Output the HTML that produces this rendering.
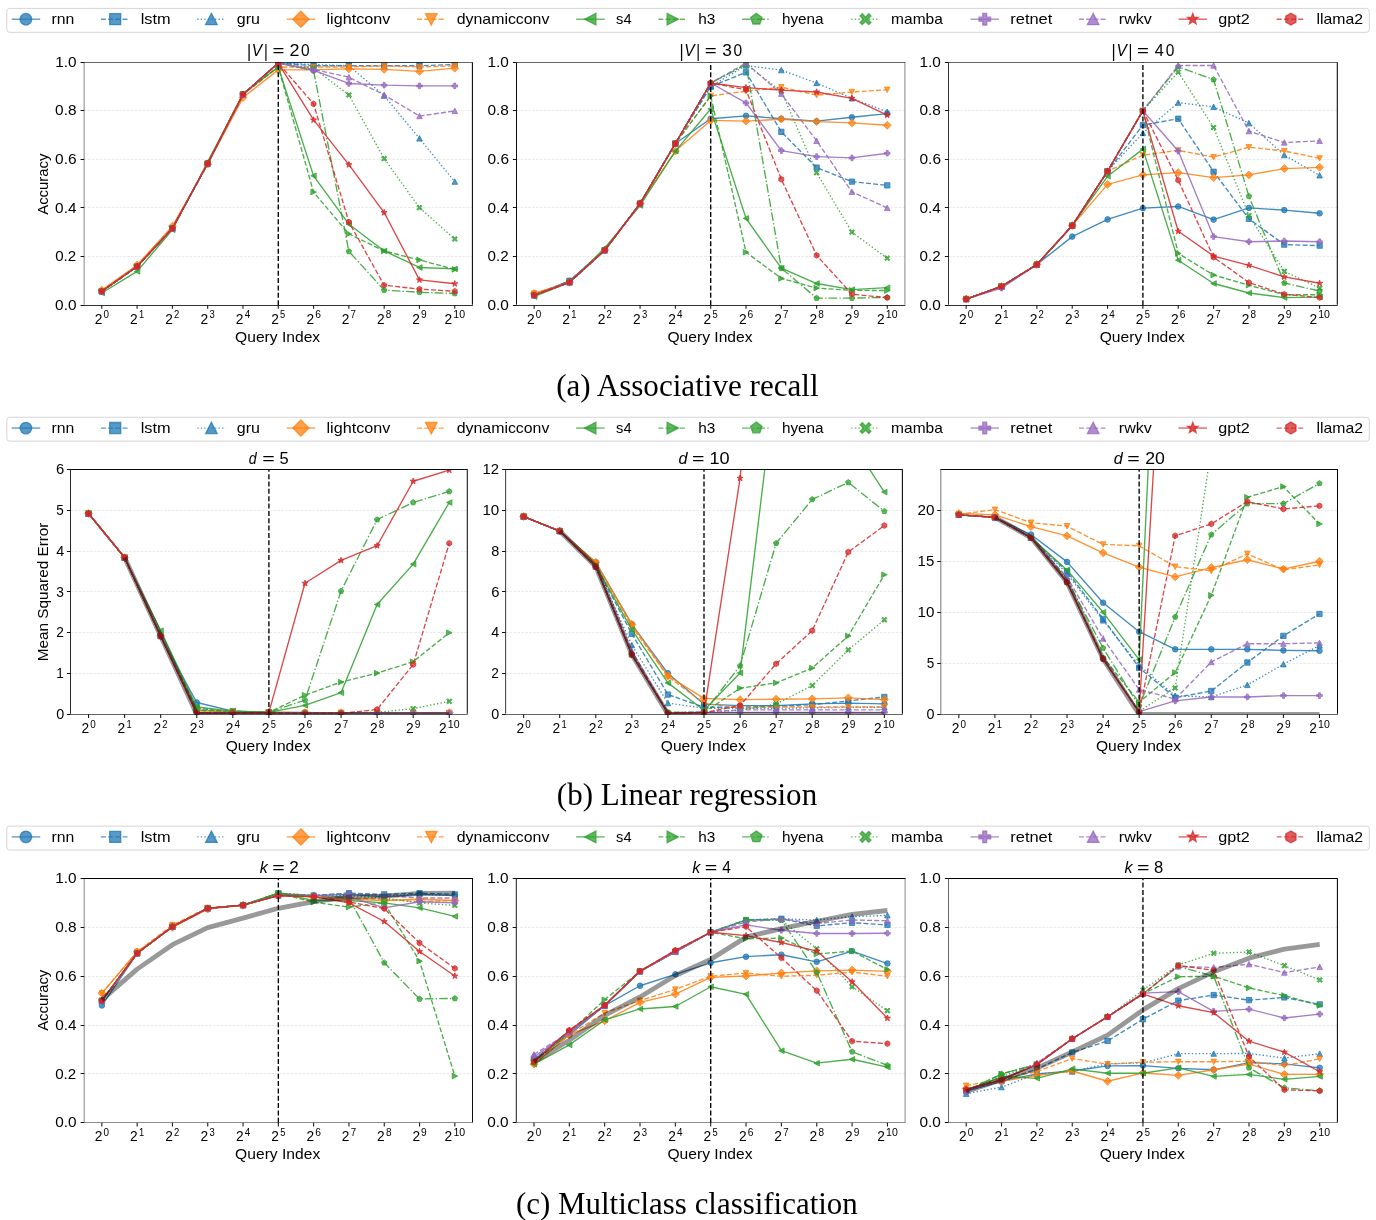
<!DOCTYPE html><html><head><meta charset="utf-8"><style>html,body{margin:0;padding:0;background:#fff;overflow:hidden;}svg{display:block;}#w{will-change:transform;width:1376px;height:1220px;}</style></head><body>
<div id="w">
<svg width="1376" height="1220" viewBox="0 0 1376 1220" font-family="Liberation Sans, sans-serif">
<rect x="0" y="0" width="1376" height="1220" fill="#fff"/>
<rect x="6.8" y="8.4" width="1362.5" height="23.9" rx="2.8" fill="#fff" stroke="#d5d5d5" stroke-width="1"/>
<line x1="11.7" y1="19.2" x2="40.2" y2="19.2" stroke="#1f77b4" stroke-opacity="0.75" stroke-width="1.35"/>
<circle cx="25.9" cy="19.2" r="5.8" fill="#1f77b4" fill-opacity="0.75" stroke="#1f77b4" stroke-opacity="0.75" stroke-width="1.3"/>
<text x="51.53" y="23.8" font-family="Liberation Sans, sans-serif" font-size="14.4" textLength="22.84" lengthAdjust="spacingAndGlyphs">rnn</text>
<line x1="100.92" y1="19.2" x2="129.42" y2="19.2" stroke="#1f77b4" stroke-opacity="0.75" stroke-width="1.35" stroke-dasharray="5.0,2.2"/>
<polygon points="109.7,13.7 120.7,13.7 120.7,24.7 109.7,24.7" fill="#1f77b4" fill-opacity="0.75" stroke="#1f77b4" stroke-opacity="0.75" stroke-width="1.3"/>
<text x="140.74" y="23.8" font-family="Liberation Sans, sans-serif" font-size="14.4" textLength="29.94" lengthAdjust="spacingAndGlyphs">lstm</text>
<line x1="197.19" y1="19.2" x2="225.69" y2="19.2" stroke="#1f77b4" stroke-opacity="0.75" stroke-width="1.35" stroke-dasharray="1.35,2.2"/>
<polygon points="211.4,13.4 217.2,24.7 205.6,24.7" fill="#1f77b4" fill-opacity="0.75" stroke="#1f77b4" stroke-opacity="0.75" stroke-width="1.3"/>
<text x="236.89" y="23.8" font-family="Liberation Sans, sans-serif" font-size="14.4" textLength="23.18" lengthAdjust="spacingAndGlyphs">gru</text>
<line x1="286.67" y1="19.2" x2="315.17" y2="19.2" stroke="#ff7f0e" stroke-opacity="0.75" stroke-width="1.35"/>
<polygon points="300.9,11.1 309,19.2 300.9,27.3 292.8,19.2" fill="#ff7f0e" fill-opacity="0.75" stroke="#ff7f0e" stroke-opacity="0.75" stroke-width="1.3"/>
<text x="326.5" y="23.8" font-family="Liberation Sans, sans-serif" font-size="14.4" textLength="63.77" lengthAdjust="spacingAndGlyphs">lightconv</text>
<line x1="417.03" y1="19.2" x2="445.53" y2="19.2" stroke="#ff7f0e" stroke-opacity="0.75" stroke-width="1.35" stroke-dasharray="5.0,2.2"/>
<polygon points="431.3,25 437.1,13.7 425.5,13.7" fill="#ff7f0e" fill-opacity="0.75" stroke="#ff7f0e" stroke-opacity="0.75" stroke-width="1.3"/>
<text x="456.73" y="23.8" font-family="Liberation Sans, sans-serif" font-size="14.4" textLength="92.68" lengthAdjust="spacingAndGlyphs">dynamicconv</text>
<line x1="576.17" y1="19.2" x2="604.67" y2="19.2" stroke="#2ca02c" stroke-opacity="0.75" stroke-width="1.35"/>
<polygon points="584.6,19.2 595.9,25 595.9,13.4" fill="#2ca02c" fill-opacity="0.75" stroke="#2ca02c" stroke-opacity="0.75" stroke-width="1.3"/>
<text x="616.11" y="23.8" font-family="Liberation Sans, sans-serif" font-size="14.4" textLength="15.47" lengthAdjust="spacingAndGlyphs">s4</text>
<line x1="658.34" y1="19.2" x2="686.84" y2="19.2" stroke="#2ca02c" stroke-opacity="0.75" stroke-width="1.35" stroke-dasharray="5.0,2.2"/>
<polygon points="678.4,19.2 667.1,25 667.1,13.4" fill="#2ca02c" fill-opacity="0.75" stroke="#2ca02c" stroke-opacity="0.75" stroke-width="1.3"/>
<text x="698.16" y="23.8" font-family="Liberation Sans, sans-serif" font-size="14.4" textLength="17.11" lengthAdjust="spacingAndGlyphs">h3</text>
<line x1="742.1" y1="19.2" x2="770.6" y2="19.2" stroke="#2ca02c" stroke-opacity="0.75" stroke-width="1.35" stroke-dasharray="8.6,2.2,1.35,2.2"/>
<polygon points="756.3,13.3 762,17.4 759.8,24 752.9,24 750.7,17.4" fill="#2ca02c" fill-opacity="0.75" stroke="#2ca02c" stroke-opacity="0.75" stroke-width="1.3"/>
<text x="781.92" y="23.8" font-family="Liberation Sans, sans-serif" font-size="14.4" textLength="41.69" lengthAdjust="spacingAndGlyphs">hyena</text>
<line x1="851.26" y1="19.2" x2="879.76" y2="19.2" stroke="#2ca02c" stroke-opacity="0.75" stroke-width="1.35" stroke-dasharray="1.35,2.2"/>
<polygon points="868.8,13.8 870.9,16 867.6,19.2 870.9,22.4 868.8,24.6 865.5,21.3 862.3,24.6 860.1,22.4 863.4,19.2 860.1,16 862.3,13.8 865.5,17.1" fill="#2ca02c" fill-opacity="0.75" stroke="#2ca02c" stroke-opacity="0.75" stroke-width="1.3"/>
<text x="891.11" y="23.8" font-family="Liberation Sans, sans-serif" font-size="14.4" textLength="51.74" lengthAdjust="spacingAndGlyphs">mamba</text>
<line x1="970.51" y1="19.2" x2="999.01" y2="19.2" stroke="#9467bd" stroke-opacity="0.75" stroke-width="1.35"/>
<polygon points="982.8,13.4 986.7,13.4 986.7,17.2 990.6,17.2 990.6,21.2 986.7,21.2 986.7,25 982.8,25 982.8,21.2 979,21.2 979,17.2 982.8,17.2" fill="#9467bd" fill-opacity="0.75" stroke="#9467bd" stroke-opacity="0.75" stroke-width="1.3"/>
<text x="1010.29" y="23.8" font-family="Liberation Sans, sans-serif" font-size="14.4" textLength="42.07" lengthAdjust="spacingAndGlyphs">retnet</text>
<line x1="1078.97" y1="19.2" x2="1107.47" y2="19.2" stroke="#9467bd" stroke-opacity="0.75" stroke-width="1.35" stroke-dasharray="5.0,2.2"/>
<polygon points="1093.2,13.4 1099,24.7 1087.4,24.7" fill="#9467bd" fill-opacity="0.75" stroke="#9467bd" stroke-opacity="0.75" stroke-width="1.3"/>
<text x="1118.79" y="23.8" font-family="Liberation Sans, sans-serif" font-size="14.4" textLength="32.99" lengthAdjust="spacingAndGlyphs">rwkv</text>
<line x1="1178.52" y1="19.2" x2="1207.02" y2="19.2" stroke="#d62728" stroke-opacity="0.75" stroke-width="1.35"/>
<polygon points="1192.8,13.5 1194.2,17.3 1198.2,17.4 1195,19.9 1196.1,23.8 1192.8,21.6 1189.4,23.8 1190.5,19.9 1187.4,17.4 1191.4,17.3" fill="#d62728" fill-opacity="0.75" stroke="#d62728" stroke-opacity="0.75" stroke-width="1.3"/>
<text x="1218.21" y="23.8" font-family="Liberation Sans, sans-serif" font-size="14.4" textLength="31.45" lengthAdjust="spacingAndGlyphs">gpt2</text>
<line x1="1276.65" y1="19.2" x2="1305.15" y2="19.2" stroke="#d62728" stroke-opacity="0.75" stroke-width="1.35" stroke-dasharray="5.0,2.2"/>
<polygon points="1290.9,13.3 1296,16.2 1296,22.2 1290.9,25.1 1285.8,22.2 1285.8,16.2" fill="#d62728" fill-opacity="0.75" stroke="#d62728" stroke-opacity="0.75" stroke-width="1.3"/>
<text x="1316.5" y="23.8" font-family="Liberation Sans, sans-serif" font-size="14.4" textLength="46.54" lengthAdjust="spacingAndGlyphs">llama2</text>
<rect x="6.8" y="417.25" width="1362.5" height="23.9" rx="2.8" fill="#fff" stroke="#d5d5d5" stroke-width="1"/>
<line x1="11.7" y1="428.05" x2="40.2" y2="428.05" stroke="#1f77b4" stroke-opacity="0.75" stroke-width="1.35"/>
<circle cx="25.9" cy="428.1" r="5.8" fill="#1f77b4" fill-opacity="0.75" stroke="#1f77b4" stroke-opacity="0.75" stroke-width="1.3"/>
<text x="51.53" y="432.65" font-family="Liberation Sans, sans-serif" font-size="14.4" textLength="22.84" lengthAdjust="spacingAndGlyphs">rnn</text>
<line x1="100.92" y1="428.05" x2="129.42" y2="428.05" stroke="#1f77b4" stroke-opacity="0.75" stroke-width="1.35" stroke-dasharray="5.0,2.2"/>
<polygon points="109.7,422.5 120.7,422.5 120.7,433.6 109.7,433.6" fill="#1f77b4" fill-opacity="0.75" stroke="#1f77b4" stroke-opacity="0.75" stroke-width="1.3"/>
<text x="140.74" y="432.65" font-family="Liberation Sans, sans-serif" font-size="14.4" textLength="29.94" lengthAdjust="spacingAndGlyphs">lstm</text>
<line x1="197.19" y1="428.05" x2="225.69" y2="428.05" stroke="#1f77b4" stroke-opacity="0.75" stroke-width="1.35" stroke-dasharray="1.35,2.2"/>
<polygon points="211.4,422.2 217.2,433.6 205.6,433.6" fill="#1f77b4" fill-opacity="0.75" stroke="#1f77b4" stroke-opacity="0.75" stroke-width="1.3"/>
<text x="236.89" y="432.65" font-family="Liberation Sans, sans-serif" font-size="14.4" textLength="23.18" lengthAdjust="spacingAndGlyphs">gru</text>
<line x1="286.67" y1="428.05" x2="315.17" y2="428.05" stroke="#ff7f0e" stroke-opacity="0.75" stroke-width="1.35"/>
<polygon points="300.9,419.9 309,428.1 300.9,436.2 292.8,428.1" fill="#ff7f0e" fill-opacity="0.75" stroke="#ff7f0e" stroke-opacity="0.75" stroke-width="1.3"/>
<text x="326.5" y="432.65" font-family="Liberation Sans, sans-serif" font-size="14.4" textLength="63.77" lengthAdjust="spacingAndGlyphs">lightconv</text>
<line x1="417.03" y1="428.05" x2="445.53" y2="428.05" stroke="#ff7f0e" stroke-opacity="0.75" stroke-width="1.35" stroke-dasharray="5.0,2.2"/>
<polygon points="431.3,433.9 437.1,422.5 425.5,422.5" fill="#ff7f0e" fill-opacity="0.75" stroke="#ff7f0e" stroke-opacity="0.75" stroke-width="1.3"/>
<text x="456.73" y="432.65" font-family="Liberation Sans, sans-serif" font-size="14.4" textLength="92.68" lengthAdjust="spacingAndGlyphs">dynamicconv</text>
<line x1="576.17" y1="428.05" x2="604.67" y2="428.05" stroke="#2ca02c" stroke-opacity="0.75" stroke-width="1.35"/>
<polygon points="584.6,428.1 595.9,433.9 595.9,422.2" fill="#2ca02c" fill-opacity="0.75" stroke="#2ca02c" stroke-opacity="0.75" stroke-width="1.3"/>
<text x="616.11" y="432.65" font-family="Liberation Sans, sans-serif" font-size="14.4" textLength="15.47" lengthAdjust="spacingAndGlyphs">s4</text>
<line x1="658.34" y1="428.05" x2="686.84" y2="428.05" stroke="#2ca02c" stroke-opacity="0.75" stroke-width="1.35" stroke-dasharray="5.0,2.2"/>
<polygon points="678.4,428.1 667.1,433.9 667.1,422.2" fill="#2ca02c" fill-opacity="0.75" stroke="#2ca02c" stroke-opacity="0.75" stroke-width="1.3"/>
<text x="698.16" y="432.65" font-family="Liberation Sans, sans-serif" font-size="14.4" textLength="17.11" lengthAdjust="spacingAndGlyphs">h3</text>
<line x1="742.1" y1="428.05" x2="770.6" y2="428.05" stroke="#2ca02c" stroke-opacity="0.75" stroke-width="1.35" stroke-dasharray="8.6,2.2,1.35,2.2"/>
<polygon points="756.3,422.1 762,426.2 759.8,432.8 752.9,432.8 750.7,426.2" fill="#2ca02c" fill-opacity="0.75" stroke="#2ca02c" stroke-opacity="0.75" stroke-width="1.3"/>
<text x="781.92" y="432.65" font-family="Liberation Sans, sans-serif" font-size="14.4" textLength="41.69" lengthAdjust="spacingAndGlyphs">hyena</text>
<line x1="851.26" y1="428.05" x2="879.76" y2="428.05" stroke="#2ca02c" stroke-opacity="0.75" stroke-width="1.35" stroke-dasharray="1.35,2.2"/>
<polygon points="868.8,422.7 870.9,424.8 867.6,428.1 870.9,431.3 868.8,433.4 865.5,430.2 862.3,433.4 860.1,431.3 863.4,428.1 860.1,424.8 862.3,422.7 865.5,425.9" fill="#2ca02c" fill-opacity="0.75" stroke="#2ca02c" stroke-opacity="0.75" stroke-width="1.3"/>
<text x="891.11" y="432.65" font-family="Liberation Sans, sans-serif" font-size="14.4" textLength="51.74" lengthAdjust="spacingAndGlyphs">mamba</text>
<line x1="970.51" y1="428.05" x2="999.01" y2="428.05" stroke="#9467bd" stroke-opacity="0.75" stroke-width="1.35"/>
<polygon points="982.8,422.2 986.7,422.2 986.7,426.1 990.6,426.1 990.6,430 986.7,430 986.7,433.9 982.8,433.9 982.8,430 979,430 979,426.1 982.8,426.1" fill="#9467bd" fill-opacity="0.75" stroke="#9467bd" stroke-opacity="0.75" stroke-width="1.3"/>
<text x="1010.29" y="432.65" font-family="Liberation Sans, sans-serif" font-size="14.4" textLength="42.07" lengthAdjust="spacingAndGlyphs">retnet</text>
<line x1="1078.97" y1="428.05" x2="1107.47" y2="428.05" stroke="#9467bd" stroke-opacity="0.75" stroke-width="1.35" stroke-dasharray="5.0,2.2"/>
<polygon points="1093.2,422.2 1099,433.6 1087.4,433.6" fill="#9467bd" fill-opacity="0.75" stroke="#9467bd" stroke-opacity="0.75" stroke-width="1.3"/>
<text x="1118.79" y="432.65" font-family="Liberation Sans, sans-serif" font-size="14.4" textLength="32.99" lengthAdjust="spacingAndGlyphs">rwkv</text>
<line x1="1178.52" y1="428.05" x2="1207.02" y2="428.05" stroke="#d62728" stroke-opacity="0.75" stroke-width="1.35"/>
<polygon points="1192.8,422.4 1194.2,426.1 1198.2,426.3 1195,428.8 1196.1,432.6 1192.8,430.4 1189.4,432.6 1190.5,428.8 1187.4,426.3 1191.4,426.1" fill="#d62728" fill-opacity="0.75" stroke="#d62728" stroke-opacity="0.75" stroke-width="1.3"/>
<text x="1218.21" y="432.65" font-family="Liberation Sans, sans-serif" font-size="14.4" textLength="31.45" lengthAdjust="spacingAndGlyphs">gpt2</text>
<line x1="1276.65" y1="428.05" x2="1305.15" y2="428.05" stroke="#d62728" stroke-opacity="0.75" stroke-width="1.35" stroke-dasharray="5.0,2.2"/>
<polygon points="1290.9,422.1 1296,425.1 1296,431 1290.9,434 1285.8,431 1285.8,425.1" fill="#d62728" fill-opacity="0.75" stroke="#d62728" stroke-opacity="0.75" stroke-width="1.3"/>
<text x="1316.5" y="432.65" font-family="Liberation Sans, sans-serif" font-size="14.4" textLength="46.54" lengthAdjust="spacingAndGlyphs">llama2</text>
<rect x="6.8" y="826.1" width="1362.5" height="23.9" rx="2.8" fill="#fff" stroke="#d5d5d5" stroke-width="1"/>
<line x1="11.7" y1="836.9" x2="40.2" y2="836.9" stroke="#1f77b4" stroke-opacity="0.75" stroke-width="1.35"/>
<circle cx="25.9" cy="836.9" r="5.8" fill="#1f77b4" fill-opacity="0.75" stroke="#1f77b4" stroke-opacity="0.75" stroke-width="1.3"/>
<text x="51.53" y="841.5" font-family="Liberation Sans, sans-serif" font-size="14.4" textLength="22.84" lengthAdjust="spacingAndGlyphs">rnn</text>
<line x1="100.92" y1="836.9" x2="129.42" y2="836.9" stroke="#1f77b4" stroke-opacity="0.75" stroke-width="1.35" stroke-dasharray="5.0,2.2"/>
<polygon points="109.7,831.4 120.7,831.4 120.7,842.4 109.7,842.4" fill="#1f77b4" fill-opacity="0.75" stroke="#1f77b4" stroke-opacity="0.75" stroke-width="1.3"/>
<text x="140.74" y="841.5" font-family="Liberation Sans, sans-serif" font-size="14.4" textLength="29.94" lengthAdjust="spacingAndGlyphs">lstm</text>
<line x1="197.19" y1="836.9" x2="225.69" y2="836.9" stroke="#1f77b4" stroke-opacity="0.75" stroke-width="1.35" stroke-dasharray="1.35,2.2"/>
<polygon points="211.4,831.1 217.2,842.4 205.6,842.4" fill="#1f77b4" fill-opacity="0.75" stroke="#1f77b4" stroke-opacity="0.75" stroke-width="1.3"/>
<text x="236.89" y="841.5" font-family="Liberation Sans, sans-serif" font-size="14.4" textLength="23.18" lengthAdjust="spacingAndGlyphs">gru</text>
<line x1="286.67" y1="836.9" x2="315.17" y2="836.9" stroke="#ff7f0e" stroke-opacity="0.75" stroke-width="1.35"/>
<polygon points="300.9,828.8 309,836.9 300.9,845 292.8,836.9" fill="#ff7f0e" fill-opacity="0.75" stroke="#ff7f0e" stroke-opacity="0.75" stroke-width="1.3"/>
<text x="326.5" y="841.5" font-family="Liberation Sans, sans-serif" font-size="14.4" textLength="63.77" lengthAdjust="spacingAndGlyphs">lightconv</text>
<line x1="417.03" y1="836.9" x2="445.53" y2="836.9" stroke="#ff7f0e" stroke-opacity="0.75" stroke-width="1.35" stroke-dasharray="5.0,2.2"/>
<polygon points="431.3,842.7 437.1,831.4 425.5,831.4" fill="#ff7f0e" fill-opacity="0.75" stroke="#ff7f0e" stroke-opacity="0.75" stroke-width="1.3"/>
<text x="456.73" y="841.5" font-family="Liberation Sans, sans-serif" font-size="14.4" textLength="92.68" lengthAdjust="spacingAndGlyphs">dynamicconv</text>
<line x1="576.17" y1="836.9" x2="604.67" y2="836.9" stroke="#2ca02c" stroke-opacity="0.75" stroke-width="1.35"/>
<polygon points="584.6,836.9 595.9,842.7 595.9,831.1" fill="#2ca02c" fill-opacity="0.75" stroke="#2ca02c" stroke-opacity="0.75" stroke-width="1.3"/>
<text x="616.11" y="841.5" font-family="Liberation Sans, sans-serif" font-size="14.4" textLength="15.47" lengthAdjust="spacingAndGlyphs">s4</text>
<line x1="658.34" y1="836.9" x2="686.84" y2="836.9" stroke="#2ca02c" stroke-opacity="0.75" stroke-width="1.35" stroke-dasharray="5.0,2.2"/>
<polygon points="678.4,836.9 667.1,842.7 667.1,831.1" fill="#2ca02c" fill-opacity="0.75" stroke="#2ca02c" stroke-opacity="0.75" stroke-width="1.3"/>
<text x="698.16" y="841.5" font-family="Liberation Sans, sans-serif" font-size="14.4" textLength="17.11" lengthAdjust="spacingAndGlyphs">h3</text>
<line x1="742.1" y1="836.9" x2="770.6" y2="836.9" stroke="#2ca02c" stroke-opacity="0.75" stroke-width="1.35" stroke-dasharray="8.6,2.2,1.35,2.2"/>
<polygon points="756.3,831 762,835.1 759.8,841.7 752.9,841.7 750.7,835.1" fill="#2ca02c" fill-opacity="0.75" stroke="#2ca02c" stroke-opacity="0.75" stroke-width="1.3"/>
<text x="781.92" y="841.5" font-family="Liberation Sans, sans-serif" font-size="14.4" textLength="41.69" lengthAdjust="spacingAndGlyphs">hyena</text>
<line x1="851.26" y1="836.9" x2="879.76" y2="836.9" stroke="#2ca02c" stroke-opacity="0.75" stroke-width="1.35" stroke-dasharray="1.35,2.2"/>
<polygon points="868.8,831.5 870.9,833.7 867.6,836.9 870.9,840.1 868.8,842.3 865.5,839 862.3,842.3 860.1,840.1 863.4,836.9 860.1,833.7 862.3,831.5 865.5,834.8" fill="#2ca02c" fill-opacity="0.75" stroke="#2ca02c" stroke-opacity="0.75" stroke-width="1.3"/>
<text x="891.11" y="841.5" font-family="Liberation Sans, sans-serif" font-size="14.4" textLength="51.74" lengthAdjust="spacingAndGlyphs">mamba</text>
<line x1="970.51" y1="836.9" x2="999.01" y2="836.9" stroke="#9467bd" stroke-opacity="0.75" stroke-width="1.35"/>
<polygon points="982.8,831.1 986.7,831.1 986.7,834.9 990.6,834.9 990.6,838.9 986.7,838.9 986.7,842.7 982.8,842.7 982.8,838.9 979,838.9 979,834.9 982.8,834.9" fill="#9467bd" fill-opacity="0.75" stroke="#9467bd" stroke-opacity="0.75" stroke-width="1.3"/>
<text x="1010.29" y="841.5" font-family="Liberation Sans, sans-serif" font-size="14.4" textLength="42.07" lengthAdjust="spacingAndGlyphs">retnet</text>
<line x1="1078.97" y1="836.9" x2="1107.47" y2="836.9" stroke="#9467bd" stroke-opacity="0.75" stroke-width="1.35" stroke-dasharray="5.0,2.2"/>
<polygon points="1093.2,831.1 1099,842.4 1087.4,842.4" fill="#9467bd" fill-opacity="0.75" stroke="#9467bd" stroke-opacity="0.75" stroke-width="1.3"/>
<text x="1118.79" y="841.5" font-family="Liberation Sans, sans-serif" font-size="14.4" textLength="32.99" lengthAdjust="spacingAndGlyphs">rwkv</text>
<line x1="1178.52" y1="836.9" x2="1207.02" y2="836.9" stroke="#d62728" stroke-opacity="0.75" stroke-width="1.35"/>
<polygon points="1192.8,831.2 1194.2,835 1198.2,835.1 1195,837.6 1196.1,841.5 1192.8,839.3 1189.4,841.5 1190.5,837.6 1187.4,835.1 1191.4,835" fill="#d62728" fill-opacity="0.75" stroke="#d62728" stroke-opacity="0.75" stroke-width="1.3"/>
<text x="1218.21" y="841.5" font-family="Liberation Sans, sans-serif" font-size="14.4" textLength="31.45" lengthAdjust="spacingAndGlyphs">gpt2</text>
<line x1="1276.65" y1="836.9" x2="1305.15" y2="836.9" stroke="#d62728" stroke-opacity="0.75" stroke-width="1.35" stroke-dasharray="5.0,2.2"/>
<polygon points="1290.9,831 1296,833.9 1296,839.9 1290.9,842.8 1285.8,839.9 1285.8,833.9" fill="#d62728" fill-opacity="0.75" stroke="#d62728" stroke-opacity="0.75" stroke-width="1.3"/>
<text x="1316.5" y="841.5" font-family="Liberation Sans, sans-serif" font-size="14.4" textLength="46.54" lengthAdjust="spacingAndGlyphs">llama2</text>
<clipPath id="c0"><rect x="84.15" y="62.1" width="388.25" height="243.05"/></clipPath>
<line x1="84.15" y1="256.5" x2="472.4" y2="256.5" stroke="#b0b0b0" stroke-opacity="0.3" stroke-width="0.9" stroke-dasharray="2.8,1.1"/>
<line x1="84.15" y1="207.5" x2="472.4" y2="207.5" stroke="#b0b0b0" stroke-opacity="0.3" stroke-width="0.9" stroke-dasharray="2.8,1.1"/>
<line x1="84.15" y1="159.5" x2="472.4" y2="159.5" stroke="#b0b0b0" stroke-opacity="0.3" stroke-width="0.9" stroke-dasharray="2.8,1.1"/>
<line x1="84.15" y1="110.5" x2="472.4" y2="110.5" stroke="#b0b0b0" stroke-opacity="0.3" stroke-width="0.9" stroke-dasharray="2.8,1.1"/>
<g clip-path="url(#c0)">
<polyline points="101.8,291.3 137.09,266.51 172.39,228.35 207.68,163.45 242.98,94.43 278.27,63.07 313.57,62.1 348.87,62.1 384.16,62.1 419.46,62.1 454.75,62.1" fill="none" stroke="#1f77b4" stroke-opacity="0.85" stroke-width="1.35" stroke-linejoin="round"/>
<g fill="#1f77b4" fill-opacity="0.75" stroke="#1f77b4" stroke-opacity="0.75" stroke-width="1">
<circle cx="101.8" cy="291.3" r="2.8"/>
<circle cx="137.1" cy="266.5" r="2.8"/>
<circle cx="172.4" cy="228.3" r="2.8"/>
<circle cx="207.7" cy="163.5" r="2.8"/>
<circle cx="243" cy="94.4" r="2.8"/>
<circle cx="278.3" cy="63.1" r="2.8"/>
<circle cx="313.6" cy="62.1" r="2.8"/>
<circle cx="348.9" cy="62.1" r="2.8"/>
<circle cx="384.2" cy="62.1" r="2.8"/>
<circle cx="419.5" cy="62.1" r="2.8"/>
<circle cx="454.8" cy="62.1" r="2.8"/>
</g>
<polyline points="101.8,291.3 137.09,266.51 172.39,228.35 207.68,163.45 242.98,94.43 278.27,63.07 313.57,65.75 348.87,65.75 384.16,65.75 419.46,65.75 454.75,64.53" fill="none" stroke="#1f77b4" stroke-opacity="0.85" stroke-width="1.35" stroke-linejoin="round" stroke-dasharray="5.0,2.2"/>
<g fill="#1f77b4" fill-opacity="0.75" stroke="#1f77b4" stroke-opacity="0.75" stroke-width="1">
<polygon points="99.1,288.6 104.5,288.6 104.5,294 99.1,294"/>
<polygon points="134.4,263.8 139.8,263.8 139.8,269.2 134.4,269.2"/>
<polygon points="169.7,225.7 175,225.7 175,231 169.7,231"/>
<polygon points="205,160.8 210.3,160.8 210.3,166.1 205,166.1"/>
<polygon points="240.3,91.8 245.6,91.8 245.6,97.1 240.3,97.1"/>
<polygon points="275.6,60.4 280.9,60.4 280.9,65.7 275.6,65.7"/>
<polygon points="310.9,63.1 316.2,63.1 316.2,68.4 310.9,68.4"/>
<polygon points="346.2,63.1 351.5,63.1 351.5,68.4 346.2,68.4"/>
<polygon points="381.5,63.1 386.8,63.1 386.8,68.4 381.5,68.4"/>
<polygon points="416.8,63.1 422.1,63.1 422.1,68.4 416.8,68.4"/>
<polygon points="452.1,61.9 457.4,61.9 457.4,67.2 452.1,67.2"/>
</g>
<polyline points="101.8,291.3 137.09,266.51 172.39,228.35 207.68,163.45 242.98,94.43 278.27,63.07 313.57,64.53 348.87,65.75 384.16,95.64 419.46,138.42 454.75,181.68" fill="none" stroke="#1f77b4" stroke-opacity="0.85" stroke-width="1.35" stroke-linejoin="round" stroke-dasharray="1.35,2.2"/>
<g fill="#1f77b4" fill-opacity="0.75" stroke="#1f77b4" stroke-opacity="0.75" stroke-width="1">
<polygon points="101.8,288.5 104.6,294 99,294"/>
<polygon points="137.1,263.7 139.9,269.2 134.3,269.2"/>
<polygon points="172.4,225.5 175.2,231 169.6,231"/>
<polygon points="207.7,160.7 210.5,166.1 204.9,166.1"/>
<polygon points="243,91.6 245.8,97.1 240.2,97.1"/>
<polygon points="278.3,60.3 281.1,65.7 275.5,65.7"/>
<polygon points="313.6,61.7 316.4,67.2 310.8,67.2"/>
<polygon points="348.9,62.9 351.7,68.4 346.1,68.4"/>
<polygon points="384.2,92.8 387,98.3 381.4,98.3"/>
<polygon points="419.5,135.6 422.3,141.1 416.7,141.1"/>
<polygon points="454.8,178.9 457.6,184.3 452,184.3"/>
</g>
<polyline points="101.8,290.08 137.09,265.05 172.39,226.16 207.68,164.18 242.98,97.59 278.27,69.88 313.57,69.88 348.87,68.91 384.16,69.39 419.46,71.34 454.75,68.18" fill="none" stroke="#ff7f0e" stroke-opacity="0.85" stroke-width="1.35" stroke-linejoin="round"/>
<g fill="#ff7f0e" fill-opacity="0.75" stroke="#ff7f0e" stroke-opacity="0.75" stroke-width="1">
<polygon points="101.8,286.2 105.7,290.1 101.8,294 97.9,290.1"/>
<polygon points="137.1,261.1 141,265 137.1,269 133.2,265"/>
<polygon points="172.4,222.2 176.3,226.2 172.4,230.1 168.5,226.2"/>
<polygon points="207.7,160.3 211.6,164.2 207.7,168.1 203.8,164.2"/>
<polygon points="243,93.7 246.9,97.6 243,101.5 239.1,97.6"/>
<polygon points="278.3,66 282.2,69.9 278.3,73.8 274.4,69.9"/>
<polygon points="313.6,66 317.5,69.9 313.6,73.8 309.7,69.9"/>
<polygon points="348.9,65 352.8,68.9 348.9,72.8 344.9,68.9"/>
<polygon points="384.2,65.5 388.1,69.4 384.2,73.3 380.2,69.4"/>
<polygon points="419.5,67.4 423.4,71.3 419.5,75.3 415.5,71.3"/>
<polygon points="454.8,64.3 458.7,68.2 454.8,72.1 450.8,68.2"/>
</g>
<polyline points="101.8,291.3 137.09,266.51 172.39,228.35 207.68,163.45 242.98,94.43 278.27,66.96 313.57,66.96 348.87,66.96 384.16,65.75 419.46,66.96 454.75,65.75" fill="none" stroke="#ff7f0e" stroke-opacity="0.85" stroke-width="1.35" stroke-linejoin="round" stroke-dasharray="5.0,2.2"/>
<g fill="#ff7f0e" fill-opacity="0.75" stroke="#ff7f0e" stroke-opacity="0.75" stroke-width="1">
<polygon points="101.8,294.1 104.6,288.6 99,288.6"/>
<polygon points="137.1,269.3 139.9,263.8 134.3,263.8"/>
<polygon points="172.4,231.1 175.2,225.7 169.6,225.7"/>
<polygon points="207.7,166.3 210.5,160.8 204.9,160.8"/>
<polygon points="243,97.2 245.8,91.8 240.2,91.8"/>
<polygon points="278.3,69.8 281.1,64.3 275.5,64.3"/>
<polygon points="313.6,69.8 316.4,64.3 310.8,64.3"/>
<polygon points="348.9,69.8 351.7,64.3 346.1,64.3"/>
<polygon points="384.2,68.5 387,63.1 381.4,63.1"/>
<polygon points="419.5,69.8 422.3,64.3 416.7,64.3"/>
<polygon points="454.8,68.5 457.6,63.1 452,63.1"/>
</g>
<polyline points="101.8,293 137.09,271.37 172.39,229.8 207.68,161.75 242.98,93.7 278.27,66.96 313.57,175.85 348.87,224.21 384.16,250.95 419.46,267.48 454.75,268.94" fill="none" stroke="#2ca02c" stroke-opacity="0.85" stroke-width="1.35" stroke-linejoin="round"/>
<g fill="#2ca02c" fill-opacity="0.75" stroke="#2ca02c" stroke-opacity="0.75" stroke-width="1">
<polygon points="99,293 104.5,295.8 104.5,290.2"/>
<polygon points="134.3,271.4 139.8,274.2 139.8,268.6"/>
<polygon points="169.6,229.8 175,232.6 175,227"/>
<polygon points="204.9,161.8 210.3,164.6 210.3,159"/>
<polygon points="240.2,93.7 245.6,96.5 245.6,90.9"/>
<polygon points="275.5,67 280.9,69.8 280.9,64.2"/>
<polygon points="310.8,175.8 316.2,178.6 316.2,173"/>
<polygon points="346.1,224.2 351.5,227 351.5,221.4"/>
<polygon points="381.4,250.9 386.8,253.7 386.8,248.1"/>
<polygon points="416.7,267.5 422.1,270.3 422.1,264.7"/>
<polygon points="452,268.9 457.4,271.7 457.4,266.1"/>
</g>
<polyline points="101.8,291.3 137.09,266.51 172.39,228.35 207.68,163.45 242.98,94.43 278.27,66.96 313.57,192.13 348.87,233.94 384.16,250.95 419.46,259.94 454.75,269.42" fill="none" stroke="#2ca02c" stroke-opacity="0.85" stroke-width="1.35" stroke-linejoin="round" stroke-dasharray="5.0,2.2"/>
<g fill="#2ca02c" fill-opacity="0.75" stroke="#2ca02c" stroke-opacity="0.75" stroke-width="1">
<polygon points="104.6,291.3 99.1,294.1 99.1,288.5"/>
<polygon points="139.9,266.5 134.4,269.3 134.4,263.7"/>
<polygon points="175.2,228.3 169.7,231.1 169.7,225.5"/>
<polygon points="210.5,163.5 205,166.3 205,160.7"/>
<polygon points="245.8,94.4 240.3,97.2 240.3,91.6"/>
<polygon points="281.1,67 275.6,69.8 275.6,64.2"/>
<polygon points="316.4,192.1 310.9,194.9 310.9,189.3"/>
<polygon points="351.7,233.9 346.2,236.7 346.2,231.1"/>
<polygon points="387,250.9 381.5,253.7 381.5,248.1"/>
<polygon points="422.3,259.9 416.8,262.7 416.8,257.1"/>
<polygon points="457.6,269.4 452.1,272.2 452.1,266.6"/>
</g>
<polyline points="101.8,291.3 137.09,266.51 172.39,228.35 207.68,163.45 242.98,94.43 278.27,63.07 313.57,70.61 348.87,251.44 384.16,290.08 419.46,292.27 454.75,293.48" fill="none" stroke="#2ca02c" stroke-opacity="0.85" stroke-width="1.35" stroke-linejoin="round" stroke-dasharray="8.6,2.2,1.35,2.2"/>
<g fill="#2ca02c" fill-opacity="0.75" stroke="#2ca02c" stroke-opacity="0.75" stroke-width="1">
<polygon points="101.8,288.4 104.5,290.4 103.5,293.6 100.1,293.6 99.1,290.4"/>
<polygon points="137.1,263.6 139.8,265.6 138.8,268.8 135.4,268.8 134.4,265.6"/>
<polygon points="172.4,225.5 175.1,227.5 174.1,230.7 170.7,230.7 169.7,227.5"/>
<polygon points="207.7,160.6 210.4,162.6 209.4,165.8 206,165.8 205,162.6"/>
<polygon points="243,91.6 245.7,93.5 244.7,96.7 241.3,96.7 240.3,93.5"/>
<polygon points="278.3,60.2 281,62.2 280,65.4 276.6,65.4 275.6,62.2"/>
<polygon points="313.6,67.8 316.3,69.7 315.2,72.9 311.9,72.9 310.9,69.7"/>
<polygon points="348.9,248.6 351.6,250.6 350.5,253.7 347.2,253.7 346.1,250.6"/>
<polygon points="384.2,287.2 386.9,289.2 385.8,292.4 382.5,292.4 381.4,289.2"/>
<polygon points="419.5,289.4 422.2,291.4 421.1,294.6 417.8,294.6 416.7,291.4"/>
<polygon points="454.8,290.6 457.5,292.6 456.4,295.8 453.1,295.8 452,292.6"/>
</g>
<polyline points="101.8,291.3 137.09,266.51 172.39,228.35 207.68,163.45 242.98,94.43 278.27,63.07 313.57,68.18 348.87,94.91 384.16,158.59 419.46,207.69 454.75,239.04" fill="none" stroke="#2ca02c" stroke-opacity="0.85" stroke-width="1.35" stroke-linejoin="round" stroke-dasharray="1.35,2.2"/>
<g fill="#2ca02c" fill-opacity="0.75" stroke="#2ca02c" stroke-opacity="0.75" stroke-width="1">
<polygon points="103.4,288.7 104.4,289.7 102.8,291.3 104.4,292.9 103.4,293.9 101.8,292.3 100.2,293.9 99.2,292.9 100.8,291.3 99.2,289.7 100.2,288.7 101.8,290.3"/>
<polygon points="138.7,263.9 139.7,264.9 138.1,266.5 139.7,268.1 138.7,269.1 137.1,267.5 135.5,269.1 134.5,268.1 136.1,266.5 134.5,264.9 135.5,263.9 137.1,265.5"/>
<polygon points="174,225.8 175,226.8 173.4,228.3 175,229.9 174,230.9 172.4,229.4 170.8,230.9 169.8,229.9 171.4,228.3 169.8,226.8 170.8,225.8 172.4,227.3"/>
<polygon points="209.2,160.9 210.3,161.9 208.7,163.5 210.3,165 209.2,166 207.7,164.5 206.1,166 205.1,165 206.7,163.5 205.1,161.9 206.1,160.9 207.7,162.4"/>
<polygon points="244.5,91.8 245.6,92.9 244,94.4 245.6,96 244.5,97 243,95.5 241.4,97 240.4,96 241.9,94.4 240.4,92.9 241.4,91.8 243,93.4"/>
<polygon points="279.8,60.5 280.9,61.5 279.3,63.1 280.9,64.6 279.8,65.7 278.3,64.1 276.7,65.7 275.7,64.6 277.2,63.1 275.7,61.5 276.7,60.5 278.3,62"/>
<polygon points="315.1,65.6 316.2,66.6 314.6,68.2 316.2,69.7 315.1,70.8 313.6,69.2 312,70.8 311,69.7 312.5,68.2 311,66.6 312,65.6 313.6,67.1"/>
<polygon points="350.4,92.3 351.5,93.3 349.9,94.9 351.5,96.5 350.4,97.5 348.9,95.9 347.3,97.5 346.3,96.5 347.8,94.9 346.3,93.3 347.3,92.3 348.9,93.9"/>
<polygon points="385.7,156 386.8,157 385.2,158.6 386.8,160.2 385.7,161.2 384.2,159.6 382.6,161.2 381.6,160.2 383.1,158.6 381.6,157 382.6,156 384.2,157.6"/>
<polygon points="421,205.1 422.1,206.1 420.5,207.7 422.1,209.3 421,210.3 419.5,208.7 417.9,210.3 416.9,209.3 418.4,207.7 416.9,206.1 417.9,205.1 419.5,206.7"/>
<polygon points="456.3,236.4 457.3,237.5 455.8,239 457.3,240.6 456.3,241.6 454.8,240.1 453.2,241.6 452.2,240.6 453.7,239 452.2,237.5 453.2,236.4 454.8,238"/>
</g>
<polyline points="101.8,291.3 137.09,266.51 172.39,228.35 207.68,163.45 242.98,94.43 278.27,63.07 313.57,70.36 348.87,83.49 384.16,85.19 419.46,85.92 454.75,85.92" fill="none" stroke="#9467bd" stroke-opacity="0.85" stroke-width="1.35" stroke-linejoin="round"/>
<g fill="#9467bd" fill-opacity="0.75" stroke="#9467bd" stroke-opacity="0.75" stroke-width="1">
<polygon points="100.8,288.5 102.7,288.5 102.7,290.3 104.6,290.3 104.6,292.2 102.7,292.2 102.7,294.1 100.8,294.1 100.8,292.2 99,292.2 99,290.3 100.8,290.3"/>
<polygon points="136.1,263.7 138,263.7 138,265.6 139.9,265.6 139.9,267.5 138,267.5 138,269.3 136.1,269.3 136.1,267.5 134.3,267.5 134.3,265.6 136.1,265.6"/>
<polygon points="171.4,225.5 173.3,225.5 173.3,227.4 175.2,227.4 175.2,229.3 173.3,229.3 173.3,231.1 171.4,231.1 171.4,229.3 169.6,229.3 169.6,227.4 171.4,227.4"/>
<polygon points="206.7,160.7 208.6,160.7 208.6,162.5 210.5,162.5 210.5,164.4 208.6,164.4 208.6,166.3 206.7,166.3 206.7,164.4 204.9,164.4 204.9,162.5 206.7,162.5"/>
<polygon points="242,91.6 243.9,91.6 243.9,93.5 245.8,93.5 245.8,95.4 243.9,95.4 243.9,97.2 242,97.2 242,95.4 240.2,95.4 240.2,93.5 242,93.5"/>
<polygon points="277.3,60.3 279.2,60.3 279.2,62.1 281.1,62.1 281.1,64 279.2,64 279.2,65.9 277.3,65.9 277.3,64 275.5,64 275.5,62.1 277.3,62.1"/>
<polygon points="312.6,67.6 314.5,67.6 314.5,69.4 316.4,69.4 316.4,71.3 314.5,71.3 314.5,73.2 312.6,73.2 312.6,71.3 310.8,71.3 310.8,69.4 312.6,69.4"/>
<polygon points="347.9,80.7 349.8,80.7 349.8,82.5 351.7,82.5 351.7,84.4 349.8,84.4 349.8,86.3 347.9,86.3 347.9,84.4 346.1,84.4 346.1,82.5 347.9,82.5"/>
<polygon points="383.2,82.4 385.1,82.4 385.1,84.2 387,84.2 387,86.1 385.1,86.1 385.1,88 383.2,88 383.2,86.1 381.4,86.1 381.4,84.2 383.2,84.2"/>
<polygon points="418.5,83.1 420.4,83.1 420.4,85 422.3,85 422.3,86.9 420.4,86.9 420.4,88.7 418.5,88.7 418.5,86.9 416.7,86.9 416.7,85 418.5,85"/>
<polygon points="453.8,83.1 455.7,83.1 455.7,85 457.6,85 457.6,86.9 455.7,86.9 455.7,88.7 453.8,88.7 453.8,86.9 452,86.9 452,85 453.8,85"/>
</g>
<polyline points="101.8,291.3 137.09,266.51 172.39,228.35 207.68,163.45 242.98,94.43 278.27,63.07 313.57,69.39 348.87,77.17 384.16,94.91 419.46,116.06 454.75,110.95" fill="none" stroke="#9467bd" stroke-opacity="0.85" stroke-width="1.35" stroke-linejoin="round" stroke-dasharray="5.0,2.2"/>
<g fill="#9467bd" fill-opacity="0.75" stroke="#9467bd" stroke-opacity="0.75" stroke-width="1">
<polygon points="101.8,288.5 104.6,294 99,294"/>
<polygon points="137.1,263.7 139.9,269.2 134.3,269.2"/>
<polygon points="172.4,225.5 175.2,231 169.6,231"/>
<polygon points="207.7,160.7 210.5,166.1 204.9,166.1"/>
<polygon points="243,91.6 245.8,97.1 240.2,97.1"/>
<polygon points="278.3,60.3 281.1,65.7 275.5,65.7"/>
<polygon points="313.6,66.6 316.4,72.1 310.8,72.1"/>
<polygon points="348.9,74.4 351.7,79.8 346.1,79.8"/>
<polygon points="384.2,92.1 387,97.6 381.4,97.6"/>
<polygon points="419.5,113.3 422.3,118.7 416.7,118.7"/>
<polygon points="454.8,108.2 457.6,113.6 452,113.6"/>
</g>
<polyline points="101.8,291.3 137.09,266.51 172.39,228.35 207.68,163.45 242.98,94.43 278.27,63.07 313.57,119.95 348.87,164.67 384.16,212.55 419.46,279.87 454.75,283.76" fill="none" stroke="#d62728" stroke-opacity="0.85" stroke-width="1.35" stroke-linejoin="round"/>
<g fill="#d62728" fill-opacity="0.75" stroke="#d62728" stroke-opacity="0.75" stroke-width="1">
<polygon points="101.8,288.1 102.6,290.2 104.9,290.3 103.1,291.7 103.7,293.9 101.8,292.6 99.9,293.9 100.5,291.7 98.7,290.3 101,290.2"/>
<polygon points="137.1,263.3 137.9,265.4 140.2,265.5 138.4,266.9 139,269.1 137.1,267.9 135.2,269.1 135.8,266.9 134,265.5 136.3,265.4"/>
<polygon points="172.4,225.1 173.2,227.3 175.5,227.4 173.7,228.8 174.3,231 172.4,229.7 170.5,231 171.1,228.8 169.3,227.4 171.6,227.3"/>
<polygon points="207.7,160.2 208.5,162.4 210.7,162.5 209,163.9 209.6,166.1 207.7,164.8 205.8,166.1 206.4,163.9 204.6,162.5 206.9,162.4"/>
<polygon points="243,91.2 243.8,93.3 246,93.4 244.3,94.8 244.9,97 243,95.8 241.1,97 241.7,94.8 239.9,93.4 242.2,93.3"/>
<polygon points="278.3,59.9 279.1,62 281.3,62.1 279.6,63.5 280.2,65.7 278.3,64.4 276.4,65.7 277,63.5 275.2,62.1 277.5,62"/>
<polygon points="313.6,116.7 314.4,118.9 316.6,119 314.9,120.4 315.5,122.6 313.6,121.3 311.7,122.6 312.3,120.4 310.5,119 312.8,118.9"/>
<polygon points="348.9,161.4 349.7,163.6 351.9,163.7 350.2,165.1 350.8,167.3 348.9,166 347,167.3 347.6,165.1 345.8,163.7 348.1,163.6"/>
<polygon points="384.2,209.3 385,211.5 387.2,211.6 385.4,213 386.1,215.2 384.2,213.9 382.3,215.2 382.9,213 381.1,211.6 383.4,211.5"/>
<polygon points="419.5,276.7 420.3,278.8 422.5,278.9 420.7,280.3 421.3,282.5 419.5,281.2 417.6,282.5 418.2,280.3 416.4,278.9 418.7,278.8"/>
<polygon points="454.8,280.5 455.5,282.7 457.8,282.8 456,284.2 456.6,286.4 454.8,285.1 452.9,286.4 453.5,284.2 451.7,282.8 454,282.7"/>
</g>
<polyline points="101.8,291.3 137.09,266.51 172.39,228.35 207.68,163.45 242.98,94.43 278.27,63.07 313.57,103.9 348.87,222.03 384.16,285.22 419.46,289.11 454.75,291.3" fill="none" stroke="#d62728" stroke-opacity="0.85" stroke-width="1.35" stroke-linejoin="round" stroke-dasharray="5.0,2.2"/>
<g fill="#d62728" fill-opacity="0.75" stroke="#d62728" stroke-opacity="0.75" stroke-width="1">
<polygon points="101.8,288.4 104.3,289.9 104.3,292.7 101.8,294.2 99.3,292.7 99.3,289.9"/>
<polygon points="137.1,263.6 139.6,265.1 139.6,267.9 137.1,269.4 134.6,267.9 134.6,265.1"/>
<polygon points="172.4,225.5 174.9,226.9 174.9,229.8 172.4,231.2 169.9,229.8 169.9,226.9"/>
<polygon points="207.7,160.6 210.2,162 210.2,164.9 207.7,166.3 205.2,164.9 205.2,162"/>
<polygon points="243,91.6 245.5,93 245.5,95.9 243,97.3 240.5,95.9 240.5,93"/>
<polygon points="278.3,60.2 280.7,61.6 280.7,64.5 278.3,65.9 275.8,64.5 275.8,61.6"/>
<polygon points="313.6,101 316,102.5 316,105.3 313.6,106.8 311.1,105.3 311.1,102.5"/>
<polygon points="348.9,219.2 351.3,220.6 351.3,223.5 348.9,224.9 346.4,223.5 346.4,220.6"/>
<polygon points="384.2,282.4 386.6,283.8 386.6,286.6 384.2,288.1 381.7,286.6 381.7,283.8"/>
<polygon points="419.5,286.3 421.9,287.7 421.9,290.5 419.5,292 417,290.5 417,287.7"/>
<polygon points="454.8,288.4 457.2,289.9 457.2,292.7 454.8,294.2 452.3,292.7 452.3,289.9"/>
</g>
</g>
<line x1="278.27" y1="305.15" x2="278.27" y2="62.1" stroke="#000" stroke-width="1.35" stroke-dasharray="5.0,2.35"/>
<line x1="83.65" y1="62.5" x2="472.9" y2="62.5" stroke="#000" stroke-opacity="0.6" stroke-width="1.0"/>
<line x1="83.65" y1="305.5" x2="472.9" y2="305.5" stroke="#000" stroke-opacity="0.8" stroke-width="1.0"/>
<line x1="84.15" y1="62.6" x2="84.15" y2="304.65" stroke="#000" stroke-opacity="0.45" stroke-width="1.05"/>
<line x1="472.4" y1="62.6" x2="472.4" y2="304.65" stroke="#000" stroke-opacity="1.0" stroke-width="1.05"/>
<line x1="80.55" y1="305.5" x2="84.15" y2="305.5" stroke="#111" stroke-width="1.0"/>
<text x="55.14" y="309.8" font-family="Liberation Sans, sans-serif" font-size="14.8" textLength="21.38" lengthAdjust="spacingAndGlyphs">0.0</text>
<line x1="80.55" y1="256.5" x2="84.15" y2="256.5" stroke="#111" stroke-width="1.0"/>
<text x="55.15" y="261.19" font-family="Liberation Sans, sans-serif" font-size="14.8" textLength="21.06" lengthAdjust="spacingAndGlyphs">0.2</text>
<line x1="80.55" y1="207.5" x2="84.15" y2="207.5" stroke="#111" stroke-width="1.0"/>
<text x="55.14" y="212.58" font-family="Liberation Sans, sans-serif" font-size="14.8" textLength="21.37" lengthAdjust="spacingAndGlyphs">0.4</text>
<line x1="80.55" y1="159.5" x2="84.15" y2="159.5" stroke="#111" stroke-width="1.0"/>
<text x="55.14" y="163.97" font-family="Liberation Sans, sans-serif" font-size="14.8" textLength="21.51" lengthAdjust="spacingAndGlyphs">0.6</text>
<line x1="80.55" y1="110.5" x2="84.15" y2="110.5" stroke="#111" stroke-width="1.0"/>
<text x="55.14" y="115.36" font-family="Liberation Sans, sans-serif" font-size="14.8" textLength="21.42" lengthAdjust="spacingAndGlyphs">0.8</text>
<line x1="80.55" y1="62.5" x2="84.15" y2="62.5" stroke="#111" stroke-width="1.0"/>
<text x="55.19" y="66.75" font-family="Liberation Sans, sans-serif" font-size="14.8" textLength="21.33" lengthAdjust="spacingAndGlyphs">1.0</text>
<line x1="101.8" y1="305.15" x2="101.8" y2="308.75" stroke="#111" stroke-width="1.05"/>
<text x="94.67" y="323.6" font-family="Liberation Sans, sans-serif" font-size="14.8" textLength="7.65" lengthAdjust="spacingAndGlyphs">2</text>
<text x="103.49" y="318.45" font-family="Liberation Sans, sans-serif" font-size="10.4" textLength="5.51" lengthAdjust="spacingAndGlyphs">0</text>
<line x1="137.09" y1="305.15" x2="137.09" y2="308.75" stroke="#111" stroke-width="1.05"/>
<text x="129.97" y="323.6" font-family="Liberation Sans, sans-serif" font-size="14.8" textLength="7.65" lengthAdjust="spacingAndGlyphs">2</text>
<text x="138.89" y="318.45" font-family="Liberation Sans, sans-serif" font-size="10.4" textLength="5.22" lengthAdjust="spacingAndGlyphs">1</text>
<line x1="172.39" y1="305.15" x2="172.39" y2="308.75" stroke="#111" stroke-width="1.05"/>
<text x="165.26" y="323.6" font-family="Liberation Sans, sans-serif" font-size="14.8" textLength="7.65" lengthAdjust="spacingAndGlyphs">2</text>
<text x="174.06" y="318.45" font-family="Liberation Sans, sans-serif" font-size="10.4" textLength="5.28" lengthAdjust="spacingAndGlyphs">2</text>
<line x1="207.68" y1="305.15" x2="207.68" y2="308.75" stroke="#111" stroke-width="1.05"/>
<text x="200.56" y="323.6" font-family="Liberation Sans, sans-serif" font-size="14.8" textLength="7.65" lengthAdjust="spacingAndGlyphs">2</text>
<text x="209.5" y="318.45" font-family="Liberation Sans, sans-serif" font-size="10.4" textLength="5.28" lengthAdjust="spacingAndGlyphs">3</text>
<line x1="242.98" y1="305.15" x2="242.98" y2="308.75" stroke="#111" stroke-width="1.05"/>
<text x="235.85" y="323.6" font-family="Liberation Sans, sans-serif" font-size="14.8" textLength="7.65" lengthAdjust="spacingAndGlyphs">2</text>
<text x="244.67" y="318.45" font-family="Liberation Sans, sans-serif" font-size="10.4" textLength="5.51" lengthAdjust="spacingAndGlyphs">4</text>
<line x1="278.27" y1="305.15" x2="278.27" y2="308.75" stroke="#111" stroke-width="1.05"/>
<text x="271.15" y="323.6" font-family="Liberation Sans, sans-serif" font-size="14.8" textLength="7.65" lengthAdjust="spacingAndGlyphs">2</text>
<text x="280.09" y="318.45" font-family="Liberation Sans, sans-serif" font-size="10.4" textLength="5.18" lengthAdjust="spacingAndGlyphs">5</text>
<line x1="313.57" y1="305.15" x2="313.57" y2="308.75" stroke="#111" stroke-width="1.05"/>
<text x="306.44" y="323.6" font-family="Liberation Sans, sans-serif" font-size="14.8" textLength="7.65" lengthAdjust="spacingAndGlyphs">2</text>
<text x="315.17" y="318.45" font-family="Liberation Sans, sans-serif" font-size="10.4" textLength="5.7" lengthAdjust="spacingAndGlyphs">6</text>
<line x1="348.87" y1="305.15" x2="348.87" y2="308.75" stroke="#111" stroke-width="1.05"/>
<text x="341.74" y="323.6" font-family="Liberation Sans, sans-serif" font-size="14.8" textLength="7.65" lengthAdjust="spacingAndGlyphs">2</text>
<text x="350.61" y="318.45" font-family="Liberation Sans, sans-serif" font-size="10.4" textLength="5.37" lengthAdjust="spacingAndGlyphs">7</text>
<line x1="384.16" y1="305.15" x2="384.16" y2="308.75" stroke="#111" stroke-width="1.05"/>
<text x="377.03" y="323.6" font-family="Liberation Sans, sans-serif" font-size="14.8" textLength="7.65" lengthAdjust="spacingAndGlyphs">2</text>
<text x="385.83" y="318.45" font-family="Liberation Sans, sans-serif" font-size="10.4" textLength="5.55" lengthAdjust="spacingAndGlyphs">8</text>
<line x1="419.46" y1="305.15" x2="419.46" y2="308.75" stroke="#111" stroke-width="1.05"/>
<text x="412.33" y="323.6" font-family="Liberation Sans, sans-serif" font-size="14.8" textLength="7.65" lengthAdjust="spacingAndGlyphs">2</text>
<text x="421.03" y="318.45" font-family="Liberation Sans, sans-serif" font-size="10.4" textLength="5.68" lengthAdjust="spacingAndGlyphs">9</text>
<line x1="454.75" y1="305.15" x2="454.75" y2="308.75" stroke="#111" stroke-width="1.05"/>
<text x="444.51" y="323.6" font-family="Liberation Sans, sans-serif" font-size="14.8" textLength="7.65" lengthAdjust="spacingAndGlyphs">2</text>
<text x="453.35" y="318.45" font-family="Liberation Sans, sans-serif" font-size="10.4" textLength="11.74" lengthAdjust="spacingAndGlyphs">10</text>
<text x="247" y="56.8" font-family="Liberation Sans, sans-serif" font-size="18.2" textLength="4.17" lengthAdjust="spacingAndGlyphs">|</text>
<text x="251.87" y="56.2" font-family="Liberation Sans, sans-serif" font-size="17.2" font-style="italic" textLength="10.36" lengthAdjust="spacingAndGlyphs">V</text>
<text x="263.91" y="56.8" font-family="Liberation Sans, sans-serif" font-size="18.2" textLength="3.85" lengthAdjust="spacingAndGlyphs">|</text>
<text x="272.43" y="56.2" font-family="Liberation Sans, sans-serif" font-size="17.2" textLength="11.9" lengthAdjust="spacingAndGlyphs">=</text>
<text x="289.53" y="56.2" font-family="Liberation Sans, sans-serif" font-size="17.2" textLength="10" lengthAdjust="spacingAndGlyphs">2</text>
<text x="301.12" y="56.2" font-family="Liberation Sans, sans-serif" font-size="17.2" textLength="8.61" lengthAdjust="spacingAndGlyphs">0</text>
<text x="235.05" y="341.55" font-family="Liberation Sans, sans-serif" font-size="14.4" textLength="85.08" lengthAdjust="spacingAndGlyphs">Query Index</text>
<clipPath id="c1"><rect x="516.5" y="62.1" width="388.4" height="243.05"/></clipPath>
<line x1="516.5" y1="256.5" x2="904.9" y2="256.5" stroke="#b0b0b0" stroke-opacity="0.3" stroke-width="0.9" stroke-dasharray="2.8,1.1"/>
<line x1="516.5" y1="207.5" x2="904.9" y2="207.5" stroke="#b0b0b0" stroke-opacity="0.3" stroke-width="0.9" stroke-dasharray="2.8,1.1"/>
<line x1="516.5" y1="159.5" x2="904.9" y2="159.5" stroke="#b0b0b0" stroke-opacity="0.3" stroke-width="0.9" stroke-dasharray="2.8,1.1"/>
<line x1="516.5" y1="110.5" x2="904.9" y2="110.5" stroke="#b0b0b0" stroke-opacity="0.3" stroke-width="0.9" stroke-dasharray="2.8,1.1"/>
<g clip-path="url(#c1)">
<polyline points="534.15,295.18 569.46,280.84 604.77,250.22 640.08,203.56 675.39,143.52 710.7,118.73 746.01,115.81 781.32,118.73 816.63,121.16 851.94,117.27 887.25,113.63" fill="none" stroke="#1f77b4" stroke-opacity="0.85" stroke-width="1.35" stroke-linejoin="round"/>
<g fill="#1f77b4" fill-opacity="0.75" stroke="#1f77b4" stroke-opacity="0.75" stroke-width="1">
<circle cx="534.2" cy="295.2" r="2.8"/>
<circle cx="569.5" cy="280.8" r="2.8"/>
<circle cx="604.8" cy="250.2" r="2.8"/>
<circle cx="640.1" cy="203.6" r="2.8"/>
<circle cx="675.4" cy="143.5" r="2.8"/>
<circle cx="710.7" cy="118.7" r="2.8"/>
<circle cx="746" cy="115.8" r="2.8"/>
<circle cx="781.3" cy="118.7" r="2.8"/>
<circle cx="816.6" cy="121.2" r="2.8"/>
<circle cx="851.9" cy="117.3" r="2.8"/>
<circle cx="887.2" cy="113.6" r="2.8"/>
</g>
<polyline points="534.15,295.18 569.46,280.84 604.77,250.22 640.08,203.56 675.39,143.52 710.7,86.65 746.01,72.31 781.32,131.86 816.63,167.58 851.94,181.68 887.25,185.33" fill="none" stroke="#1f77b4" stroke-opacity="0.85" stroke-width="1.35" stroke-linejoin="round" stroke-dasharray="5.0,2.2"/>
<g fill="#1f77b4" fill-opacity="0.75" stroke="#1f77b4" stroke-opacity="0.75" stroke-width="1">
<polygon points="531.5,292.5 536.8,292.5 536.8,297.8 531.5,297.8"/>
<polygon points="566.8,278.2 572.1,278.2 572.1,283.5 566.8,283.5"/>
<polygon points="602.1,247.6 607.4,247.6 607.4,252.9 602.1,252.9"/>
<polygon points="637.4,200.9 642.7,200.9 642.7,206.2 637.4,206.2"/>
<polygon points="672.7,140.9 678.1,140.9 678.1,146.2 672.7,146.2"/>
<polygon points="708,84 713.4,84 713.4,89.3 708,89.3"/>
<polygon points="743.3,69.6 748.7,69.6 748.7,75 743.3,75"/>
<polygon points="778.7,129.2 784,129.2 784,134.5 778.7,134.5"/>
<polygon points="814,164.9 819.3,164.9 819.3,170.2 814,170.2"/>
<polygon points="849.3,179 854.6,179 854.6,184.3 849.3,184.3"/>
<polygon points="884.6,182.7 889.9,182.7 889.9,188 884.6,188"/>
</g>
<polyline points="534.15,295.18 569.46,282.3 604.77,250.22 640.08,203.56 675.39,143.52 710.7,86.41 746.01,65.5 781.32,70.12 816.63,83 851.94,98.31 887.25,111.93" fill="none" stroke="#1f77b4" stroke-opacity="0.85" stroke-width="1.35" stroke-linejoin="round" stroke-dasharray="1.35,2.2"/>
<g fill="#1f77b4" fill-opacity="0.75" stroke="#1f77b4" stroke-opacity="0.75" stroke-width="1">
<polygon points="534.2,292.4 537,297.8 531.4,297.8"/>
<polygon points="569.5,279.5 572.3,285 566.7,285"/>
<polygon points="604.8,247.4 607.6,252.9 602,252.9"/>
<polygon points="640.1,200.8 642.9,206.2 637.3,206.2"/>
<polygon points="675.4,140.7 678.2,146.2 672.6,146.2"/>
<polygon points="710.7,83.6 713.5,89.1 707.9,89.1"/>
<polygon points="746,62.7 748.8,68.2 743.2,68.2"/>
<polygon points="781.3,67.3 784.1,72.8 778.5,72.8"/>
<polygon points="816.6,80.2 819.4,85.7 813.8,85.7"/>
<polygon points="851.9,95.5 854.7,101 849.1,101"/>
<polygon points="887.2,109.1 890,114.6 884.4,114.6"/>
</g>
<polyline points="534.15,293.48 569.46,282.3 604.77,250.22 640.08,203.56 675.39,151.06 710.7,120.43 746.01,121.16 781.32,119.22 816.63,121.65 851.94,122.86 887.25,125.29" fill="none" stroke="#ff7f0e" stroke-opacity="0.85" stroke-width="1.35" stroke-linejoin="round"/>
<g fill="#ff7f0e" fill-opacity="0.75" stroke="#ff7f0e" stroke-opacity="0.75" stroke-width="1">
<polygon points="534.2,289.6 538.1,293.5 534.2,297.4 530.2,293.5"/>
<polygon points="569.5,278.4 573.4,282.3 569.5,286.2 565.5,282.3"/>
<polygon points="604.8,246.3 608.7,250.2 604.8,254.1 600.9,250.2"/>
<polygon points="640.1,199.6 644,203.6 640.1,207.5 636.2,203.6"/>
<polygon points="675.4,147.1 679.3,151.1 675.4,155 671.5,151.1"/>
<polygon points="710.7,116.5 714.6,120.4 710.7,124.4 706.8,120.4"/>
<polygon points="746,117.2 749.9,121.2 746,125.1 742.1,121.2"/>
<polygon points="781.3,115.3 785.2,119.2 781.3,123.1 777.4,119.2"/>
<polygon points="816.6,117.7 820.5,121.6 816.6,125.6 812.7,121.6"/>
<polygon points="851.9,118.9 855.9,122.9 851.9,126.8 848,122.9"/>
<polygon points="887.2,121.4 891.2,125.3 887.2,129.2 883.3,125.3"/>
</g>
<polyline points="534.15,293.48 569.46,282.3 604.77,250.22 640.08,203.56 675.39,143.52 710.7,95.88 746.01,91.27 781.32,87.13 816.63,95.15 851.94,92 887.25,89.81" fill="none" stroke="#ff7f0e" stroke-opacity="0.85" stroke-width="1.35" stroke-linejoin="round" stroke-dasharray="5.0,2.2"/>
<g fill="#ff7f0e" fill-opacity="0.75" stroke="#ff7f0e" stroke-opacity="0.75" stroke-width="1">
<polygon points="534.2,296.3 537,290.8 531.4,290.8"/>
<polygon points="569.5,285.1 572.3,279.6 566.7,279.6"/>
<polygon points="604.8,253 607.6,247.6 602,247.6"/>
<polygon points="640.1,206.4 642.9,200.9 637.3,200.9"/>
<polygon points="675.4,146.3 678.2,140.9 672.6,140.9"/>
<polygon points="710.7,98.7 713.5,93.2 707.9,93.2"/>
<polygon points="746,94.1 748.8,88.6 743.2,88.6"/>
<polygon points="781.3,89.9 784.1,84.5 778.5,84.5"/>
<polygon points="816.6,98 819.4,92.5 813.8,92.5"/>
<polygon points="851.9,94.8 854.7,89.3 849.1,89.3"/>
<polygon points="887.2,92.6 890,87.1 884.4,87.1"/>
</g>
<polyline points="534.15,296.64 569.46,282.3 604.77,248.03 640.08,205.5 675.39,151.06 710.7,109.01 746.01,218.38 781.32,268.21 816.63,283.52 851.94,289.59 887.25,287.65" fill="none" stroke="#2ca02c" stroke-opacity="0.85" stroke-width="1.35" stroke-linejoin="round"/>
<g fill="#2ca02c" fill-opacity="0.75" stroke="#2ca02c" stroke-opacity="0.75" stroke-width="1">
<polygon points="531.4,296.6 536.8,299.4 536.8,293.8"/>
<polygon points="566.7,282.3 572.1,285.1 572.1,279.5"/>
<polygon points="602,248 607.4,250.8 607.4,245.2"/>
<polygon points="637.3,205.5 642.7,208.3 642.7,202.7"/>
<polygon points="672.6,151.1 678.1,153.9 678.1,148.3"/>
<polygon points="707.9,109 713.4,111.8 713.4,106.2"/>
<polygon points="743.2,218.4 748.7,221.2 748.7,215.6"/>
<polygon points="778.5,268.2 784,271 784,265.4"/>
<polygon points="813.8,283.5 819.3,286.3 819.3,280.7"/>
<polygon points="849.1,289.6 854.6,292.4 854.6,286.8"/>
<polygon points="884.4,287.7 889.9,290.5 889.9,284.9"/>
</g>
<polyline points="534.15,295.18 569.46,282.3 604.77,250.22 640.08,203.56 675.39,143.52 710.7,95.88 746.01,252.17 781.32,278.41 816.63,288.14 851.94,290.32 887.25,290.57" fill="none" stroke="#2ca02c" stroke-opacity="0.85" stroke-width="1.35" stroke-linejoin="round" stroke-dasharray="5.0,2.2"/>
<g fill="#2ca02c" fill-opacity="0.75" stroke="#2ca02c" stroke-opacity="0.75" stroke-width="1">
<polygon points="537,295.2 531.5,298 531.5,292.4"/>
<polygon points="572.3,282.3 566.8,285.1 566.8,279.5"/>
<polygon points="607.6,250.2 602.1,253 602.1,247.4"/>
<polygon points="642.9,203.6 637.4,206.4 637.4,200.8"/>
<polygon points="678.2,143.5 672.7,146.3 672.7,140.7"/>
<polygon points="713.5,95.9 708,98.7 708,93.1"/>
<polygon points="748.8,252.2 743.3,255 743.3,249.4"/>
<polygon points="784.1,278.4 778.7,281.2 778.7,275.6"/>
<polygon points="819.4,288.1 814,290.9 814,285.3"/>
<polygon points="854.7,290.3 849.3,293.1 849.3,287.5"/>
<polygon points="890,290.6 884.6,293.4 884.6,287.8"/>
</g>
<polyline points="534.15,295.18 569.46,282.3 604.77,250.22 640.08,203.56 675.39,143.52 710.7,83 746.01,64.53 781.32,268.21 816.63,298.1 851.94,298.1 887.25,297.37" fill="none" stroke="#2ca02c" stroke-opacity="0.85" stroke-width="1.35" stroke-linejoin="round" stroke-dasharray="8.6,2.2,1.35,2.2"/>
<g fill="#2ca02c" fill-opacity="0.75" stroke="#2ca02c" stroke-opacity="0.75" stroke-width="1">
<polygon points="534.2,292.3 536.9,294.3 535.8,297.5 532.5,297.5 531.4,294.3"/>
<polygon points="569.5,279.4 572.2,281.4 571.1,284.6 567.8,284.6 566.7,281.4"/>
<polygon points="604.8,247.4 607.5,249.3 606.5,252.5 603.1,252.5 602.1,249.3"/>
<polygon points="640.1,200.7 642.8,202.7 641.8,205.9 638.4,205.9 637.4,202.7"/>
<polygon points="675.4,140.7 678.1,142.6 677.1,145.8 673.7,145.8 672.7,142.6"/>
<polygon points="710.7,80.1 713.4,82.1 712.4,85.3 709,85.3 708,82.1"/>
<polygon points="746,61.7 748.7,63.6 747.7,66.8 744.3,66.8 743.3,63.6"/>
<polygon points="781.3,265.4 784,267.3 783,270.5 779.6,270.5 778.6,267.3"/>
<polygon points="816.6,295.2 819.3,297.2 818.3,300.4 814.9,300.4 813.9,297.2"/>
<polygon points="851.9,295.2 854.7,297.2 853.6,300.4 850.3,300.4 849.2,297.2"/>
<polygon points="887.2,294.5 890,296.5 888.9,299.7 885.6,299.7 884.5,296.5"/>
</g>
<polyline points="534.15,295.18 569.46,282.3 604.77,250.22 640.08,203.56 675.39,143.52 710.7,83 746.01,64.53 781.32,91.27 816.63,172.69 851.94,232.23 887.25,258.24" fill="none" stroke="#2ca02c" stroke-opacity="0.85" stroke-width="1.35" stroke-linejoin="round" stroke-dasharray="1.35,2.2"/>
<g fill="#2ca02c" fill-opacity="0.75" stroke="#2ca02c" stroke-opacity="0.75" stroke-width="1">
<polygon points="535.7,292.6 536.7,293.6 535.2,295.2 536.7,296.7 535.7,297.8 534.2,296.2 532.6,297.8 531.6,296.7 533.1,295.2 531.6,293.6 532.6,292.6 534.2,294.2"/>
<polygon points="571,279.7 572.1,280.7 570.5,282.3 572.1,283.9 571,284.9 569.5,283.3 567.9,284.9 566.9,283.9 568.4,282.3 566.9,280.7 567.9,279.7 569.5,281.3"/>
<polygon points="606.3,247.6 607.4,248.7 605.8,250.2 607.4,251.8 606.3,252.8 604.8,251.3 603.2,252.8 602.2,251.8 603.7,250.2 602.2,248.7 603.2,247.6 604.8,249.2"/>
<polygon points="641.6,201 642.7,202 641.1,203.6 642.7,205.1 641.6,206.1 640.1,204.6 638.5,206.1 637.5,205.1 639.1,203.6 637.5,202 638.5,201 640.1,202.5"/>
<polygon points="677,140.9 678,142 676.4,143.5 678,145.1 677,146.1 675.4,144.6 673.8,146.1 672.8,145.1 674.4,143.5 672.8,142 673.8,140.9 675.4,142.5"/>
<polygon points="712.3,80.4 713.3,81.4 711.7,83 713.3,84.6 712.3,85.6 710.7,84 709.1,85.6 708.1,84.6 709.7,83 708.1,81.4 709.1,80.4 710.7,82"/>
<polygon points="747.6,61.9 748.6,63 747,64.5 748.6,66.1 747.6,67.1 746,65.6 744.4,67.1 743.4,66.1 745,64.5 743.4,63 744.4,61.9 746,63.5"/>
<polygon points="782.9,88.7 783.9,89.7 782.3,91.3 783.9,92.8 782.9,93.9 781.3,92.3 779.8,93.9 778.7,92.8 780.3,91.3 778.7,89.7 779.8,88.7 781.3,90.2"/>
<polygon points="818.2,170.1 819.2,171.1 817.7,172.7 819.2,174.3 818.2,175.3 816.6,173.7 815.1,175.3 814,174.3 815.6,172.7 814,171.1 815.1,170.1 816.6,171.7"/>
<polygon points="853.5,229.6 854.5,230.7 853,232.2 854.5,233.8 853.5,234.8 851.9,233.3 850.4,234.8 849.3,233.8 850.9,232.2 849.3,230.7 850.4,229.6 851.9,231.2"/>
<polygon points="888.8,255.6 889.8,256.7 888.3,258.2 889.8,259.8 888.8,260.8 887.2,259.3 885.7,260.8 884.7,259.8 886.2,258.2 884.7,256.7 885.7,255.6 887.2,257.2"/>
</g>
<polyline points="534.15,295.18 569.46,282.3 604.77,250.22 640.08,203.56 675.39,143.52 710.7,83 746.01,102.93 781.32,150.57 816.63,156.65 851.94,157.86 887.25,153.24" fill="none" stroke="#9467bd" stroke-opacity="0.85" stroke-width="1.35" stroke-linejoin="round"/>
<g fill="#9467bd" fill-opacity="0.75" stroke="#9467bd" stroke-opacity="0.75" stroke-width="1">
<polygon points="533.2,292.4 535.1,292.4 535.1,294.2 537,294.2 537,296.1 535.1,296.1 535.1,298 533.2,298 533.2,296.1 531.4,296.1 531.4,294.2 533.2,294.2"/>
<polygon points="568.5,279.5 570.4,279.5 570.4,281.4 572.3,281.4 572.3,283.3 570.4,283.3 570.4,285.1 568.5,285.1 568.5,283.3 566.7,283.3 566.7,281.4 568.5,281.4"/>
<polygon points="603.8,247.4 605.7,247.4 605.7,249.3 607.6,249.3 607.6,251.2 605.7,251.2 605.7,253 603.8,253 603.8,251.2 602,251.2 602,249.3 603.8,249.3"/>
<polygon points="639.1,200.8 641,200.8 641,202.6 642.9,202.6 642.9,204.5 641,204.5 641,206.4 639.1,206.4 639.1,204.5 637.3,204.5 637.3,202.6 639.1,202.6"/>
<polygon points="674.4,140.7 676.3,140.7 676.3,142.6 678.2,142.6 678.2,144.5 676.3,144.5 676.3,146.3 674.4,146.3 674.4,144.5 672.6,144.5 672.6,142.6 674.4,142.6"/>
<polygon points="709.7,80.2 711.7,80.2 711.7,82.1 713.5,82.1 713.5,84 711.7,84 711.7,85.8 709.7,85.8 709.7,84 707.9,84 707.9,82.1 709.7,82.1"/>
<polygon points="745.1,100.1 747,100.1 747,102 748.8,102 748.8,103.9 747,103.9 747,105.7 745.1,105.7 745.1,103.9 743.2,103.9 743.2,102 745.1,102"/>
<polygon points="780.4,147.8 782.3,147.8 782.3,149.6 784.1,149.6 784.1,151.5 782.3,151.5 782.3,153.4 780.4,153.4 780.4,151.5 778.5,151.5 778.5,149.6 780.4,149.6"/>
<polygon points="815.7,153.8 817.6,153.8 817.6,155.7 819.4,155.7 819.4,157.6 817.6,157.6 817.6,159.4 815.7,159.4 815.7,157.6 813.8,157.6 813.8,155.7 815.7,155.7"/>
<polygon points="851,155.1 852.9,155.1 852.9,156.9 854.7,156.9 854.7,158.8 852.9,158.8 852.9,160.7 851,160.7 851,158.8 849.1,158.8 849.1,156.9 851,156.9"/>
<polygon points="886.3,150.4 888.2,150.4 888.2,152.3 890,152.3 890,154.2 888.2,154.2 888.2,156 886.3,156 886.3,154.2 884.4,154.2 884.4,152.3 886.3,152.3"/>
</g>
<polyline points="534.15,295.18 569.46,282.3 604.77,250.22 640.08,203.56 675.39,143.52 710.7,83 746.01,63.07 781.32,93.7 816.63,140.85 851.94,191.89 887.25,207.93" fill="none" stroke="#9467bd" stroke-opacity="0.85" stroke-width="1.35" stroke-linejoin="round" stroke-dasharray="5.0,2.2"/>
<g fill="#9467bd" fill-opacity="0.75" stroke="#9467bd" stroke-opacity="0.75" stroke-width="1">
<polygon points="534.2,292.4 537,297.8 531.4,297.8"/>
<polygon points="569.5,279.5 572.3,285 566.7,285"/>
<polygon points="604.8,247.4 607.6,252.9 602,252.9"/>
<polygon points="640.1,200.8 642.9,206.2 637.3,206.2"/>
<polygon points="675.4,140.7 678.2,146.2 672.6,146.2"/>
<polygon points="710.7,80.2 713.5,85.7 707.9,85.7"/>
<polygon points="746,60.3 748.8,65.7 743.2,65.7"/>
<polygon points="781.3,90.9 784.1,96.4 778.5,96.4"/>
<polygon points="816.6,138 819.4,143.5 813.8,143.5"/>
<polygon points="851.9,189.1 854.7,194.5 849.1,194.5"/>
<polygon points="887.2,205.1 890,210.6 884.4,210.6"/>
</g>
<polyline points="534.15,295.18 569.46,282.3 604.77,250.22 640.08,203.56 675.39,143.52 710.7,83 746.01,87.62 781.32,90.05 816.63,92 851.94,98.31 887.25,115.08" fill="none" stroke="#d62728" stroke-opacity="0.85" stroke-width="1.35" stroke-linejoin="round"/>
<g fill="#d62728" fill-opacity="0.75" stroke="#d62728" stroke-opacity="0.75" stroke-width="1">
<polygon points="534.2,292 534.9,294.1 537.2,294.2 535.4,295.6 536,297.8 534.2,296.5 532.3,297.8 532.9,295.6 531.1,294.2 533.4,294.1"/>
<polygon points="569.5,279.1 570.3,281.2 572.5,281.3 570.7,282.7 571.4,284.9 569.5,283.7 567.6,284.9 568.2,282.7 566.4,281.3 568.7,281.2"/>
<polygon points="604.8,247 605.6,249.1 607.8,249.2 606.1,250.6 606.7,252.8 604.8,251.6 602.9,252.8 603.5,250.6 601.7,249.2 604,249.1"/>
<polygon points="640.1,200.3 640.9,202.5 643.1,202.6 641.4,204 642,206.2 640.1,204.9 638.2,206.2 638.8,204 637,202.6 639.3,202.5"/>
<polygon points="675.4,140.3 676.2,142.4 678.5,142.5 676.7,143.9 677.3,146.1 675.4,144.9 673.5,146.1 674.1,143.9 672.3,142.5 674.6,142.4"/>
<polygon points="710.7,79.8 711.5,81.9 713.8,82 712,83.4 712.6,85.6 710.7,84.4 708.8,85.6 709.4,83.4 707.6,82 709.9,81.9"/>
<polygon points="746,84.4 746.8,86.5 749.1,86.6 747.3,88 747.9,90.2 746,89 744.1,90.2 744.7,88 742.9,86.6 745.2,86.5"/>
<polygon points="781.3,86.8 782.1,89 784.4,89.1 782.6,90.5 783.2,92.7 781.3,91.4 779.4,92.7 780,90.5 778.3,89.1 780.5,89"/>
<polygon points="816.6,88.8 817.4,90.9 819.7,91 817.9,92.4 818.5,94.6 816.6,93.3 814.7,94.6 815.3,92.4 813.6,91 815.8,90.9"/>
<polygon points="851.9,95.1 852.7,97.2 855,97.3 853.2,98.7 853.8,100.9 851.9,99.7 850,100.9 850.7,98.7 848.9,97.3 851.1,97.2"/>
<polygon points="887.2,111.9 888,114 890.3,114.1 888.5,115.5 889.1,117.7 887.2,116.4 885.4,117.7 886,115.5 884.2,114.1 886.5,114"/>
</g>
<polyline points="534.15,295.18 569.46,282.3 604.77,250.22 640.08,203.56 675.39,143.52 710.7,83 746.01,89.81 781.32,179.25 816.63,255.32 851.94,294.21 887.25,297.62" fill="none" stroke="#d62728" stroke-opacity="0.85" stroke-width="1.35" stroke-linejoin="round" stroke-dasharray="5.0,2.2"/>
<g fill="#d62728" fill-opacity="0.75" stroke="#d62728" stroke-opacity="0.75" stroke-width="1">
<polygon points="534.2,292.3 536.6,293.8 536.6,296.6 534.2,298 531.7,296.6 531.7,293.8"/>
<polygon points="569.5,279.4 571.9,280.9 571.9,283.7 569.5,285.2 567,283.7 567,280.9"/>
<polygon points="604.8,247.4 607.2,248.8 607.2,251.6 604.8,253.1 602.3,251.6 602.3,248.8"/>
<polygon points="640.1,200.7 642.6,202.1 642.6,205 640.1,206.4 637.6,205 637.6,202.1"/>
<polygon points="675.4,140.7 677.9,142.1 677.9,144.9 675.4,146.4 672.9,144.9 672.9,142.1"/>
<polygon points="710.7,80.1 713.2,81.6 713.2,84.4 710.7,85.9 708.2,84.4 708.2,81.6"/>
<polygon points="746,87 748.5,88.4 748.5,91.2 746,92.7 743.5,91.2 743.5,88.4"/>
<polygon points="781.3,176.4 783.8,177.8 783.8,180.7 781.3,182.1 778.8,180.7 778.8,177.8"/>
<polygon points="816.6,252.5 819.1,253.9 819.1,256.8 816.6,258.2 814.2,256.8 814.2,253.9"/>
<polygon points="851.9,291.4 854.4,292.8 854.4,295.6 851.9,297.1 849.5,295.6 849.5,292.8"/>
<polygon points="887.2,294.8 889.7,296.2 889.7,299 887.2,300.5 884.8,299 884.8,296.2"/>
</g>
</g>
<line x1="710.7" y1="305.15" x2="710.7" y2="62.1" stroke="#000" stroke-width="1.35" stroke-dasharray="5.0,2.35"/>
<line x1="516" y1="62.5" x2="905.4" y2="62.5" stroke="#000" stroke-opacity="0.6" stroke-width="1.0"/>
<line x1="516" y1="305.5" x2="905.4" y2="305.5" stroke="#000" stroke-opacity="0.8" stroke-width="1.0"/>
<line x1="516.5" y1="62.6" x2="516.5" y2="304.65" stroke="#000" stroke-opacity="0.95" stroke-width="1.05"/>
<line x1="904.9" y1="62.6" x2="904.9" y2="304.65" stroke="#000" stroke-opacity="0.45" stroke-width="1.05"/>
<line x1="512.9" y1="305.5" x2="516.5" y2="305.5" stroke="#111" stroke-width="1.0"/>
<text x="487.49" y="309.8" font-family="Liberation Sans, sans-serif" font-size="14.8" textLength="21.38" lengthAdjust="spacingAndGlyphs">0.0</text>
<line x1="512.9" y1="256.5" x2="516.5" y2="256.5" stroke="#111" stroke-width="1.0"/>
<text x="487.5" y="261.19" font-family="Liberation Sans, sans-serif" font-size="14.8" textLength="21.06" lengthAdjust="spacingAndGlyphs">0.2</text>
<line x1="512.9" y1="207.5" x2="516.5" y2="207.5" stroke="#111" stroke-width="1.0"/>
<text x="487.49" y="212.58" font-family="Liberation Sans, sans-serif" font-size="14.8" textLength="21.37" lengthAdjust="spacingAndGlyphs">0.4</text>
<line x1="512.9" y1="159.5" x2="516.5" y2="159.5" stroke="#111" stroke-width="1.0"/>
<text x="487.49" y="163.97" font-family="Liberation Sans, sans-serif" font-size="14.8" textLength="21.51" lengthAdjust="spacingAndGlyphs">0.6</text>
<line x1="512.9" y1="110.5" x2="516.5" y2="110.5" stroke="#111" stroke-width="1.0"/>
<text x="487.49" y="115.36" font-family="Liberation Sans, sans-serif" font-size="14.8" textLength="21.42" lengthAdjust="spacingAndGlyphs">0.8</text>
<line x1="512.9" y1="62.5" x2="516.5" y2="62.5" stroke="#111" stroke-width="1.0"/>
<text x="487.54" y="66.75" font-family="Liberation Sans, sans-serif" font-size="14.8" textLength="21.33" lengthAdjust="spacingAndGlyphs">1.0</text>
<line x1="534.15" y1="305.15" x2="534.15" y2="308.75" stroke="#111" stroke-width="1.05"/>
<text x="527.03" y="323.6" font-family="Liberation Sans, sans-serif" font-size="14.8" textLength="7.65" lengthAdjust="spacingAndGlyphs">2</text>
<text x="535.85" y="318.45" font-family="Liberation Sans, sans-serif" font-size="10.4" textLength="5.51" lengthAdjust="spacingAndGlyphs">0</text>
<line x1="569.46" y1="305.15" x2="569.46" y2="308.75" stroke="#111" stroke-width="1.05"/>
<text x="562.34" y="323.6" font-family="Liberation Sans, sans-serif" font-size="14.8" textLength="7.65" lengthAdjust="spacingAndGlyphs">2</text>
<text x="571.26" y="318.45" font-family="Liberation Sans, sans-serif" font-size="10.4" textLength="5.22" lengthAdjust="spacingAndGlyphs">1</text>
<line x1="604.77" y1="305.15" x2="604.77" y2="308.75" stroke="#111" stroke-width="1.05"/>
<text x="597.65" y="323.6" font-family="Liberation Sans, sans-serif" font-size="14.8" textLength="7.65" lengthAdjust="spacingAndGlyphs">2</text>
<text x="606.45" y="318.45" font-family="Liberation Sans, sans-serif" font-size="10.4" textLength="5.28" lengthAdjust="spacingAndGlyphs">2</text>
<line x1="640.08" y1="305.15" x2="640.08" y2="308.75" stroke="#111" stroke-width="1.05"/>
<text x="632.95" y="323.6" font-family="Liberation Sans, sans-serif" font-size="14.8" textLength="7.65" lengthAdjust="spacingAndGlyphs">2</text>
<text x="641.9" y="318.45" font-family="Liberation Sans, sans-serif" font-size="10.4" textLength="5.28" lengthAdjust="spacingAndGlyphs">3</text>
<line x1="675.39" y1="305.15" x2="675.39" y2="308.75" stroke="#111" stroke-width="1.05"/>
<text x="668.26" y="323.6" font-family="Liberation Sans, sans-serif" font-size="14.8" textLength="7.65" lengthAdjust="spacingAndGlyphs">2</text>
<text x="677.08" y="318.45" font-family="Liberation Sans, sans-serif" font-size="10.4" textLength="5.51" lengthAdjust="spacingAndGlyphs">4</text>
<line x1="710.7" y1="305.15" x2="710.7" y2="308.75" stroke="#111" stroke-width="1.05"/>
<text x="703.57" y="323.6" font-family="Liberation Sans, sans-serif" font-size="14.8" textLength="7.65" lengthAdjust="spacingAndGlyphs">2</text>
<text x="712.51" y="318.45" font-family="Liberation Sans, sans-serif" font-size="10.4" textLength="5.18" lengthAdjust="spacingAndGlyphs">5</text>
<line x1="746.01" y1="305.15" x2="746.01" y2="308.75" stroke="#111" stroke-width="1.05"/>
<text x="738.88" y="323.6" font-family="Liberation Sans, sans-serif" font-size="14.8" textLength="7.65" lengthAdjust="spacingAndGlyphs">2</text>
<text x="747.61" y="318.45" font-family="Liberation Sans, sans-serif" font-size="10.4" textLength="5.7" lengthAdjust="spacingAndGlyphs">6</text>
<line x1="781.32" y1="305.15" x2="781.32" y2="308.75" stroke="#111" stroke-width="1.05"/>
<text x="774.19" y="323.6" font-family="Liberation Sans, sans-serif" font-size="14.8" textLength="7.65" lengthAdjust="spacingAndGlyphs">2</text>
<text x="783.06" y="318.45" font-family="Liberation Sans, sans-serif" font-size="10.4" textLength="5.37" lengthAdjust="spacingAndGlyphs">7</text>
<line x1="816.63" y1="305.15" x2="816.63" y2="308.75" stroke="#111" stroke-width="1.05"/>
<text x="809.5" y="323.6" font-family="Liberation Sans, sans-serif" font-size="14.8" textLength="7.65" lengthAdjust="spacingAndGlyphs">2</text>
<text x="818.3" y="318.45" font-family="Liberation Sans, sans-serif" font-size="10.4" textLength="5.55" lengthAdjust="spacingAndGlyphs">8</text>
<line x1="851.94" y1="305.15" x2="851.94" y2="308.75" stroke="#111" stroke-width="1.05"/>
<text x="844.81" y="323.6" font-family="Liberation Sans, sans-serif" font-size="14.8" textLength="7.65" lengthAdjust="spacingAndGlyphs">2</text>
<text x="853.51" y="318.45" font-family="Liberation Sans, sans-serif" font-size="10.4" textLength="5.68" lengthAdjust="spacingAndGlyphs">9</text>
<line x1="887.25" y1="305.15" x2="887.25" y2="308.75" stroke="#111" stroke-width="1.05"/>
<text x="877" y="323.6" font-family="Liberation Sans, sans-serif" font-size="14.8" textLength="7.65" lengthAdjust="spacingAndGlyphs">2</text>
<text x="885.84" y="318.45" font-family="Liberation Sans, sans-serif" font-size="10.4" textLength="11.74" lengthAdjust="spacingAndGlyphs">10</text>
<text x="679.42" y="56.8" font-family="Liberation Sans, sans-serif" font-size="18.2" textLength="4.17" lengthAdjust="spacingAndGlyphs">|</text>
<text x="684.3" y="56.2" font-family="Liberation Sans, sans-serif" font-size="17.2" font-style="italic" textLength="10.36" lengthAdjust="spacingAndGlyphs">V</text>
<text x="696.33" y="56.8" font-family="Liberation Sans, sans-serif" font-size="18.2" textLength="3.85" lengthAdjust="spacingAndGlyphs">|</text>
<text x="704.85" y="56.2" font-family="Liberation Sans, sans-serif" font-size="17.2" textLength="11.9" lengthAdjust="spacingAndGlyphs">=</text>
<text x="722.19" y="56.2" font-family="Liberation Sans, sans-serif" font-size="17.2" textLength="9.62" lengthAdjust="spacingAndGlyphs">3</text>
<text x="733.55" y="56.2" font-family="Liberation Sans, sans-serif" font-size="17.2" textLength="8.61" lengthAdjust="spacingAndGlyphs">0</text>
<text x="667.48" y="341.55" font-family="Liberation Sans, sans-serif" font-size="14.4" textLength="85.08" lengthAdjust="spacingAndGlyphs">Query Index</text>
<clipPath id="c2"><rect x="948.5" y="62.1" width="388.8" height="243.05"/></clipPath>
<line x1="948.5" y1="256.5" x2="1337.3" y2="256.5" stroke="#b0b0b0" stroke-opacity="0.3" stroke-width="0.9" stroke-dasharray="2.8,1.1"/>
<line x1="948.5" y1="207.5" x2="1337.3" y2="207.5" stroke="#b0b0b0" stroke-opacity="0.3" stroke-width="0.9" stroke-dasharray="2.8,1.1"/>
<line x1="948.5" y1="159.5" x2="1337.3" y2="159.5" stroke="#b0b0b0" stroke-opacity="0.3" stroke-width="0.9" stroke-dasharray="2.8,1.1"/>
<line x1="948.5" y1="110.5" x2="1337.3" y2="110.5" stroke="#b0b0b0" stroke-opacity="0.3" stroke-width="0.9" stroke-dasharray="2.8,1.1"/>
<g clip-path="url(#c2)">
<polyline points="966.17,299.07 1001.52,286.44 1036.86,264.56 1072.21,236.61 1107.55,219.35 1142.9,208.17 1178.25,206.47 1213.59,219.6 1248.94,207.93 1284.28,210.12 1319.63,213.28" fill="none" stroke="#1f77b4" stroke-opacity="0.85" stroke-width="1.35" stroke-linejoin="round"/>
<g fill="#1f77b4" fill-opacity="0.75" stroke="#1f77b4" stroke-opacity="0.75" stroke-width="1">
<circle cx="966.2" cy="299.1" r="2.8"/>
<circle cx="1001.5" cy="286.4" r="2.8"/>
<circle cx="1036.9" cy="264.6" r="2.8"/>
<circle cx="1072.2" cy="236.6" r="2.8"/>
<circle cx="1107.6" cy="219.4" r="2.8"/>
<circle cx="1142.9" cy="208.2" r="2.8"/>
<circle cx="1178.2" cy="206.5" r="2.8"/>
<circle cx="1213.6" cy="219.6" r="2.8"/>
<circle cx="1248.9" cy="207.9" r="2.8"/>
<circle cx="1284.3" cy="210.1" r="2.8"/>
<circle cx="1319.6" cy="213.3" r="2.8"/>
</g>
<polyline points="966.17,299.07 1001.52,286.44 1036.86,264.56 1072.21,225.67 1107.55,171.23 1142.9,125.05 1178.25,118.73 1213.59,171.72 1248.94,218.87 1284.28,244.63 1319.63,245.6" fill="none" stroke="#1f77b4" stroke-opacity="0.85" stroke-width="1.35" stroke-linejoin="round" stroke-dasharray="5.0,2.2"/>
<g fill="#1f77b4" fill-opacity="0.75" stroke="#1f77b4" stroke-opacity="0.75" stroke-width="1">
<polygon points="963.5,296.4 968.8,296.4 968.8,301.7 963.5,301.7"/>
<polygon points="998.9,283.8 1004.2,283.8 1004.2,289.1 998.9,289.1"/>
<polygon points="1034.2,261.9 1039.5,261.9 1039.5,267.2 1034.2,267.2"/>
<polygon points="1069.5,223 1074.9,223 1074.9,228.3 1069.5,228.3"/>
<polygon points="1104.9,168.6 1110.2,168.6 1110.2,173.9 1104.9,173.9"/>
<polygon points="1140.2,122.4 1145.6,122.4 1145.6,127.7 1140.2,127.7"/>
<polygon points="1175.6,116.1 1180.9,116.1 1180.9,121.4 1175.6,121.4"/>
<polygon points="1210.9,169.1 1216.3,169.1 1216.3,174.4 1210.9,174.4"/>
<polygon points="1246.3,216.2 1251.6,216.2 1251.6,221.5 1246.3,221.5"/>
<polygon points="1281.6,242 1286.9,242 1286.9,247.3 1281.6,247.3"/>
<polygon points="1317,242.9 1322.3,242.9 1322.3,248.3 1317,248.3"/>
</g>
<polyline points="966.17,299.07 1001.52,286.44 1036.86,264.56 1072.21,225.67 1107.55,171.23 1142.9,133.07 1178.25,102.69 1213.59,106.82 1248.94,123.11 1284.28,155.19 1319.63,175.36" fill="none" stroke="#1f77b4" stroke-opacity="0.85" stroke-width="1.35" stroke-linejoin="round" stroke-dasharray="1.35,2.2"/>
<g fill="#1f77b4" fill-opacity="0.75" stroke="#1f77b4" stroke-opacity="0.75" stroke-width="1">
<polygon points="966.2,296.3 969,301.7 963.4,301.7"/>
<polygon points="1001.5,283.6 1004.3,289.1 998.7,289.1"/>
<polygon points="1036.9,261.8 1039.7,267.2 1034.1,267.2"/>
<polygon points="1072.2,222.9 1075,228.3 1069.4,228.3"/>
<polygon points="1107.6,168.4 1110.4,173.9 1104.8,173.9"/>
<polygon points="1142.9,130.3 1145.7,135.7 1140.1,135.7"/>
<polygon points="1178.2,99.9 1181,105.3 1175.4,105.3"/>
<polygon points="1213.6,104 1216.4,109.5 1210.8,109.5"/>
<polygon points="1248.9,120.3 1251.7,125.8 1246.1,125.8"/>
<polygon points="1284.3,152.4 1287.1,157.8 1281.5,157.8"/>
<polygon points="1319.6,172.6 1322.4,178 1316.8,178"/>
</g>
<polyline points="966.17,299.07 1001.52,286.44 1036.86,264.56 1072.21,225.67 1107.55,184.35 1142.9,174.88 1178.25,172.69 1213.59,177.55 1248.94,174.88 1284.28,168.56 1319.63,167.34" fill="none" stroke="#ff7f0e" stroke-opacity="0.85" stroke-width="1.35" stroke-linejoin="round"/>
<g fill="#ff7f0e" fill-opacity="0.75" stroke="#ff7f0e" stroke-opacity="0.75" stroke-width="1">
<polygon points="966.2,295.2 970.1,299.1 966.2,303 962.3,299.1"/>
<polygon points="1001.5,282.5 1005.4,286.4 1001.5,290.4 997.6,286.4"/>
<polygon points="1036.9,260.6 1040.8,264.6 1036.9,268.5 1032.9,264.6"/>
<polygon points="1072.2,221.8 1076.1,225.7 1072.2,229.6 1068.3,225.7"/>
<polygon points="1107.6,180.4 1111.5,184.4 1107.6,188.3 1103.6,184.4"/>
<polygon points="1142.9,171 1146.8,174.9 1142.9,178.8 1139,174.9"/>
<polygon points="1178.2,168.8 1182.2,172.7 1178.2,176.6 1174.3,172.7"/>
<polygon points="1213.6,173.6 1217.5,177.5 1213.6,181.5 1209.7,177.5"/>
<polygon points="1248.9,171 1252.9,174.9 1248.9,178.8 1245,174.9"/>
<polygon points="1284.3,164.6 1288.2,168.6 1284.3,172.5 1280.4,168.6"/>
<polygon points="1319.6,163.4 1323.5,167.3 1319.6,171.3 1315.7,167.3"/>
</g>
<polyline points="966.17,299.07 1001.52,286.44 1036.86,264.56 1072.21,225.67 1107.55,171.23 1142.9,155.19 1178.25,150.33 1213.59,157.13 1248.94,147.17 1284.28,151.06 1319.63,158.35" fill="none" stroke="#ff7f0e" stroke-opacity="0.85" stroke-width="1.35" stroke-linejoin="round" stroke-dasharray="5.0,2.2"/>
<g fill="#ff7f0e" fill-opacity="0.75" stroke="#ff7f0e" stroke-opacity="0.75" stroke-width="1">
<polygon points="966.2,301.9 969,296.4 963.4,296.4"/>
<polygon points="1001.5,289.2 1004.3,283.8 998.7,283.8"/>
<polygon points="1036.9,267.4 1039.7,261.9 1034.1,261.9"/>
<polygon points="1072.2,228.5 1075,223 1069.4,223"/>
<polygon points="1107.6,174 1110.4,168.6 1104.8,168.6"/>
<polygon points="1142.9,158 1145.7,152.5 1140.1,152.5"/>
<polygon points="1178.2,153.1 1181,147.7 1175.4,147.7"/>
<polygon points="1213.6,159.9 1216.4,154.5 1210.8,154.5"/>
<polygon points="1248.9,150 1251.7,144.5 1246.1,144.5"/>
<polygon points="1284.3,153.9 1287.1,148.4 1281.5,148.4"/>
<polygon points="1319.6,161.1 1322.4,155.7 1316.8,155.7"/>
</g>
<polyline points="966.17,299.07 1001.52,286.44 1036.86,264.56 1072.21,225.67 1107.55,176.33 1142.9,149.11 1178.25,260.19 1213.59,283.52 1248.94,293 1284.28,297.62 1319.63,297.13" fill="none" stroke="#2ca02c" stroke-opacity="0.85" stroke-width="1.35" stroke-linejoin="round"/>
<g fill="#2ca02c" fill-opacity="0.75" stroke="#2ca02c" stroke-opacity="0.75" stroke-width="1">
<polygon points="963.4,299.1 968.8,301.9 968.8,296.3"/>
<polygon points="998.7,286.4 1004.2,289.2 1004.2,283.6"/>
<polygon points="1034.1,264.6 1039.5,267.4 1039.5,261.8"/>
<polygon points="1069.4,225.7 1074.9,228.5 1074.9,222.9"/>
<polygon points="1104.8,176.3 1110.2,179.1 1110.2,173.5"/>
<polygon points="1140.1,149.1 1145.6,151.9 1145.6,146.3"/>
<polygon points="1175.4,260.2 1180.9,263 1180.9,257.4"/>
<polygon points="1210.8,283.5 1216.3,286.3 1216.3,280.7"/>
<polygon points="1246.1,293 1251.6,295.8 1251.6,290.2"/>
<polygon points="1281.5,297.6 1286.9,300.4 1286.9,294.8"/>
<polygon points="1316.8,297.1 1322.3,299.9 1322.3,294.3"/>
</g>
<polyline points="966.17,299.07 1001.52,286.44 1036.86,264.56 1072.21,225.67 1107.55,171.23 1142.9,110.71 1178.25,253.38 1213.59,275.01 1248.94,285.22 1284.28,294.7 1319.63,294.7" fill="none" stroke="#2ca02c" stroke-opacity="0.85" stroke-width="1.35" stroke-linejoin="round" stroke-dasharray="5.0,2.2"/>
<g fill="#2ca02c" fill-opacity="0.75" stroke="#2ca02c" stroke-opacity="0.75" stroke-width="1">
<polygon points="969,299.1 963.5,301.9 963.5,296.3"/>
<polygon points="1004.3,286.4 998.9,289.2 998.9,283.6"/>
<polygon points="1039.7,264.6 1034.2,267.4 1034.2,261.8"/>
<polygon points="1075,225.7 1069.5,228.5 1069.5,222.9"/>
<polygon points="1110.4,171.2 1104.9,174 1104.9,168.4"/>
<polygon points="1145.7,110.7 1140.2,113.5 1140.2,107.9"/>
<polygon points="1181,253.4 1175.6,256.2 1175.6,250.6"/>
<polygon points="1216.4,275 1210.9,277.8 1210.9,272.2"/>
<polygon points="1251.7,285.2 1246.3,288 1246.3,282.4"/>
<polygon points="1287.1,294.7 1281.6,297.5 1281.6,291.9"/>
<polygon points="1322.4,294.7 1317,297.5 1317,291.9"/>
</g>
<polyline points="966.17,299.07 1001.52,286.44 1036.86,264.56 1072.21,225.67 1107.55,171.23 1142.9,110.71 1178.25,66.72 1213.59,79.6 1248.94,196.26 1284.28,283.03 1319.63,291.05" fill="none" stroke="#2ca02c" stroke-opacity="0.85" stroke-width="1.35" stroke-linejoin="round" stroke-dasharray="8.6,2.2,1.35,2.2"/>
<g fill="#2ca02c" fill-opacity="0.75" stroke="#2ca02c" stroke-opacity="0.75" stroke-width="1">
<polygon points="966.2,296.2 968.9,298.2 967.9,301.4 964.5,301.4 963.5,298.2"/>
<polygon points="1001.5,283.6 1004.2,285.6 1003.2,288.7 999.8,288.7 998.8,285.6"/>
<polygon points="1036.9,261.7 1039.6,263.7 1038.5,266.9 1035.2,266.9 1034.1,263.7"/>
<polygon points="1072.2,222.8 1074.9,224.8 1073.9,228 1070.5,228 1069.5,224.8"/>
<polygon points="1107.6,168.4 1110.3,170.3 1109.2,173.5 1105.9,173.5 1104.8,170.3"/>
<polygon points="1142.9,107.9 1145.6,109.8 1144.6,113 1141.2,113 1140.2,109.8"/>
<polygon points="1178.2,63.9 1181,65.8 1179.9,69 1176.6,69 1175.5,65.8"/>
<polygon points="1213.6,76.7 1216.3,78.7 1215.3,81.9 1211.9,81.9 1210.9,78.7"/>
<polygon points="1248.9,193.4 1251.7,195.4 1250.6,198.6 1247.3,198.6 1246.2,195.4"/>
<polygon points="1284.3,280.2 1287,282.1 1286,285.3 1282.6,285.3 1281.6,282.1"/>
<polygon points="1319.6,288.2 1322.3,290.2 1321.3,293.4 1317.9,293.4 1316.9,290.2"/>
</g>
<polyline points="966.17,299.07 1001.52,286.44 1036.86,264.56 1072.21,225.67 1107.55,171.23 1142.9,110.71 1178.25,72.07 1213.59,127.48 1248.94,215.46 1284.28,271.37 1319.63,288.14" fill="none" stroke="#2ca02c" stroke-opacity="0.85" stroke-width="1.35" stroke-linejoin="round" stroke-dasharray="1.35,2.2"/>
<g fill="#2ca02c" fill-opacity="0.75" stroke="#2ca02c" stroke-opacity="0.75" stroke-width="1">
<polygon points="967.7,296.5 968.8,297.5 967.2,299.1 968.8,300.6 967.7,301.7 966.2,300.1 964.6,301.7 963.6,300.6 965.1,299.1 963.6,297.5 964.6,296.5 966.2,298"/>
<polygon points="1003.1,283.8 1004.1,284.9 1002.5,286.4 1004.1,288 1003.1,289 1001.5,287.5 1000,289 998.9,288 1000.5,286.4 998.9,284.9 1000,283.8 1001.5,285.4"/>
<polygon points="1038.4,262 1039.5,263 1037.9,264.6 1039.5,266.1 1038.4,267.2 1036.9,265.6 1035.3,267.2 1034.3,266.1 1035.8,264.6 1034.3,263 1035.3,262 1036.9,263.5"/>
<polygon points="1073.8,223.1 1074.8,224.1 1073.2,225.7 1074.8,227.2 1073.8,228.3 1072.2,226.7 1070.6,228.3 1069.6,227.2 1071.2,225.7 1069.6,224.1 1070.6,223.1 1072.2,224.6"/>
<polygon points="1109.1,168.6 1110.1,169.7 1108.6,171.2 1110.1,172.8 1109.1,173.8 1107.6,172.3 1106,173.8 1105,172.8 1106.5,171.2 1105,169.7 1106,168.6 1107.6,170.2"/>
<polygon points="1144.5,108.1 1145.5,109.1 1143.9,110.7 1145.5,112.3 1144.5,113.3 1142.9,111.7 1141.3,113.3 1140.3,112.3 1141.9,110.7 1140.3,109.1 1141.3,108.1 1142.9,109.7"/>
<polygon points="1179.8,69.5 1180.8,70.5 1179.3,72.1 1180.8,73.6 1179.8,74.7 1178.2,73.1 1176.7,74.7 1175.7,73.6 1177.2,72.1 1175.7,70.5 1176.7,69.5 1178.2,71"/>
<polygon points="1215.2,124.9 1216.2,125.9 1214.6,127.5 1216.2,129 1215.2,130.1 1213.6,128.5 1212,130.1 1211,129 1212.6,127.5 1211,125.9 1212,124.9 1213.6,126.5"/>
<polygon points="1250.5,212.9 1251.5,213.9 1250,215.5 1251.5,217 1250.5,218.1 1248.9,216.5 1247.4,218.1 1246.3,217 1247.9,215.5 1246.3,213.9 1247.4,212.9 1248.9,214.4"/>
<polygon points="1285.8,268.8 1286.9,269.8 1285.3,271.4 1286.9,272.9 1285.8,274 1284.3,272.4 1282.7,274 1281.7,272.9 1283.3,271.4 1281.7,269.8 1282.7,268.8 1284.3,270.3"/>
<polygon points="1321.2,285.5 1322.2,286.6 1320.7,288.1 1322.2,289.7 1321.2,290.7 1319.6,289.2 1318.1,290.7 1317,289.7 1318.6,288.1 1317,286.6 1318.1,285.5 1319.6,287.1"/>
</g>
<polyline points="966.17,299.07 1001.52,288.14 1036.86,264.56 1072.21,225.67 1107.55,171.23 1142.9,110.71 1178.25,151.06 1213.59,236.61 1248.94,241.71 1284.28,240.98 1319.63,241.71" fill="none" stroke="#9467bd" stroke-opacity="0.85" stroke-width="1.35" stroke-linejoin="round"/>
<g fill="#9467bd" fill-opacity="0.75" stroke="#9467bd" stroke-opacity="0.75" stroke-width="1">
<polygon points="965.2,296.3 967.1,296.3 967.1,298.1 969,298.1 969,300 967.1,300 967.1,301.9 965.2,301.9 965.2,300 963.4,300 963.4,298.1 965.2,298.1"/>
<polygon points="1000.6,285.3 1002.5,285.3 1002.5,287.2 1004.3,287.2 1004.3,289.1 1002.5,289.1 1002.5,290.9 1000.6,290.9 1000.6,289.1 998.7,289.1 998.7,287.2 1000.6,287.2"/>
<polygon points="1035.9,261.8 1037.8,261.8 1037.8,263.6 1039.7,263.6 1039.7,265.5 1037.8,265.5 1037.8,267.4 1035.9,267.4 1035.9,265.5 1034.1,265.5 1034.1,263.6 1035.9,263.6"/>
<polygon points="1071.3,222.9 1073.2,222.9 1073.2,224.7 1075,224.7 1075,226.6 1073.2,226.6 1073.2,228.5 1071.3,228.5 1071.3,226.6 1069.4,226.6 1069.4,224.7 1071.3,224.7"/>
<polygon points="1106.6,168.4 1108.5,168.4 1108.5,170.3 1110.4,170.3 1110.4,172.2 1108.5,172.2 1108.5,174 1106.6,174 1106.6,172.2 1104.8,172.2 1104.8,170.3 1106.6,170.3"/>
<polygon points="1141.9,107.9 1143.9,107.9 1143.9,109.8 1145.7,109.8 1145.7,111.7 1143.9,111.7 1143.9,113.5 1141.9,113.5 1141.9,111.7 1140.1,111.7 1140.1,109.8 1141.9,109.8"/>
<polygon points="1177.3,148.3 1179.2,148.3 1179.2,150.1 1181,150.1 1181,152 1179.2,152 1179.2,153.9 1177.3,153.9 1177.3,152 1175.4,152 1175.4,150.1 1177.3,150.1"/>
<polygon points="1212.6,233.8 1214.5,233.8 1214.5,235.7 1216.4,235.7 1216.4,237.6 1214.5,237.6 1214.5,239.4 1212.6,239.4 1212.6,237.6 1210.8,237.6 1210.8,235.7 1212.6,235.7"/>
<polygon points="1248,238.9 1249.9,238.9 1249.9,240.8 1251.7,240.8 1251.7,242.7 1249.9,242.7 1249.9,244.5 1248,244.5 1248,242.7 1246.1,242.7 1246.1,240.8 1248,240.8"/>
<polygon points="1283.3,238.2 1285.2,238.2 1285.2,240 1287.1,240 1287.1,241.9 1285.2,241.9 1285.2,243.8 1283.3,243.8 1283.3,241.9 1281.5,241.9 1281.5,240 1283.3,240"/>
<polygon points="1318.7,238.9 1320.6,238.9 1320.6,240.8 1322.4,240.8 1322.4,242.7 1320.6,242.7 1320.6,244.5 1318.7,244.5 1318.7,242.7 1316.8,242.7 1316.8,240.8 1318.7,240.8"/>
</g>
<polyline points="966.17,299.07 1001.52,286.44 1036.86,264.56 1072.21,225.67 1107.55,171.23 1142.9,110.71 1178.25,65.5 1213.59,65.5 1248.94,131.13 1284.28,142.55 1319.63,140.85" fill="none" stroke="#9467bd" stroke-opacity="0.85" stroke-width="1.35" stroke-linejoin="round" stroke-dasharray="5.0,2.2"/>
<g fill="#9467bd" fill-opacity="0.75" stroke="#9467bd" stroke-opacity="0.75" stroke-width="1">
<polygon points="966.2,296.3 969,301.7 963.4,301.7"/>
<polygon points="1001.5,283.6 1004.3,289.1 998.7,289.1"/>
<polygon points="1036.9,261.8 1039.7,267.2 1034.1,267.2"/>
<polygon points="1072.2,222.9 1075,228.3 1069.4,228.3"/>
<polygon points="1107.6,168.4 1110.4,173.9 1104.8,173.9"/>
<polygon points="1142.9,107.9 1145.7,113.4 1140.1,113.4"/>
<polygon points="1178.2,62.7 1181,68.2 1175.4,68.2"/>
<polygon points="1213.6,62.7 1216.4,68.2 1210.8,68.2"/>
<polygon points="1248.9,128.3 1251.7,133.8 1246.1,133.8"/>
<polygon points="1284.3,139.7 1287.1,145.2 1281.5,145.2"/>
<polygon points="1319.6,138 1322.4,143.5 1316.8,143.5"/>
</g>
<polyline points="966.17,299.07 1001.52,286.44 1036.86,264.56 1072.21,225.67 1107.55,171.23 1142.9,110.71 1178.25,231.26 1213.59,256.05 1248.94,265.29 1284.28,276.96 1319.63,283.28" fill="none" stroke="#d62728" stroke-opacity="0.85" stroke-width="1.35" stroke-linejoin="round"/>
<g fill="#d62728" fill-opacity="0.75" stroke="#d62728" stroke-opacity="0.75" stroke-width="1">
<polygon points="966.2,295.9 967,298 969.2,298.1 967.5,299.5 968.1,301.7 966.2,300.4 964.3,301.7 964.9,299.5 963.1,298.1 965.4,298"/>
<polygon points="1001.5,283.2 1002.3,285.3 1004.6,285.4 1002.8,286.9 1003.4,289 1001.5,287.8 999.6,289 1000.2,286.9 998.5,285.4 1000.7,285.3"/>
<polygon points="1036.9,261.3 1037.7,263.5 1039.9,263.6 1038.1,265 1038.8,267.2 1036.9,265.9 1035,267.2 1035.6,265 1033.8,263.6 1036.1,263.5"/>
<polygon points="1072.2,222.5 1073,224.6 1075.3,224.7 1073.5,226.1 1074.1,228.3 1072.2,227 1070.3,228.3 1070.9,226.1 1069.1,224.7 1071.4,224.6"/>
<polygon points="1107.6,168 1108.3,170.1 1110.6,170.2 1108.8,171.6 1109.4,173.8 1107.6,172.6 1105.7,173.8 1106.3,171.6 1104.5,170.2 1106.8,170.1"/>
<polygon points="1142.9,107.5 1143.7,109.6 1146,109.7 1144.2,111.1 1144.8,113.3 1142.9,112.1 1141,113.3 1141.6,111.1 1139.8,109.7 1142.1,109.6"/>
<polygon points="1178.2,228 1179,230.2 1181.3,230.3 1179.5,231.7 1180.1,233.9 1178.2,232.6 1176.4,233.9 1177,231.7 1175.2,230.3 1177.5,230.2"/>
<polygon points="1213.6,252.8 1214.4,255 1216.7,255.1 1214.9,256.5 1215.5,258.7 1213.6,257.4 1211.7,258.7 1212.3,256.5 1210.5,255.1 1212.8,255"/>
<polygon points="1248.9,262.1 1249.7,264.2 1252,264.3 1250.2,265.7 1250.8,267.9 1248.9,266.6 1247,267.9 1247.7,265.7 1245.9,264.3 1248.1,264.2"/>
<polygon points="1284.3,273.7 1285.1,275.9 1287.3,276 1285.6,277.4 1286.2,279.6 1284.3,278.3 1282.4,279.6 1283,277.4 1281.2,276 1283.5,275.9"/>
<polygon points="1319.6,280.1 1320.4,282.2 1322.7,282.3 1320.9,283.7 1321.5,285.9 1319.6,284.6 1317.7,285.9 1318.3,283.7 1316.6,282.3 1318.8,282.2"/>
</g>
<polyline points="966.17,299.07 1001.52,286.44 1036.86,264.56 1072.21,225.67 1107.55,171.23 1142.9,110.71 1178.25,180.22 1213.59,257.27 1248.94,282.55 1284.28,294.21 1319.63,297.62" fill="none" stroke="#d62728" stroke-opacity="0.85" stroke-width="1.35" stroke-linejoin="round" stroke-dasharray="5.0,2.2"/>
<g fill="#d62728" fill-opacity="0.75" stroke="#d62728" stroke-opacity="0.75" stroke-width="1">
<polygon points="966.2,296.2 968.6,297.6 968.6,300.5 966.2,301.9 963.7,300.5 963.7,297.6"/>
<polygon points="1001.5,283.6 1004,285 1004,287.9 1001.5,289.3 999,287.9 999,285"/>
<polygon points="1036.9,261.7 1039.3,263.1 1039.3,266 1036.9,267.4 1034.4,266 1034.4,263.1"/>
<polygon points="1072.2,222.8 1074.7,224.2 1074.7,227.1 1072.2,228.5 1069.7,227.1 1069.7,224.2"/>
<polygon points="1107.6,168.4 1110,169.8 1110,172.7 1107.6,174.1 1105.1,172.7 1105.1,169.8"/>
<polygon points="1142.9,107.9 1145.4,109.3 1145.4,112.1 1142.9,113.6 1140.4,112.1 1140.4,109.3"/>
<polygon points="1178.2,177.4 1180.7,178.8 1180.7,181.7 1178.2,183.1 1175.8,181.7 1175.8,178.8"/>
<polygon points="1213.6,254.4 1216.1,255.8 1216.1,258.7 1213.6,260.1 1211.1,258.7 1211.1,255.8"/>
<polygon points="1248.9,279.7 1251.4,281.1 1251.4,284 1248.9,285.4 1246.5,284 1246.5,281.1"/>
<polygon points="1284.3,291.4 1286.8,292.8 1286.8,295.6 1284.3,297.1 1281.8,295.6 1281.8,292.8"/>
<polygon points="1319.6,294.8 1322.1,296.2 1322.1,299 1319.6,300.5 1317.2,299 1317.2,296.2"/>
</g>
</g>
<line x1="1142.9" y1="305.15" x2="1142.9" y2="62.1" stroke="#000" stroke-width="1.35" stroke-dasharray="5.0,2.35"/>
<line x1="948" y1="62.5" x2="1337.8" y2="62.5" stroke="#000" stroke-opacity="0.6" stroke-width="1.0"/>
<line x1="948" y1="305.5" x2="1337.8" y2="305.5" stroke="#000" stroke-opacity="0.8" stroke-width="1.0"/>
<line x1="948.5" y1="62.6" x2="948.5" y2="304.65" stroke="#000" stroke-opacity="0.8" stroke-width="1.05"/>
<line x1="1337.3" y1="62.6" x2="1337.3" y2="304.65" stroke="#000" stroke-opacity="1.0" stroke-width="1.05"/>
<line x1="944.9" y1="305.5" x2="948.5" y2="305.5" stroke="#111" stroke-width="1.0"/>
<text x="919.49" y="309.8" font-family="Liberation Sans, sans-serif" font-size="14.8" textLength="21.38" lengthAdjust="spacingAndGlyphs">0.0</text>
<line x1="944.9" y1="256.5" x2="948.5" y2="256.5" stroke="#111" stroke-width="1.0"/>
<text x="919.5" y="261.19" font-family="Liberation Sans, sans-serif" font-size="14.8" textLength="21.06" lengthAdjust="spacingAndGlyphs">0.2</text>
<line x1="944.9" y1="207.5" x2="948.5" y2="207.5" stroke="#111" stroke-width="1.0"/>
<text x="919.49" y="212.58" font-family="Liberation Sans, sans-serif" font-size="14.8" textLength="21.37" lengthAdjust="spacingAndGlyphs">0.4</text>
<line x1="944.9" y1="159.5" x2="948.5" y2="159.5" stroke="#111" stroke-width="1.0"/>
<text x="919.49" y="163.97" font-family="Liberation Sans, sans-serif" font-size="14.8" textLength="21.51" lengthAdjust="spacingAndGlyphs">0.6</text>
<line x1="944.9" y1="110.5" x2="948.5" y2="110.5" stroke="#111" stroke-width="1.0"/>
<text x="919.49" y="115.36" font-family="Liberation Sans, sans-serif" font-size="14.8" textLength="21.42" lengthAdjust="spacingAndGlyphs">0.8</text>
<line x1="944.9" y1="62.5" x2="948.5" y2="62.5" stroke="#111" stroke-width="1.0"/>
<text x="919.54" y="66.75" font-family="Liberation Sans, sans-serif" font-size="14.8" textLength="21.33" lengthAdjust="spacingAndGlyphs">1.0</text>
<line x1="966.17" y1="305.15" x2="966.17" y2="308.75" stroke="#111" stroke-width="1.05"/>
<text x="959.05" y="323.6" font-family="Liberation Sans, sans-serif" font-size="14.8" textLength="7.65" lengthAdjust="spacingAndGlyphs">2</text>
<text x="967.87" y="318.45" font-family="Liberation Sans, sans-serif" font-size="10.4" textLength="5.51" lengthAdjust="spacingAndGlyphs">0</text>
<line x1="1001.52" y1="305.15" x2="1001.52" y2="308.75" stroke="#111" stroke-width="1.05"/>
<text x="994.39" y="323.6" font-family="Liberation Sans, sans-serif" font-size="14.8" textLength="7.65" lengthAdjust="spacingAndGlyphs">2</text>
<text x="1003.32" y="318.45" font-family="Liberation Sans, sans-serif" font-size="10.4" textLength="5.22" lengthAdjust="spacingAndGlyphs">1</text>
<line x1="1036.86" y1="305.15" x2="1036.86" y2="308.75" stroke="#111" stroke-width="1.05"/>
<text x="1029.74" y="323.6" font-family="Liberation Sans, sans-serif" font-size="14.8" textLength="7.65" lengthAdjust="spacingAndGlyphs">2</text>
<text x="1038.54" y="318.45" font-family="Liberation Sans, sans-serif" font-size="10.4" textLength="5.28" lengthAdjust="spacingAndGlyphs">2</text>
<line x1="1072.21" y1="305.15" x2="1072.21" y2="308.75" stroke="#111" stroke-width="1.05"/>
<text x="1065.08" y="323.6" font-family="Liberation Sans, sans-serif" font-size="14.8" textLength="7.65" lengthAdjust="spacingAndGlyphs">2</text>
<text x="1074.03" y="318.45" font-family="Liberation Sans, sans-serif" font-size="10.4" textLength="5.28" lengthAdjust="spacingAndGlyphs">3</text>
<line x1="1107.55" y1="305.15" x2="1107.55" y2="308.75" stroke="#111" stroke-width="1.05"/>
<text x="1100.43" y="323.6" font-family="Liberation Sans, sans-serif" font-size="14.8" textLength="7.65" lengthAdjust="spacingAndGlyphs">2</text>
<text x="1109.24" y="318.45" font-family="Liberation Sans, sans-serif" font-size="10.4" textLength="5.51" lengthAdjust="spacingAndGlyphs">4</text>
<line x1="1142.9" y1="305.15" x2="1142.9" y2="308.75" stroke="#111" stroke-width="1.05"/>
<text x="1135.77" y="323.6" font-family="Liberation Sans, sans-serif" font-size="14.8" textLength="7.65" lengthAdjust="spacingAndGlyphs">2</text>
<text x="1144.71" y="318.45" font-family="Liberation Sans, sans-serif" font-size="10.4" textLength="5.18" lengthAdjust="spacingAndGlyphs">5</text>
<line x1="1178.25" y1="305.15" x2="1178.25" y2="308.75" stroke="#111" stroke-width="1.05"/>
<text x="1171.12" y="323.6" font-family="Liberation Sans, sans-serif" font-size="14.8" textLength="7.65" lengthAdjust="spacingAndGlyphs">2</text>
<text x="1179.84" y="318.45" font-family="Liberation Sans, sans-serif" font-size="10.4" textLength="5.7" lengthAdjust="spacingAndGlyphs">6</text>
<line x1="1213.59" y1="305.15" x2="1213.59" y2="308.75" stroke="#111" stroke-width="1.05"/>
<text x="1206.46" y="323.6" font-family="Liberation Sans, sans-serif" font-size="14.8" textLength="7.65" lengthAdjust="spacingAndGlyphs">2</text>
<text x="1215.34" y="318.45" font-family="Liberation Sans, sans-serif" font-size="10.4" textLength="5.37" lengthAdjust="spacingAndGlyphs">7</text>
<line x1="1248.94" y1="305.15" x2="1248.94" y2="308.75" stroke="#111" stroke-width="1.05"/>
<text x="1241.81" y="323.6" font-family="Liberation Sans, sans-serif" font-size="14.8" textLength="7.65" lengthAdjust="spacingAndGlyphs">2</text>
<text x="1250.61" y="318.45" font-family="Liberation Sans, sans-serif" font-size="10.4" textLength="5.55" lengthAdjust="spacingAndGlyphs">8</text>
<line x1="1284.28" y1="305.15" x2="1284.28" y2="308.75" stroke="#111" stroke-width="1.05"/>
<text x="1277.15" y="323.6" font-family="Liberation Sans, sans-serif" font-size="14.8" textLength="7.65" lengthAdjust="spacingAndGlyphs">2</text>
<text x="1285.85" y="318.45" font-family="Liberation Sans, sans-serif" font-size="10.4" textLength="5.68" lengthAdjust="spacingAndGlyphs">9</text>
<line x1="1319.63" y1="305.15" x2="1319.63" y2="308.75" stroke="#111" stroke-width="1.05"/>
<text x="1309.39" y="323.6" font-family="Liberation Sans, sans-serif" font-size="14.8" textLength="7.65" lengthAdjust="spacingAndGlyphs">2</text>
<text x="1318.22" y="318.45" font-family="Liberation Sans, sans-serif" font-size="10.4" textLength="11.74" lengthAdjust="spacingAndGlyphs">10</text>
<text x="1111.62" y="56.8" font-family="Liberation Sans, sans-serif" font-size="18.2" textLength="4.17" lengthAdjust="spacingAndGlyphs">|</text>
<text x="1116.5" y="56.2" font-family="Liberation Sans, sans-serif" font-size="17.2" font-style="italic" textLength="10.36" lengthAdjust="spacingAndGlyphs">V</text>
<text x="1128.53" y="56.8" font-family="Liberation Sans, sans-serif" font-size="18.2" textLength="3.85" lengthAdjust="spacingAndGlyphs">|</text>
<text x="1137.05" y="56.2" font-family="Liberation Sans, sans-serif" font-size="17.2" textLength="11.9" lengthAdjust="spacingAndGlyphs">=</text>
<text x="1154.68" y="56.2" font-family="Liberation Sans, sans-serif" font-size="17.2" textLength="9.05" lengthAdjust="spacingAndGlyphs">4</text>
<text x="1165.75" y="56.2" font-family="Liberation Sans, sans-serif" font-size="17.2" textLength="8.61" lengthAdjust="spacingAndGlyphs">0</text>
<text x="1099.68" y="341.55" font-family="Liberation Sans, sans-serif" font-size="14.4" textLength="85.08" lengthAdjust="spacingAndGlyphs">Query Index</text>
<clipPath id="c3"><rect x="70.5" y="469.4" width="396.8" height="244.95"/></clipPath>
<line x1="70.5" y1="673.5" x2="467.3" y2="673.5" stroke="#b0b0b0" stroke-opacity="0.3" stroke-width="0.9" stroke-dasharray="2.8,1.1"/>
<line x1="70.5" y1="632.5" x2="467.3" y2="632.5" stroke="#b0b0b0" stroke-opacity="0.3" stroke-width="0.9" stroke-dasharray="2.8,1.1"/>
<line x1="70.5" y1="591.5" x2="467.3" y2="591.5" stroke="#b0b0b0" stroke-opacity="0.3" stroke-width="0.9" stroke-dasharray="2.8,1.1"/>
<line x1="70.5" y1="551.5" x2="467.3" y2="551.5" stroke="#b0b0b0" stroke-opacity="0.3" stroke-width="0.9" stroke-dasharray="2.8,1.1"/>
<line x1="70.5" y1="510.5" x2="467.3" y2="510.5" stroke="#b0b0b0" stroke-opacity="0.3" stroke-width="0.9" stroke-dasharray="2.8,1.1"/>
<g clip-path="url(#c3)">
<polyline points="88.54,513.49 124.61,557.58 160.68,635.97 196.75,702.51 232.83,711.08 268.9,712.31 304.97,712.31 341.05,713.13 377.12,713.13 413.19,713.13 449.26,713.13" fill="none" stroke="#1f77b4" stroke-opacity="0.85" stroke-width="1.35" stroke-linejoin="round"/>
<g fill="#1f77b4" fill-opacity="0.75" stroke="#1f77b4" stroke-opacity="0.75" stroke-width="1">
<circle cx="88.5" cy="513.5" r="2.8"/>
<circle cx="124.6" cy="557.6" r="2.8"/>
<circle cx="160.7" cy="636" r="2.8"/>
<circle cx="196.8" cy="702.5" r="2.8"/>
<circle cx="232.8" cy="711.1" r="2.8"/>
<circle cx="268.9" cy="712.3" r="2.8"/>
<circle cx="305" cy="712.3" r="2.8"/>
<circle cx="341" cy="713.1" r="2.8"/>
<circle cx="377.1" cy="713.1" r="2.8"/>
<circle cx="413.2" cy="713.1" r="2.8"/>
<circle cx="449.3" cy="713.1" r="2.8"/>
</g>
<polyline points="88.54,513.49 124.61,557.58 160.68,635.97 196.75,708.23 232.83,711.9 268.9,712.72 304.97,713.13 341.05,713.13 377.12,713.13 413.19,713.13 449.26,713.13" fill="none" stroke="#1f77b4" stroke-opacity="0.85" stroke-width="1.35" stroke-linejoin="round" stroke-dasharray="5.0,2.2"/>
<g fill="#1f77b4" fill-opacity="0.75" stroke="#1f77b4" stroke-opacity="0.75" stroke-width="1">
<polygon points="85.9,510.8 91.2,510.8 91.2,516.2 85.9,516.2"/>
<polygon points="121.9,554.9 127.3,554.9 127.3,560.2 121.9,560.2"/>
<polygon points="158,633.3 163.3,633.3 163.3,638.6 158,638.6"/>
<polygon points="194.1,705.6 199.4,705.6 199.4,710.9 194.1,710.9"/>
<polygon points="230.2,709.2 235.5,709.2 235.5,714.6 230.2,714.6"/>
<polygon points="266.2,710.1 271.6,710.1 271.6,715.4 266.2,715.4"/>
<polygon points="302.3,710.5 307.6,710.5 307.6,715.8 302.3,715.8"/>
<polygon points="338.4,710.5 343.7,710.5 343.7,715.8 338.4,715.8"/>
<polygon points="374.5,710.5 379.8,710.5 379.8,715.8 374.5,715.8"/>
<polygon points="410.5,710.5 415.9,710.5 415.9,715.8 410.5,715.8"/>
<polygon points="446.6,710.5 451.9,710.5 451.9,715.8 446.6,715.8"/>
</g>
<polyline points="88.54,513.49 124.61,557.58 160.68,635.97 196.75,709.45 232.83,712.31 268.9,712.72 304.97,713.13 341.05,713.13 377.12,713.13 413.19,713.13 449.26,713.13" fill="none" stroke="#1f77b4" stroke-opacity="0.85" stroke-width="1.35" stroke-linejoin="round" stroke-dasharray="1.35,2.2"/>
<g fill="#1f77b4" fill-opacity="0.75" stroke="#1f77b4" stroke-opacity="0.75" stroke-width="1">
<polygon points="88.5,510.7 91.3,516.2 85.7,516.2"/>
<polygon points="124.6,554.8 127.4,560.2 121.8,560.2"/>
<polygon points="160.7,633.2 163.5,638.6 157.9,638.6"/>
<polygon points="196.8,706.7 199.6,712.1 194,712.1"/>
<polygon points="232.8,709.5 235.6,715 230,715"/>
<polygon points="268.9,709.9 271.7,715.4 266.1,715.4"/>
<polygon points="305,710.3 307.8,715.8 302.2,715.8"/>
<polygon points="341,710.3 343.8,715.8 338.2,715.8"/>
<polygon points="377.1,710.3 379.9,715.8 374.3,715.8"/>
<polygon points="413.2,710.3 416,715.8 410.4,715.8"/>
<polygon points="449.3,710.3 452.1,715.8 446.5,715.8"/>
</g>
<polyline points="88.54,513.49 124.61,557.58 160.68,635.97 196.75,710.27 232.83,711.9 268.9,712.31 304.97,712.72 341.05,712.72 377.12,712.72 413.19,712.72 449.26,712.72" fill="none" stroke="#ff7f0e" stroke-opacity="0.85" stroke-width="1.35" stroke-linejoin="round"/>
<g fill="#ff7f0e" fill-opacity="0.75" stroke="#ff7f0e" stroke-opacity="0.75" stroke-width="1">
<polygon points="88.5,509.6 92.5,513.5 88.5,517.4 84.6,513.5"/>
<polygon points="124.6,553.7 128.5,557.6 124.6,561.5 120.7,557.6"/>
<polygon points="160.7,632 164.6,636 160.7,639.9 156.8,636"/>
<polygon points="196.8,706.3 200.7,710.3 196.8,714.2 192.8,710.3"/>
<polygon points="232.8,708 236.7,711.9 232.8,715.8 228.9,711.9"/>
<polygon points="268.9,708.4 272.8,712.3 268.9,716.2 265,712.3"/>
<polygon points="305,708.8 308.9,712.7 305,716.6 301.1,712.7"/>
<polygon points="341,708.8 345,712.7 341,716.6 337.1,712.7"/>
<polygon points="377.1,708.8 381,712.7 377.1,716.6 373.2,712.7"/>
<polygon points="413.2,708.8 417.1,712.7 413.2,716.6 409.3,712.7"/>
<polygon points="449.3,708.8 453.2,712.7 449.3,716.6 445.3,712.7"/>
</g>
<polyline points="88.54,513.49 124.61,557.58 160.68,635.97 196.75,710.27 232.83,711.9 268.9,712.31 304.97,712.72 341.05,712.72 377.12,712.72 413.19,712.72 449.26,712.72" fill="none" stroke="#ff7f0e" stroke-opacity="0.85" stroke-width="1.35" stroke-linejoin="round" stroke-dasharray="5.0,2.2"/>
<g fill="#ff7f0e" fill-opacity="0.75" stroke="#ff7f0e" stroke-opacity="0.75" stroke-width="1">
<polygon points="88.5,516.3 91.3,510.8 85.7,510.8"/>
<polygon points="124.6,560.4 127.4,554.9 121.8,554.9"/>
<polygon points="160.7,638.8 163.5,633.3 157.9,633.3"/>
<polygon points="196.8,713.1 199.6,707.6 194,707.6"/>
<polygon points="232.8,714.7 235.6,709.2 230,709.2"/>
<polygon points="268.9,715.1 271.7,709.6 266.1,709.6"/>
<polygon points="305,715.5 307.8,710.1 302.2,710.1"/>
<polygon points="341,715.5 343.8,710.1 338.2,710.1"/>
<polygon points="377.1,715.5 379.9,710.1 374.3,710.1"/>
<polygon points="413.2,715.5 416,710.1 410.4,710.1"/>
<polygon points="449.3,715.5 452.1,710.1 446.5,710.1"/>
</g>
<polyline points="88.54,513.49 124.61,557.58 160.68,630.66 196.75,707 232.83,711.08 268.9,712.31 304.97,705.37 341.05,692.71 377.12,604.53 413.19,564.11 449.26,502.47" fill="none" stroke="#2ca02c" stroke-opacity="0.85" stroke-width="1.35" stroke-linejoin="round"/>
<g fill="#2ca02c" fill-opacity="0.75" stroke="#2ca02c" stroke-opacity="0.75" stroke-width="1">
<polygon points="85.7,513.5 91.2,516.3 91.2,510.7"/>
<polygon points="121.8,557.6 127.3,560.4 127.3,554.8"/>
<polygon points="157.9,630.7 163.3,633.5 163.3,627.9"/>
<polygon points="194,707 199.4,709.8 199.4,704.2"/>
<polygon points="230,711.1 235.5,713.9 235.5,708.3"/>
<polygon points="266.1,712.3 271.6,715.1 271.6,709.5"/>
<polygon points="302.2,705.4 307.6,708.2 307.6,702.6"/>
<polygon points="338.2,692.7 343.7,695.5 343.7,689.9"/>
<polygon points="374.3,604.5 379.8,607.3 379.8,601.7"/>
<polygon points="410.4,564.1 415.9,566.9 415.9,561.3"/>
<polygon points="446.5,502.5 451.9,505.3 451.9,499.7"/>
</g>
<polyline points="88.54,513.49 124.61,557.58 160.68,635.97 196.75,710.27 232.83,711.08 268.9,712.31 304.97,695.16 341.05,682.1 377.12,673.12 413.19,661.69 449.26,632.7" fill="none" stroke="#2ca02c" stroke-opacity="0.85" stroke-width="1.35" stroke-linejoin="round" stroke-dasharray="5.0,2.2"/>
<g fill="#2ca02c" fill-opacity="0.75" stroke="#2ca02c" stroke-opacity="0.75" stroke-width="1">
<polygon points="91.3,513.5 85.9,516.3 85.9,510.7"/>
<polygon points="127.4,557.6 121.9,560.4 121.9,554.8"/>
<polygon points="163.5,636 158,638.8 158,633.2"/>
<polygon points="199.6,710.3 194.1,713.1 194.1,707.5"/>
<polygon points="235.6,711.1 230.2,713.9 230.2,708.3"/>
<polygon points="271.7,712.3 266.2,715.1 266.2,709.5"/>
<polygon points="307.8,695.2 302.3,698 302.3,692.4"/>
<polygon points="343.8,682.1 338.4,684.9 338.4,679.3"/>
<polygon points="379.9,673.1 374.5,675.9 374.5,670.3"/>
<polygon points="416,661.7 410.5,664.5 410.5,658.9"/>
<polygon points="452.1,632.7 446.6,635.5 446.6,629.9"/>
</g>
<polyline points="88.54,513.49 124.61,557.58 160.68,635.97 196.75,712.31 232.83,712.31 268.9,712.31 304.97,700.06 341.05,591.06 377.12,519.61 413.19,502.47 449.26,491.45" fill="none" stroke="#2ca02c" stroke-opacity="0.85" stroke-width="1.35" stroke-linejoin="round" stroke-dasharray="8.6,2.2,1.35,2.2"/>
<g fill="#2ca02c" fill-opacity="0.75" stroke="#2ca02c" stroke-opacity="0.75" stroke-width="1">
<polygon points="88.5,510.6 91.3,512.6 90.2,515.8 86.9,515.8 85.8,512.6"/>
<polygon points="124.6,554.7 127.3,556.7 126.3,559.9 122.9,559.9 121.9,556.7"/>
<polygon points="160.7,633.1 163.4,635.1 162.4,638.3 159,638.3 158,635.1"/>
<polygon points="196.8,709.5 199.5,711.4 198.4,714.6 195.1,714.6 194,711.4"/>
<polygon points="232.8,709.5 235.5,711.4 234.5,714.6 231.1,714.6 230.1,711.4"/>
<polygon points="268.9,709.5 271.6,711.4 270.6,714.6 267.2,714.6 266.2,711.4"/>
<polygon points="305,697.2 307.7,699.2 306.7,702.4 303.3,702.4 302.3,699.2"/>
<polygon points="341,588.2 343.8,590.2 342.7,593.4 339.4,593.4 338.3,590.2"/>
<polygon points="377.1,516.8 379.8,518.7 378.8,521.9 375.4,521.9 374.4,518.7"/>
<polygon points="413.2,499.6 415.9,501.6 414.9,504.8 411.5,504.8 410.5,501.6"/>
<polygon points="449.3,488.6 452,490.6 450.9,493.8 447.6,493.8 446.5,490.6"/>
</g>
<polyline points="88.54,513.49 124.61,557.58 160.68,635.97 196.75,712.31 232.83,712.72 268.9,712.31 304.97,713.13 341.05,713.13 377.12,712.31 413.19,708.63 449.26,701.29" fill="none" stroke="#2ca02c" stroke-opacity="0.85" stroke-width="1.35" stroke-linejoin="round" stroke-dasharray="1.35,2.2"/>
<g fill="#2ca02c" fill-opacity="0.75" stroke="#2ca02c" stroke-opacity="0.75" stroke-width="1">
<polygon points="90.1,510.9 91.1,511.9 89.6,513.5 91.1,515.1 90.1,516.1 88.5,514.5 87,516.1 85.9,515.1 87.5,513.5 85.9,511.9 87,510.9 88.5,512.5"/>
<polygon points="126.2,555 127.2,556 125.6,557.6 127.2,559.1 126.2,560.2 124.6,558.6 123,560.2 122,559.1 123.6,557.6 122,556 123,555 124.6,556.6"/>
<polygon points="162.2,633.4 163.3,634.4 161.7,636 163.3,637.5 162.2,638.6 160.7,637 159.1,638.6 158.1,637.5 159.7,636 158.1,634.4 159.1,633.4 160.7,634.9"/>
<polygon points="198.3,709.7 199.3,710.7 197.8,712.3 199.3,713.9 198.3,714.9 196.8,713.3 195.2,714.9 194.2,713.9 195.7,712.3 194.2,710.7 195.2,709.7 196.8,711.3"/>
<polygon points="234.4,710.1 235.4,711.2 233.9,712.7 235.4,714.3 234.4,715.3 232.8,713.7 231.3,715.3 230.2,714.3 231.8,712.7 230.2,711.2 231.3,710.1 232.8,711.7"/>
<polygon points="270.5,709.7 271.5,710.7 269.9,712.3 271.5,713.9 270.5,714.9 268.9,713.3 267.3,714.9 266.3,713.9 267.9,712.3 266.3,710.7 267.3,709.7 268.9,711.3"/>
<polygon points="306.5,710.5 307.6,711.6 306,713.1 307.6,714.7 306.5,715.7 305,714.2 303.4,715.7 302.4,714.7 303.9,713.1 302.4,711.6 303.4,710.5 305,712.1"/>
<polygon points="342.6,710.5 343.6,711.6 342.1,713.1 343.6,714.7 342.6,715.7 341,714.2 339.5,715.7 338.5,714.7 340,713.1 338.5,711.6 339.5,710.5 341,712.1"/>
<polygon points="378.7,709.7 379.7,710.7 378.1,712.3 379.7,713.9 378.7,714.9 377.1,713.3 375.6,714.9 374.5,713.9 376.1,712.3 374.5,710.7 375.6,709.7 377.1,711.3"/>
<polygon points="414.8,706 415.8,707.1 414.2,708.6 415.8,710.2 414.8,711.2 413.2,709.7 411.6,711.2 410.6,710.2 412.2,708.6 410.6,707.1 411.6,706 413.2,707.6"/>
<polygon points="450.8,698.7 451.9,699.7 450.3,701.3 451.9,702.9 450.8,703.9 449.3,702.3 447.7,703.9 446.7,702.9 448.2,701.3 446.7,699.7 447.7,698.7 449.3,700.3"/>
</g>
<polyline points="88.54,513.49 124.61,557.58 160.68,635.97 196.75,713.53 232.83,713.53 268.9,713.53 304.97,713.53 341.05,713.53 377.12,713.53 413.19,713.53 449.26,713.53" fill="none" stroke="#9467bd" stroke-opacity="0.85" stroke-width="1.35" stroke-linejoin="round"/>
<g fill="#9467bd" fill-opacity="0.75" stroke="#9467bd" stroke-opacity="0.75" stroke-width="1">
<polygon points="87.6,510.7 89.5,510.7 89.5,512.5 91.3,512.5 91.3,514.4 89.5,514.4 89.5,516.3 87.6,516.3 87.6,514.4 85.7,514.4 85.7,512.5 87.6,512.5"/>
<polygon points="123.7,554.8 125.6,554.8 125.6,556.6 127.4,556.6 127.4,558.5 125.6,558.5 125.6,560.4 123.7,560.4 123.7,558.5 121.8,558.5 121.8,556.6 123.7,556.6"/>
<polygon points="159.7,633.2 161.6,633.2 161.6,635 163.5,635 163.5,636.9 161.6,636.9 161.6,638.8 159.7,638.8 159.7,636.9 157.9,636.9 157.9,635 159.7,635"/>
<polygon points="195.8,710.7 197.7,710.7 197.7,712.6 199.6,712.6 199.6,714.5 197.7,714.5 197.7,716.3 195.8,716.3 195.8,714.5 194,714.5 194,712.6 195.8,712.6"/>
<polygon points="231.9,710.7 233.8,710.7 233.8,712.6 235.6,712.6 235.6,714.5 233.8,714.5 233.8,716.3 231.9,716.3 231.9,714.5 230,714.5 230,712.6 231.9,712.6"/>
<polygon points="267.9,710.7 269.9,710.7 269.9,712.6 271.7,712.6 271.7,714.5 269.9,714.5 269.9,716.3 267.9,716.3 267.9,714.5 266.1,714.5 266.1,712.6 267.9,712.6"/>
<polygon points="304,710.7 305.9,710.7 305.9,712.6 307.8,712.6 307.8,714.5 305.9,714.5 305.9,716.3 304,716.3 304,714.5 302.2,714.5 302.2,712.6 304,712.6"/>
<polygon points="340.1,710.7 342,710.7 342,712.6 343.8,712.6 343.8,714.5 342,714.5 342,716.3 340.1,716.3 340.1,714.5 338.2,714.5 338.2,712.6 340.1,712.6"/>
<polygon points="376.2,710.7 378.1,710.7 378.1,712.6 379.9,712.6 379.9,714.5 378.1,714.5 378.1,716.3 376.2,716.3 376.2,714.5 374.3,714.5 374.3,712.6 376.2,712.6"/>
<polygon points="412.2,710.7 414.1,710.7 414.1,712.6 416,712.6 416,714.5 414.1,714.5 414.1,716.3 412.2,716.3 412.2,714.5 410.4,714.5 410.4,712.6 412.2,712.6"/>
<polygon points="448.3,710.7 450.2,710.7 450.2,712.6 452.1,712.6 452.1,714.5 450.2,714.5 450.2,716.3 448.3,716.3 448.3,714.5 446.5,714.5 446.5,712.6 448.3,712.6"/>
</g>
<polyline points="88.54,513.49 124.61,557.58 160.68,635.97 196.75,713.13 232.83,713.13 268.9,713.13 304.97,713.13 341.05,713.13 377.12,713.13 413.19,713.13 449.26,713.13" fill="none" stroke="#9467bd" stroke-opacity="0.85" stroke-width="1.35" stroke-linejoin="round" stroke-dasharray="5.0,2.2"/>
<g fill="#9467bd" fill-opacity="0.75" stroke="#9467bd" stroke-opacity="0.75" stroke-width="1">
<polygon points="88.5,510.7 91.3,516.2 85.7,516.2"/>
<polygon points="124.6,554.8 127.4,560.2 121.8,560.2"/>
<polygon points="160.7,633.2 163.5,638.6 157.9,638.6"/>
<polygon points="196.8,710.3 199.6,715.8 194,715.8"/>
<polygon points="232.8,710.3 235.6,715.8 230,715.8"/>
<polygon points="268.9,710.3 271.7,715.8 266.1,715.8"/>
<polygon points="305,710.3 307.8,715.8 302.2,715.8"/>
<polygon points="341,710.3 343.8,715.8 338.2,715.8"/>
<polygon points="377.1,710.3 379.9,715.8 374.3,715.8"/>
<polygon points="413.2,710.3 416,715.8 410.4,715.8"/>
<polygon points="449.3,710.3 452.1,715.8 446.5,715.8"/>
</g>
<polyline points="88.54,513.49 124.61,557.58 160.68,635.97 196.75,713.13 232.83,713.13 268.9,712.31 304.97,583.3 341.05,560.44 377.12,545.74 413.19,481.24 449.26,470.22" fill="none" stroke="#d62728" stroke-opacity="0.85" stroke-width="1.35" stroke-linejoin="round"/>
<g fill="#d62728" fill-opacity="0.75" stroke="#d62728" stroke-opacity="0.75" stroke-width="1">
<polygon points="88.5,510.3 89.3,512.4 91.6,512.5 89.8,513.9 90.4,516.1 88.5,514.8 86.6,516.1 87.3,513.9 85.5,512.5 87.7,512.4"/>
<polygon points="124.6,554.4 125.4,556.5 127.7,556.6 125.9,558 126.5,560.2 124.6,558.9 122.7,560.2 123.3,558 121.5,556.6 123.8,556.5"/>
<polygon points="160.7,632.7 161.5,634.9 163.7,635 162,636.4 162.6,638.6 160.7,637.3 158.8,638.6 159.4,636.4 157.6,635 159.9,634.9"/>
<polygon points="196.8,709.9 197.5,712 199.8,712.1 198,713.5 198.6,715.7 196.8,714.5 194.9,715.7 195.5,713.5 193.7,712.1 196,712"/>
<polygon points="232.8,709.9 233.6,712 235.9,712.1 234.1,713.5 234.7,715.7 232.8,714.5 230.9,715.7 231.5,713.5 229.8,712.1 232,712"/>
<polygon points="268.9,709.1 269.7,711.2 272,711.3 270.2,712.7 270.8,714.9 268.9,713.7 267,714.9 267.6,712.7 265.8,711.3 268.1,711.2"/>
<polygon points="305,580.1 305.8,582.2 308,582.3 306.3,583.7 306.9,585.9 305,584.7 303.1,585.9 303.7,583.7 301.9,582.3 304.2,582.2"/>
<polygon points="341,557.2 341.8,559.3 344.1,559.4 342.3,560.9 342.9,563 341,561.8 339.2,563 339.8,560.9 338,559.4 340.3,559.3"/>
<polygon points="377.1,542.5 377.9,544.6 380.2,544.7 378.4,546.2 379,548.3 377.1,547.1 375.2,548.3 375.8,546.2 374.1,544.7 376.3,544.6"/>
<polygon points="413.2,478 414,480.1 416.3,480.2 414.5,481.7 415.1,483.8 413.2,482.6 411.3,483.8 411.9,481.7 410.1,480.2 412.4,480.1"/>
<polygon points="449.3,467 450.1,469.1 452.3,469.2 450.5,470.6 451.2,472.8 449.3,471.6 447.4,472.8 448,470.6 446.2,469.2 448.5,469.1"/>
</g>
<polyline points="88.54,513.49 124.61,557.58 160.68,635.97 196.75,713.13 232.83,713.13 268.9,713.13 304.97,713.53 341.05,713.53 377.12,709.45 413.19,664.54 449.26,543.29" fill="none" stroke="#d62728" stroke-opacity="0.85" stroke-width="1.35" stroke-linejoin="round" stroke-dasharray="5.0,2.2"/>
<g fill="#d62728" fill-opacity="0.75" stroke="#d62728" stroke-opacity="0.75" stroke-width="1">
<polygon points="88.5,510.6 91,512.1 91,514.9 88.5,516.3 86.1,514.9 86.1,512.1"/>
<polygon points="124.6,554.7 127.1,556.2 127.1,559 124.6,560.4 122.1,559 122.1,556.2"/>
<polygon points="160.7,633.1 163.2,634.5 163.2,637.4 160.7,638.8 158.2,637.4 158.2,634.5"/>
<polygon points="196.8,710.3 199.2,711.7 199.2,714.6 196.8,716 194.3,714.6 194.3,711.7"/>
<polygon points="232.8,710.3 235.3,711.7 235.3,714.6 232.8,716 230.4,714.6 230.4,711.7"/>
<polygon points="268.9,710.3 271.4,711.7 271.4,714.6 268.9,716 266.4,714.6 266.4,711.7"/>
<polygon points="305,710.7 307.4,712.1 307.4,715 305,716.4 302.5,715 302.5,712.1"/>
<polygon points="341,710.7 343.5,712.1 343.5,715 341,716.4 338.6,715 338.6,712.1"/>
<polygon points="377.1,706.6 379.6,708 379.6,710.9 377.1,712.3 374.6,710.9 374.6,708"/>
<polygon points="413.2,661.7 415.7,663.1 415.7,666 413.2,667.4 410.7,666 410.7,663.1"/>
<polygon points="449.3,540.4 451.7,541.9 451.7,544.7 449.3,546.1 446.8,544.7 446.8,541.9"/>
</g>
</g>
<line x1="268.9" y1="714.35" x2="268.9" y2="469.4" stroke="#000" stroke-width="1.35" stroke-dasharray="5.0,2.35"/>
<line x1="70" y1="469.5" x2="467.8" y2="469.5" stroke="#000" stroke-opacity="0.95" stroke-width="1.0"/>
<line x1="70" y1="714.5" x2="467.8" y2="714.5" stroke="#000" stroke-opacity="0.6" stroke-width="1.0"/>
<line x1="70.5" y1="469.9" x2="70.5" y2="713.85" stroke="#000" stroke-opacity="0.85" stroke-width="1.05"/>
<line x1="467.3" y1="469.9" x2="467.3" y2="713.85" stroke="#000" stroke-opacity="0.95" stroke-width="1.05"/>
<polyline clip-path="url(#c3)" points="124.61,557.58 160.68,635.97 196.75,714.35 232.83,714.35 268.9,714.35 304.97,714.35 341.05,714.35 377.12,714.35 413.19,714.35 449.26,714.35" fill="none" stroke="#000" stroke-opacity="0.4" stroke-width="4.8" stroke-linejoin="round" stroke-linecap="butt"/>
<line x1="66.9" y1="714.5" x2="70.5" y2="714.5" stroke="#111" stroke-width="1.0"/>
<text x="56.17" y="719" font-family="Liberation Sans, sans-serif" font-size="14.8" textLength="7.97" lengthAdjust="spacingAndGlyphs">0</text>
<line x1="66.9" y1="673.5" x2="70.5" y2="673.5" stroke="#111" stroke-width="1.0"/>
<text x="56.31" y="678.17" font-family="Liberation Sans, sans-serif" font-size="14.8" textLength="7.57" lengthAdjust="spacingAndGlyphs">1</text>
<line x1="66.9" y1="632.5" x2="70.5" y2="632.5" stroke="#111" stroke-width="1.0"/>
<text x="56.14" y="637.35" font-family="Liberation Sans, sans-serif" font-size="14.8" textLength="7.65" lengthAdjust="spacingAndGlyphs">2</text>
<line x1="66.9" y1="591.5" x2="70.5" y2="591.5" stroke="#111" stroke-width="1.0"/>
<text x="56.35" y="596.52" font-family="Liberation Sans, sans-serif" font-size="14.8" textLength="7.64" lengthAdjust="spacingAndGlyphs">3</text>
<line x1="66.9" y1="551.5" x2="70.5" y2="551.5" stroke="#111" stroke-width="1.0"/>
<text x="56.16" y="555.7" font-family="Liberation Sans, sans-serif" font-size="14.8" textLength="7.97" lengthAdjust="spacingAndGlyphs">4</text>
<line x1="66.9" y1="510.5" x2="70.5" y2="510.5" stroke="#111" stroke-width="1.0"/>
<text x="56.34" y="514.88" font-family="Liberation Sans, sans-serif" font-size="14.8" textLength="7.51" lengthAdjust="spacingAndGlyphs">5</text>
<line x1="66.9" y1="469.5" x2="70.5" y2="469.5" stroke="#111" stroke-width="1.0"/>
<text x="56.03" y="474.05" font-family="Liberation Sans, sans-serif" font-size="14.8" textLength="8.24" lengthAdjust="spacingAndGlyphs">6</text>
<line x1="88.54" y1="714.35" x2="88.54" y2="717.95" stroke="#111" stroke-width="1.05"/>
<text x="81.41" y="732.8" font-family="Liberation Sans, sans-serif" font-size="14.8" textLength="7.65" lengthAdjust="spacingAndGlyphs">2</text>
<text x="90.23" y="727.65" font-family="Liberation Sans, sans-serif" font-size="10.4" textLength="5.51" lengthAdjust="spacingAndGlyphs">0</text>
<line x1="124.61" y1="714.35" x2="124.61" y2="717.95" stroke="#111" stroke-width="1.05"/>
<text x="117.48" y="732.8" font-family="Liberation Sans, sans-serif" font-size="14.8" textLength="7.65" lengthAdjust="spacingAndGlyphs">2</text>
<text x="126.41" y="727.65" font-family="Liberation Sans, sans-serif" font-size="10.4" textLength="5.22" lengthAdjust="spacingAndGlyphs">1</text>
<line x1="160.68" y1="714.35" x2="160.68" y2="717.95" stroke="#111" stroke-width="1.05"/>
<text x="153.55" y="732.8" font-family="Liberation Sans, sans-serif" font-size="14.8" textLength="7.65" lengthAdjust="spacingAndGlyphs">2</text>
<text x="162.36" y="727.65" font-family="Liberation Sans, sans-serif" font-size="10.4" textLength="5.28" lengthAdjust="spacingAndGlyphs">2</text>
<line x1="196.75" y1="714.35" x2="196.75" y2="717.95" stroke="#111" stroke-width="1.05"/>
<text x="189.63" y="732.8" font-family="Liberation Sans, sans-serif" font-size="14.8" textLength="7.65" lengthAdjust="spacingAndGlyphs">2</text>
<text x="198.57" y="727.65" font-family="Liberation Sans, sans-serif" font-size="10.4" textLength="5.28" lengthAdjust="spacingAndGlyphs">3</text>
<line x1="232.83" y1="714.35" x2="232.83" y2="717.95" stroke="#111" stroke-width="1.05"/>
<text x="225.7" y="732.8" font-family="Liberation Sans, sans-serif" font-size="14.8" textLength="7.65" lengthAdjust="spacingAndGlyphs">2</text>
<text x="234.51" y="727.65" font-family="Liberation Sans, sans-serif" font-size="10.4" textLength="5.51" lengthAdjust="spacingAndGlyphs">4</text>
<line x1="268.9" y1="714.35" x2="268.9" y2="717.95" stroke="#111" stroke-width="1.05"/>
<text x="261.77" y="732.8" font-family="Liberation Sans, sans-serif" font-size="14.8" textLength="7.65" lengthAdjust="spacingAndGlyphs">2</text>
<text x="270.71" y="727.65" font-family="Liberation Sans, sans-serif" font-size="10.4" textLength="5.18" lengthAdjust="spacingAndGlyphs">5</text>
<line x1="304.97" y1="714.35" x2="304.97" y2="717.95" stroke="#111" stroke-width="1.05"/>
<text x="297.85" y="732.8" font-family="Liberation Sans, sans-serif" font-size="14.8" textLength="7.65" lengthAdjust="spacingAndGlyphs">2</text>
<text x="306.57" y="727.65" font-family="Liberation Sans, sans-serif" font-size="10.4" textLength="5.7" lengthAdjust="spacingAndGlyphs">6</text>
<line x1="341.05" y1="714.35" x2="341.05" y2="717.95" stroke="#111" stroke-width="1.05"/>
<text x="333.92" y="732.8" font-family="Liberation Sans, sans-serif" font-size="14.8" textLength="7.65" lengthAdjust="spacingAndGlyphs">2</text>
<text x="342.79" y="727.65" font-family="Liberation Sans, sans-serif" font-size="10.4" textLength="5.37" lengthAdjust="spacingAndGlyphs">7</text>
<line x1="377.12" y1="714.35" x2="377.12" y2="717.95" stroke="#111" stroke-width="1.05"/>
<text x="369.99" y="732.8" font-family="Liberation Sans, sans-serif" font-size="14.8" textLength="7.65" lengthAdjust="spacingAndGlyphs">2</text>
<text x="378.79" y="727.65" font-family="Liberation Sans, sans-serif" font-size="10.4" textLength="5.55" lengthAdjust="spacingAndGlyphs">8</text>
<line x1="413.19" y1="714.35" x2="413.19" y2="717.95" stroke="#111" stroke-width="1.05"/>
<text x="406.06" y="732.8" font-family="Liberation Sans, sans-serif" font-size="14.8" textLength="7.65" lengthAdjust="spacingAndGlyphs">2</text>
<text x="414.76" y="727.65" font-family="Liberation Sans, sans-serif" font-size="10.4" textLength="5.68" lengthAdjust="spacingAndGlyphs">9</text>
<line x1="449.26" y1="714.35" x2="449.26" y2="717.95" stroke="#111" stroke-width="1.05"/>
<text x="439.02" y="732.8" font-family="Liberation Sans, sans-serif" font-size="14.8" textLength="7.65" lengthAdjust="spacingAndGlyphs">2</text>
<text x="447.86" y="727.65" font-family="Liberation Sans, sans-serif" font-size="10.4" textLength="11.74" lengthAdjust="spacingAndGlyphs">10</text>
<text x="248.67" y="463.5" font-family="Liberation Sans, sans-serif" font-size="17.2" font-style="italic" textLength="7.92" lengthAdjust="spacingAndGlyphs">d</text>
<text x="262.3" y="463.5" font-family="Liberation Sans, sans-serif" font-size="17.2" textLength="12.5" lengthAdjust="spacingAndGlyphs">=</text>
<text x="279.49" y="463.5" font-family="Liberation Sans, sans-serif" font-size="17.2" textLength="9.15" lengthAdjust="spacingAndGlyphs">5</text>
<text x="225.68" y="750.75" font-family="Liberation Sans, sans-serif" font-size="14.4" textLength="85.08" lengthAdjust="spacingAndGlyphs">Query Index</text>
<clipPath id="c4"><rect x="505.6" y="469.4" width="396.8" height="244.95"/></clipPath>
<line x1="505.6" y1="673.5" x2="902.4" y2="673.5" stroke="#b0b0b0" stroke-opacity="0.3" stroke-width="0.9" stroke-dasharray="2.8,1.1"/>
<line x1="505.6" y1="632.5" x2="902.4" y2="632.5" stroke="#b0b0b0" stroke-opacity="0.3" stroke-width="0.9" stroke-dasharray="2.8,1.1"/>
<line x1="505.6" y1="591.5" x2="902.4" y2="591.5" stroke="#b0b0b0" stroke-opacity="0.3" stroke-width="0.9" stroke-dasharray="2.8,1.1"/>
<line x1="505.6" y1="551.5" x2="902.4" y2="551.5" stroke="#b0b0b0" stroke-opacity="0.3" stroke-width="0.9" stroke-dasharray="2.8,1.1"/>
<line x1="505.6" y1="510.5" x2="902.4" y2="510.5" stroke="#b0b0b0" stroke-opacity="0.3" stroke-width="0.9" stroke-dasharray="2.8,1.1"/>
<g clip-path="url(#c4)">
<polyline points="523.64,516.55 559.71,531.05 595.78,562.28 631.85,624.33 667.93,673.32 704,704.14 740.07,705.57 776.15,705.57 812.22,703.94 848.29,703.12 884.36,703.94" fill="none" stroke="#1f77b4" stroke-opacity="0.85" stroke-width="1.35" stroke-linejoin="round"/>
<g fill="#1f77b4" fill-opacity="0.75" stroke="#1f77b4" stroke-opacity="0.75" stroke-width="1">
<circle cx="523.6" cy="516.6" r="2.8"/>
<circle cx="559.7" cy="531" r="2.8"/>
<circle cx="595.8" cy="562.3" r="2.8"/>
<circle cx="631.9" cy="624.3" r="2.8"/>
<circle cx="667.9" cy="673.3" r="2.8"/>
<circle cx="704" cy="704.1" r="2.8"/>
<circle cx="740.1" cy="705.6" r="2.8"/>
<circle cx="776.1" cy="705.6" r="2.8"/>
<circle cx="812.2" cy="703.9" r="2.8"/>
<circle cx="848.3" cy="703.1" r="2.8"/>
<circle cx="884.4" cy="703.9" r="2.8"/>
</g>
<polyline points="523.64,516.55 559.71,531.05 595.78,565.34 631.85,633.92 667.93,694.55 704,707.21 740.07,707.21 776.15,706.19 812.22,704.76 848.29,700.88 884.36,697" fill="none" stroke="#1f77b4" stroke-opacity="0.85" stroke-width="1.35" stroke-linejoin="round" stroke-dasharray="5.0,2.2"/>
<g fill="#1f77b4" fill-opacity="0.75" stroke="#1f77b4" stroke-opacity="0.75" stroke-width="1">
<polygon points="521,513.9 526.3,513.9 526.3,519.2 521,519.2"/>
<polygon points="557,528.4 562.4,528.4 562.4,533.7 557,533.7"/>
<polygon points="593.1,562.7 598.4,562.7 598.4,568 593.1,568"/>
<polygon points="629.2,631.3 634.5,631.3 634.5,636.6 629.2,636.6"/>
<polygon points="665.3,691.9 670.6,691.9 670.6,697.2 665.3,697.2"/>
<polygon points="701.3,704.5 706.7,704.5 706.7,709.9 701.3,709.9"/>
<polygon points="737.4,704.5 742.7,704.5 742.7,709.9 737.4,709.9"/>
<polygon points="773.5,703.5 778.8,703.5 778.8,708.8 773.5,708.8"/>
<polygon points="809.6,702.1 814.9,702.1 814.9,707.4 809.6,707.4"/>
<polygon points="845.6,698.2 851,698.2 851,703.5 845.6,703.5"/>
<polygon points="881.7,694.3 887,694.3 887,699.7 881.7,699.7"/>
</g>
<polyline points="523.64,516.55 559.71,531.05 595.78,565.34 631.85,645.15 667.93,703.12 704,708.23 740.07,708.23 776.15,708.23 812.22,707.82 848.29,707.21 884.36,707.21" fill="none" stroke="#1f77b4" stroke-opacity="0.85" stroke-width="1.35" stroke-linejoin="round" stroke-dasharray="1.35,2.2"/>
<g fill="#1f77b4" fill-opacity="0.75" stroke="#1f77b4" stroke-opacity="0.75" stroke-width="1">
<polygon points="523.6,513.8 526.4,519.2 520.8,519.2"/>
<polygon points="559.7,528.2 562.5,533.7 556.9,533.7"/>
<polygon points="595.8,562.5 598.6,568 593,568"/>
<polygon points="631.9,642.4 634.7,647.8 629.1,647.8"/>
<polygon points="667.9,700.3 670.7,705.8 665.1,705.8"/>
<polygon points="704,705.4 706.8,710.9 701.2,710.9"/>
<polygon points="740.1,705.4 742.9,710.9 737.3,710.9"/>
<polygon points="776.1,705.4 778.9,710.9 773.3,710.9"/>
<polygon points="812.2,705 815,710.5 809.4,710.5"/>
<polygon points="848.3,704.4 851.1,709.9 845.5,709.9"/>
<polygon points="884.4,704.4 887.2,709.9 881.6,709.9"/>
</g>
<polyline points="523.64,516.55 559.71,531.05 595.78,562.28 631.85,624.33 667.93,675.77 704,698.43 740.07,699.65 776.15,699.24 812.22,698.84 848.29,697.82 884.36,699.65" fill="none" stroke="#ff7f0e" stroke-opacity="0.85" stroke-width="1.35" stroke-linejoin="round"/>
<g fill="#ff7f0e" fill-opacity="0.75" stroke="#ff7f0e" stroke-opacity="0.75" stroke-width="1">
<polygon points="523.6,512.6 527.6,516.6 523.6,520.5 519.7,516.6"/>
<polygon points="559.7,527.1 563.6,531 559.7,535 555.8,531"/>
<polygon points="595.8,558.4 599.7,562.3 595.8,566.2 591.9,562.3"/>
<polygon points="631.9,620.4 635.8,624.3 631.9,628.3 627.9,624.3"/>
<polygon points="667.9,671.9 671.8,675.8 667.9,679.7 664,675.8"/>
<polygon points="704,694.5 707.9,698.4 704,702.3 700.1,698.4"/>
<polygon points="740.1,695.7 744,699.7 740.1,703.6 736.2,699.7"/>
<polygon points="776.1,695.3 780.1,699.2 776.1,703.2 772.2,699.2"/>
<polygon points="812.2,694.9 816.1,698.8 812.2,702.8 808.3,698.8"/>
<polygon points="848.3,693.9 852.2,697.8 848.3,701.7 844.4,697.8"/>
<polygon points="884.4,695.7 888.3,699.7 884.4,703.6 880.4,699.7"/>
</g>
<polyline points="523.64,516.55 559.71,531.05 595.78,563.3 631.85,626.58 667.93,676.59 704,703.12 740.07,708.23 776.15,707 812.22,707 848.29,707 884.36,707" fill="none" stroke="#ff7f0e" stroke-opacity="0.85" stroke-width="1.35" stroke-linejoin="round" stroke-dasharray="5.0,2.2"/>
<g fill="#ff7f0e" fill-opacity="0.75" stroke="#ff7f0e" stroke-opacity="0.75" stroke-width="1">
<polygon points="523.6,519.4 526.4,513.9 520.8,513.9"/>
<polygon points="559.7,533.8 562.5,528.4 556.9,528.4"/>
<polygon points="595.8,566.1 598.6,560.6 593,560.6"/>
<polygon points="631.9,629.4 634.7,623.9 629.1,623.9"/>
<polygon points="667.9,679.4 670.7,673.9 665.1,673.9"/>
<polygon points="704,705.9 706.8,700.5 701.2,700.5"/>
<polygon points="740.1,711 742.9,705.6 737.3,705.6"/>
<polygon points="776.1,709.8 778.9,704.3 773.3,704.3"/>
<polygon points="812.2,709.8 815,704.3 809.4,704.3"/>
<polygon points="848.3,709.8 851.1,704.3 845.5,704.3"/>
<polygon points="884.4,709.8 887.2,704.3 881.6,704.3"/>
</g>
<polyline points="523.64,516.55 559.71,531.05 595.78,565.34 631.85,629.64 667.93,682.91 704,710.27 740.07,672.91 776.15,375.5 812.22,408.16 848.29,436.74 884.36,492.06" fill="none" stroke="#2ca02c" stroke-opacity="0.85" stroke-width="1.35" stroke-linejoin="round"/>
<g fill="#2ca02c" fill-opacity="0.75" stroke="#2ca02c" stroke-opacity="0.75" stroke-width="1">
<polygon points="520.8,516.6 526.3,519.4 526.3,513.8"/>
<polygon points="556.9,531 562.4,533.8 562.4,528.2"/>
<polygon points="593,565.3 598.4,568.1 598.4,562.5"/>
<polygon points="629.1,629.6 634.5,632.4 634.5,626.8"/>
<polygon points="665.1,682.9 670.6,685.7 670.6,680.1"/>
<polygon points="701.2,710.3 706.7,713.1 706.7,707.5"/>
<polygon points="737.3,672.9 742.7,675.7 742.7,670.1"/>
<polygon points="881.6,492.1 887,494.9 887,489.3"/>
</g>
<polyline points="523.64,516.55 559.71,531.05 595.78,566.56 631.85,654.54 667.93,712.31 704,712.31 740.07,688.22 776.15,682.91 812.22,668.01 848.29,635.97 884.36,574.73" fill="none" stroke="#2ca02c" stroke-opacity="0.85" stroke-width="1.35" stroke-linejoin="round" stroke-dasharray="5.0,2.2"/>
<g fill="#2ca02c" fill-opacity="0.75" stroke="#2ca02c" stroke-opacity="0.75" stroke-width="1">
<polygon points="526.4,516.6 521,519.4 521,513.8"/>
<polygon points="562.5,531 557,533.8 557,528.2"/>
<polygon points="598.6,566.6 593.1,569.4 593.1,563.8"/>
<polygon points="634.7,654.5 629.2,657.3 629.2,651.7"/>
<polygon points="670.7,712.3 665.3,715.1 665.3,709.5"/>
<polygon points="706.8,712.3 701.3,715.1 701.3,709.5"/>
<polygon points="742.9,688.2 737.4,691 737.4,685.4"/>
<polygon points="778.9,682.9 773.5,685.7 773.5,680.1"/>
<polygon points="815,668 809.6,670.8 809.6,665.2"/>
<polygon points="851.1,636 845.6,638.8 845.6,633.2"/>
<polygon points="887.2,574.7 881.7,577.5 881.7,571.9"/>
</g>
<polyline points="523.64,516.55 559.71,531.05 595.78,566.56 631.85,654.54 667.93,712.31 704,712.31 740.07,665.77 776.15,543.29 812.22,499.41 848.29,482.46 884.36,511.25" fill="none" stroke="#2ca02c" stroke-opacity="0.85" stroke-width="1.35" stroke-linejoin="round" stroke-dasharray="8.6,2.2,1.35,2.2"/>
<g fill="#2ca02c" fill-opacity="0.75" stroke="#2ca02c" stroke-opacity="0.75" stroke-width="1">
<polygon points="523.6,513.7 526.4,515.7 525.3,518.9 522,518.9 520.9,515.7"/>
<polygon points="559.7,528.2 562.4,530.2 561.4,533.4 558,533.4 557,530.2"/>
<polygon points="595.8,563.7 598.5,565.7 597.5,568.9 594.1,568.9 593.1,565.7"/>
<polygon points="631.9,651.7 634.6,653.7 633.5,656.9 630.2,656.9 629.1,653.7"/>
<polygon points="667.9,709.5 670.6,711.4 669.6,714.6 666.2,714.6 665.2,711.4"/>
<polygon points="704,709.5 706.7,711.4 705.7,714.6 702.3,714.6 701.3,711.4"/>
<polygon points="740.1,662.9 742.8,664.9 741.8,668.1 738.4,668.1 737.4,664.9"/>
<polygon points="776.1,540.4 778.9,542.4 777.8,545.6 774.5,545.6 773.4,542.4"/>
<polygon points="812.2,496.6 814.9,498.5 813.9,501.7 810.5,501.7 809.5,498.5"/>
<polygon points="848.3,479.6 851,481.6 850,484.8 846.6,484.8 845.6,481.6"/>
<polygon points="884.4,508.4 887.1,510.4 886,513.6 882.7,513.6 881.6,510.4"/>
</g>
<polyline points="523.64,516.55 559.71,531.05 595.78,566.56 631.85,654.54 667.93,712.31 704,712.31 740.07,710.27 776.15,703.94 812.22,685.57 848.29,649.85 884.36,619.84" fill="none" stroke="#2ca02c" stroke-opacity="0.85" stroke-width="1.35" stroke-linejoin="round" stroke-dasharray="1.35,2.2"/>
<g fill="#2ca02c" fill-opacity="0.75" stroke="#2ca02c" stroke-opacity="0.75" stroke-width="1">
<polygon points="525.2,514 526.2,515 524.7,516.6 526.2,518.1 525.2,519.1 523.6,517.6 522.1,519.1 521,518.1 522.6,516.6 521,515 522.1,514 523.6,515.5"/>
<polygon points="561.3,528.5 562.3,529.5 560.7,531 562.3,532.6 561.3,533.6 559.7,532.1 558.1,533.6 557.1,532.6 558.7,531 557.1,529.5 558.1,528.5 559.7,530"/>
<polygon points="597.3,564 598.4,565 596.8,566.6 598.4,568.1 597.3,569.2 595.8,567.6 594.2,569.2 593.2,568.1 594.8,566.6 593.2,565 594.2,564 595.8,565.5"/>
<polygon points="633.4,651.9 634.4,653 632.9,654.5 634.4,656.1 633.4,657.1 631.9,655.6 630.3,657.1 629.3,656.1 630.8,654.5 629.3,653 630.3,651.9 631.9,653.5"/>
<polygon points="669.5,709.7 670.5,710.7 669,712.3 670.5,713.9 669.5,714.9 667.9,713.3 666.4,714.9 665.3,713.9 666.9,712.3 665.3,710.7 666.4,709.7 667.9,711.3"/>
<polygon points="705.6,709.7 706.6,710.7 705,712.3 706.6,713.9 705.6,714.9 704,713.3 702.4,714.9 701.4,713.9 703,712.3 701.4,710.7 702.4,709.7 704,711.3"/>
<polygon points="741.6,707.7 742.7,708.7 741.1,710.3 742.7,711.8 741.6,712.9 740.1,711.3 738.5,712.9 737.5,711.8 739,710.3 737.5,708.7 738.5,707.7 740.1,709.2"/>
<polygon points="777.7,701.3 778.7,702.4 777.2,703.9 778.7,705.5 777.7,706.5 776.1,705 774.6,706.5 773.6,705.5 775.1,703.9 773.6,702.4 774.6,701.3 776.1,702.9"/>
<polygon points="813.8,683 814.8,684 813.2,685.6 814.8,687.1 813.8,688.2 812.2,686.6 810.7,688.2 809.6,687.1 811.2,685.6 809.6,684 810.7,683 812.2,684.5"/>
<polygon points="849.9,647.3 850.9,648.3 849.3,649.8 850.9,651.4 849.9,652.4 848.3,650.9 846.7,652.4 845.7,651.4 847.3,649.8 845.7,648.3 846.7,647.3 848.3,648.8"/>
<polygon points="885.9,617.2 887,618.3 885.4,619.8 887,621.4 885.9,622.4 884.4,620.9 882.8,622.4 881.8,621.4 883.3,619.8 881.8,618.3 882.8,617.2 884.4,618.8"/>
</g>
<polyline points="523.64,516.55 559.71,531.05 595.78,566.56 631.85,654.54 667.93,713.33 704,712.31 740.07,712.31 776.15,712.31 812.22,712.31 848.29,712.31 884.36,712.31" fill="none" stroke="#9467bd" stroke-opacity="0.85" stroke-width="1.35" stroke-linejoin="round"/>
<g fill="#9467bd" fill-opacity="0.75" stroke="#9467bd" stroke-opacity="0.75" stroke-width="1">
<polygon points="522.7,513.8 524.6,513.8 524.6,515.6 526.4,515.6 526.4,517.5 524.6,517.5 524.6,519.4 522.7,519.4 522.7,517.5 520.8,517.5 520.8,515.6 522.7,515.6"/>
<polygon points="558.8,528.2 560.7,528.2 560.7,530.1 562.5,530.1 562.5,532 560.7,532 560.7,533.8 558.8,533.8 558.8,532 556.9,532 556.9,530.1 558.8,530.1"/>
<polygon points="594.8,563.8 596.7,563.8 596.7,565.6 598.6,565.6 598.6,567.5 596.7,567.5 596.7,569.4 594.8,569.4 594.8,567.5 593,567.5 593,565.6 594.8,565.6"/>
<polygon points="630.9,651.7 632.8,651.7 632.8,653.6 634.7,653.6 634.7,655.5 632.8,655.5 632.8,657.3 630.9,657.3 630.9,655.5 629.1,655.5 629.1,653.6 630.9,653.6"/>
<polygon points="667,710.5 668.9,710.5 668.9,712.4 670.7,712.4 670.7,714.3 668.9,714.3 668.9,716.1 667,716.1 667,714.3 665.1,714.3 665.1,712.4 667,712.4"/>
<polygon points="703,709.5 705,709.5 705,711.4 706.8,711.4 706.8,713.3 705,713.3 705,715.1 703,715.1 703,713.3 701.2,713.3 701.2,711.4 703,711.4"/>
<polygon points="739.1,709.5 741,709.5 741,711.4 742.9,711.4 742.9,713.3 741,713.3 741,715.1 739.1,715.1 739.1,713.3 737.3,713.3 737.3,711.4 739.1,711.4"/>
<polygon points="775.2,709.5 777.1,709.5 777.1,711.4 778.9,711.4 778.9,713.3 777.1,713.3 777.1,715.1 775.2,715.1 775.2,713.3 773.3,713.3 773.3,711.4 775.2,711.4"/>
<polygon points="811.3,709.5 813.2,709.5 813.2,711.4 815,711.4 815,713.3 813.2,713.3 813.2,715.1 811.3,715.1 811.3,713.3 809.4,713.3 809.4,711.4 811.3,711.4"/>
<polygon points="847.3,709.5 849.2,709.5 849.2,711.4 851.1,711.4 851.1,713.3 849.2,713.3 849.2,715.1 847.3,715.1 847.3,713.3 845.5,713.3 845.5,711.4 847.3,711.4"/>
<polygon points="883.4,709.5 885.3,709.5 885.3,711.4 887.2,711.4 887.2,713.3 885.3,713.3 885.3,715.1 883.4,715.1 883.4,713.3 881.6,713.3 881.6,711.4 883.4,711.4"/>
</g>
<polyline points="523.64,516.55 559.71,531.05 595.78,566.56 631.85,651.07 667.93,713.13 704,711.9 740.07,709.86 776.15,709.86 812.22,709.86 848.29,709.86 884.36,709.86" fill="none" stroke="#9467bd" stroke-opacity="0.85" stroke-width="1.35" stroke-linejoin="round" stroke-dasharray="5.0,2.2"/>
<g fill="#9467bd" fill-opacity="0.75" stroke="#9467bd" stroke-opacity="0.75" stroke-width="1">
<polygon points="523.6,513.8 526.4,519.2 520.8,519.2"/>
<polygon points="559.7,528.2 562.5,533.7 556.9,533.7"/>
<polygon points="595.8,563.8 598.6,569.2 593,569.2"/>
<polygon points="631.9,648.3 634.7,653.7 629.1,653.7"/>
<polygon points="667.9,710.3 670.7,715.8 665.1,715.8"/>
<polygon points="704,709.1 706.8,714.6 701.2,714.6"/>
<polygon points="740.1,707.1 742.9,712.5 737.3,712.5"/>
<polygon points="776.1,707.1 778.9,712.5 773.3,712.5"/>
<polygon points="812.2,707.1 815,712.5 809.4,712.5"/>
<polygon points="848.3,707.1 851.1,712.5 845.5,712.5"/>
<polygon points="884.4,707.1 887.2,712.5 881.6,712.5"/>
</g>
<polyline points="523.64,516.55 559.71,531.05 595.78,566.56 631.85,654.54 667.93,713.33 704,712.72 740.07,478.18 776.15,101.97 812.22,101.97 848.29,101.97 884.36,101.97" fill="none" stroke="#d62728" stroke-opacity="0.85" stroke-width="1.35" stroke-linejoin="round"/>
<g fill="#d62728" fill-opacity="0.75" stroke="#d62728" stroke-opacity="0.75" stroke-width="1">
<polygon points="523.6,513.3 524.4,515.5 526.7,515.6 524.9,517 525.5,519.2 523.6,517.9 521.7,519.2 522.4,517 520.6,515.6 522.8,515.5"/>
<polygon points="559.7,527.8 560.5,530 562.8,530.1 561,531.5 561.6,533.7 559.7,532.4 557.8,533.7 558.4,531.5 556.6,530.1 558.9,530"/>
<polygon points="595.8,563.3 596.6,565.5 598.8,565.6 597.1,567 597.7,569.2 595.8,567.9 593.9,569.2 594.5,567 592.7,565.6 595,565.5"/>
<polygon points="631.9,651.3 632.6,653.4 634.9,653.5 633.1,655 633.7,657.1 631.9,655.9 630,657.1 630.6,655 628.8,653.5 631.1,653.4"/>
<polygon points="667.9,710.1 668.7,712.2 671,712.3 669.2,713.7 669.8,715.9 667.9,714.7 666,715.9 666.6,713.7 664.9,712.3 667.1,712.2"/>
<polygon points="704,709.5 704.8,711.6 707.1,711.7 705.3,713.1 705.9,715.3 704,714.1 702.1,715.3 702.7,713.1 700.9,711.7 703.2,711.6"/>
<polygon points="740.1,475 740.9,477.1 743.1,477.2 741.4,478.6 742,480.8 740.1,479.5 738.2,480.8 738.8,478.6 737,477.2 739.3,477.1"/>
</g>
<polyline points="523.64,516.55 559.71,531.05 595.78,566.56 631.85,654.54 667.93,713.33 704,712.72 740.07,705.57 776.15,663.73 812.22,630.66 848.29,552.07 884.36,525.53" fill="none" stroke="#d62728" stroke-opacity="0.85" stroke-width="1.35" stroke-linejoin="round" stroke-dasharray="5.0,2.2"/>
<g fill="#d62728" fill-opacity="0.75" stroke="#d62728" stroke-opacity="0.75" stroke-width="1">
<polygon points="523.6,513.7 526.1,515.1 526.1,518 523.6,519.4 521.2,518 521.2,515.1"/>
<polygon points="559.7,528.2 562.2,529.6 562.2,532.5 559.7,533.9 557.2,532.5 557.2,529.6"/>
<polygon points="595.8,563.7 598.3,565.1 598.3,568 595.8,569.4 593.3,568 593.3,565.1"/>
<polygon points="631.9,651.7 634.3,653.1 634.3,656 631.9,657.4 629.4,656 629.4,653.1"/>
<polygon points="667.9,710.5 670.4,711.9 670.4,714.8 667.9,716.2 665.5,714.8 665.5,711.9"/>
<polygon points="704,709.9 706.5,711.3 706.5,714.1 704,715.6 701.5,714.1 701.5,711.3"/>
<polygon points="740.1,702.7 742.5,704.1 742.5,707 740.1,708.4 737.6,707 737.6,704.1"/>
<polygon points="776.1,660.9 778.6,662.3 778.6,665.2 776.1,666.6 773.7,665.2 773.7,662.3"/>
<polygon points="812.2,627.8 814.7,629.2 814.7,632.1 812.2,633.5 809.7,632.1 809.7,629.2"/>
<polygon points="848.3,549.2 850.8,550.6 850.8,553.5 848.3,554.9 845.8,553.5 845.8,550.6"/>
<polygon points="884.4,522.7 886.8,524.1 886.8,527 884.4,528.4 881.9,527 881.9,524.1"/>
</g>
</g>
<line x1="704" y1="714.35" x2="704" y2="469.4" stroke="#000" stroke-width="1.35" stroke-dasharray="5.0,2.35"/>
<line x1="505.1" y1="469.5" x2="902.9" y2="469.5" stroke="#000" stroke-opacity="0.95" stroke-width="1.0"/>
<line x1="505.1" y1="714.5" x2="902.9" y2="714.5" stroke="#000" stroke-opacity="0.6" stroke-width="1.0"/>
<line x1="505.6" y1="469.9" x2="505.6" y2="713.85" stroke="#000" stroke-opacity="0.75" stroke-width="1.05"/>
<line x1="902.4" y1="469.9" x2="902.4" y2="713.85" stroke="#000" stroke-opacity="1.0" stroke-width="1.05"/>
<polyline clip-path="url(#c4)" points="559.71,531.05 595.78,566.56 631.85,654.54 667.93,714.35 704,714.35 740.07,714.35 776.15,714.35 812.22,714.35 848.29,714.35 884.36,714.35" fill="none" stroke="#000" stroke-opacity="0.4" stroke-width="4.8" stroke-linejoin="round" stroke-linecap="butt"/>
<line x1="502" y1="714.5" x2="505.6" y2="714.5" stroke="#111" stroke-width="1.0"/>
<text x="491.27" y="719" font-family="Liberation Sans, sans-serif" font-size="14.8" textLength="7.97" lengthAdjust="spacingAndGlyphs">0</text>
<line x1="502" y1="673.5" x2="505.6" y2="673.5" stroke="#111" stroke-width="1.0"/>
<text x="491.24" y="678.17" font-family="Liberation Sans, sans-serif" font-size="14.8" textLength="7.65" lengthAdjust="spacingAndGlyphs">2</text>
<line x1="502" y1="632.5" x2="505.6" y2="632.5" stroke="#111" stroke-width="1.0"/>
<text x="491.26" y="637.35" font-family="Liberation Sans, sans-serif" font-size="14.8" textLength="7.97" lengthAdjust="spacingAndGlyphs">4</text>
<line x1="502" y1="591.5" x2="505.6" y2="591.5" stroke="#111" stroke-width="1.0"/>
<text x="491.13" y="596.52" font-family="Liberation Sans, sans-serif" font-size="14.8" textLength="8.24" lengthAdjust="spacingAndGlyphs">6</text>
<line x1="502" y1="551.5" x2="505.6" y2="551.5" stroke="#111" stroke-width="1.0"/>
<text x="491.23" y="555.7" font-family="Liberation Sans, sans-serif" font-size="14.8" textLength="8.03" lengthAdjust="spacingAndGlyphs">8</text>
<line x1="502" y1="510.5" x2="505.6" y2="510.5" stroke="#111" stroke-width="1.0"/>
<text x="482.4" y="514.88" font-family="Liberation Sans, sans-serif" font-size="14.8" textLength="16.87" lengthAdjust="spacingAndGlyphs">10</text>
<line x1="502" y1="469.5" x2="505.6" y2="469.5" stroke="#111" stroke-width="1.0"/>
<text x="482.42" y="474.05" font-family="Liberation Sans, sans-serif" font-size="14.8" textLength="16.52" lengthAdjust="spacingAndGlyphs">12</text>
<line x1="523.64" y1="714.35" x2="523.64" y2="717.95" stroke="#111" stroke-width="1.05"/>
<text x="516.51" y="732.8" font-family="Liberation Sans, sans-serif" font-size="14.8" textLength="7.65" lengthAdjust="spacingAndGlyphs">2</text>
<text x="525.33" y="727.65" font-family="Liberation Sans, sans-serif" font-size="10.4" textLength="5.51" lengthAdjust="spacingAndGlyphs">0</text>
<line x1="559.71" y1="714.35" x2="559.71" y2="717.95" stroke="#111" stroke-width="1.05"/>
<text x="552.58" y="732.8" font-family="Liberation Sans, sans-serif" font-size="14.8" textLength="7.65" lengthAdjust="spacingAndGlyphs">2</text>
<text x="561.51" y="727.65" font-family="Liberation Sans, sans-serif" font-size="10.4" textLength="5.22" lengthAdjust="spacingAndGlyphs">1</text>
<line x1="595.78" y1="714.35" x2="595.78" y2="717.95" stroke="#111" stroke-width="1.05"/>
<text x="588.65" y="732.8" font-family="Liberation Sans, sans-serif" font-size="14.8" textLength="7.65" lengthAdjust="spacingAndGlyphs">2</text>
<text x="597.46" y="727.65" font-family="Liberation Sans, sans-serif" font-size="10.4" textLength="5.28" lengthAdjust="spacingAndGlyphs">2</text>
<line x1="631.85" y1="714.35" x2="631.85" y2="717.95" stroke="#111" stroke-width="1.05"/>
<text x="624.73" y="732.8" font-family="Liberation Sans, sans-serif" font-size="14.8" textLength="7.65" lengthAdjust="spacingAndGlyphs">2</text>
<text x="633.67" y="727.65" font-family="Liberation Sans, sans-serif" font-size="10.4" textLength="5.28" lengthAdjust="spacingAndGlyphs">3</text>
<line x1="667.93" y1="714.35" x2="667.93" y2="717.95" stroke="#111" stroke-width="1.05"/>
<text x="660.8" y="732.8" font-family="Liberation Sans, sans-serif" font-size="14.8" textLength="7.65" lengthAdjust="spacingAndGlyphs">2</text>
<text x="669.61" y="727.65" font-family="Liberation Sans, sans-serif" font-size="10.4" textLength="5.51" lengthAdjust="spacingAndGlyphs">4</text>
<line x1="704" y1="714.35" x2="704" y2="717.95" stroke="#111" stroke-width="1.05"/>
<text x="696.87" y="732.8" font-family="Liberation Sans, sans-serif" font-size="14.8" textLength="7.65" lengthAdjust="spacingAndGlyphs">2</text>
<text x="705.81" y="727.65" font-family="Liberation Sans, sans-serif" font-size="10.4" textLength="5.18" lengthAdjust="spacingAndGlyphs">5</text>
<line x1="740.07" y1="714.35" x2="740.07" y2="717.95" stroke="#111" stroke-width="1.05"/>
<text x="732.95" y="732.8" font-family="Liberation Sans, sans-serif" font-size="14.8" textLength="7.65" lengthAdjust="spacingAndGlyphs">2</text>
<text x="741.67" y="727.65" font-family="Liberation Sans, sans-serif" font-size="10.4" textLength="5.7" lengthAdjust="spacingAndGlyphs">6</text>
<line x1="776.15" y1="714.35" x2="776.15" y2="717.95" stroke="#111" stroke-width="1.05"/>
<text x="769.02" y="732.8" font-family="Liberation Sans, sans-serif" font-size="14.8" textLength="7.65" lengthAdjust="spacingAndGlyphs">2</text>
<text x="777.89" y="727.65" font-family="Liberation Sans, sans-serif" font-size="10.4" textLength="5.37" lengthAdjust="spacingAndGlyphs">7</text>
<line x1="812.22" y1="714.35" x2="812.22" y2="717.95" stroke="#111" stroke-width="1.05"/>
<text x="805.09" y="732.8" font-family="Liberation Sans, sans-serif" font-size="14.8" textLength="7.65" lengthAdjust="spacingAndGlyphs">2</text>
<text x="813.89" y="727.65" font-family="Liberation Sans, sans-serif" font-size="10.4" textLength="5.55" lengthAdjust="spacingAndGlyphs">8</text>
<line x1="848.29" y1="714.35" x2="848.29" y2="717.95" stroke="#111" stroke-width="1.05"/>
<text x="841.16" y="732.8" font-family="Liberation Sans, sans-serif" font-size="14.8" textLength="7.65" lengthAdjust="spacingAndGlyphs">2</text>
<text x="849.86" y="727.65" font-family="Liberation Sans, sans-serif" font-size="10.4" textLength="5.68" lengthAdjust="spacingAndGlyphs">9</text>
<line x1="884.36" y1="714.35" x2="884.36" y2="717.95" stroke="#111" stroke-width="1.05"/>
<text x="874.12" y="732.8" font-family="Liberation Sans, sans-serif" font-size="14.8" textLength="7.65" lengthAdjust="spacingAndGlyphs">2</text>
<text x="882.96" y="727.65" font-family="Liberation Sans, sans-serif" font-size="10.4" textLength="11.74" lengthAdjust="spacingAndGlyphs">10</text>
<text x="678.55" y="463.5" font-family="Liberation Sans, sans-serif" font-size="17.2" font-style="italic" textLength="9.03" lengthAdjust="spacingAndGlyphs">d</text>
<text x="692.05" y="463.5" font-family="Liberation Sans, sans-serif" font-size="17.2" textLength="12.5" lengthAdjust="spacingAndGlyphs">=</text>
<text x="709.52" y="463.5" font-family="Liberation Sans, sans-serif" font-size="17.2" textLength="20.19" lengthAdjust="spacingAndGlyphs">10</text>
<text x="660.78" y="750.75" font-family="Liberation Sans, sans-serif" font-size="14.4" textLength="85.08" lengthAdjust="spacingAndGlyphs">Query Index</text>
<clipPath id="c5"><rect x="940.8" y="469.4" width="396.7" height="244.95"/></clipPath>
<line x1="940.8" y1="663.5" x2="1337.5" y2="663.5" stroke="#b0b0b0" stroke-opacity="0.3" stroke-width="0.9" stroke-dasharray="2.8,1.1"/>
<line x1="940.8" y1="612.5" x2="1337.5" y2="612.5" stroke="#b0b0b0" stroke-opacity="0.3" stroke-width="0.9" stroke-dasharray="2.8,1.1"/>
<line x1="940.8" y1="561.5" x2="1337.5" y2="561.5" stroke="#b0b0b0" stroke-opacity="0.3" stroke-width="0.9" stroke-dasharray="2.8,1.1"/>
<line x1="940.8" y1="510.5" x2="1337.5" y2="510.5" stroke="#b0b0b0" stroke-opacity="0.3" stroke-width="0.9" stroke-dasharray="2.8,1.1"/>
<g clip-path="url(#c5)">
<polyline points="958.83,514.82 994.9,517.37 1030.96,534.52 1067.02,561.87 1103.09,602.69 1139.15,631.68 1175.21,649.34 1211.28,649.34 1247.34,649.34 1283.4,650.36 1319.47,650.77" fill="none" stroke="#1f77b4" stroke-opacity="0.85" stroke-width="1.35" stroke-linejoin="round"/>
<g fill="#1f77b4" fill-opacity="0.75" stroke="#1f77b4" stroke-opacity="0.75" stroke-width="1">
<circle cx="958.8" cy="514.8" r="2.8"/>
<circle cx="994.9" cy="517.4" r="2.8"/>
<circle cx="1031" cy="534.5" r="2.8"/>
<circle cx="1067" cy="561.9" r="2.8"/>
<circle cx="1103.1" cy="602.7" r="2.8"/>
<circle cx="1139.2" cy="631.7" r="2.8"/>
<circle cx="1175.2" cy="649.3" r="2.8"/>
<circle cx="1211.3" cy="649.3" r="2.8"/>
<circle cx="1247.3" cy="649.3" r="2.8"/>
<circle cx="1283.4" cy="650.4" r="2.8"/>
<circle cx="1319.5" cy="650.8" r="2.8"/>
</g>
<polyline points="958.83,514.82 994.9,517.37 1030.96,537.58 1067.02,571.46 1103.09,618.82 1139.15,667.71 1175.21,697.61 1211.28,690.98 1247.34,662.5 1283.4,635.86 1319.47,613.92" fill="none" stroke="#1f77b4" stroke-opacity="0.85" stroke-width="1.35" stroke-linejoin="round" stroke-dasharray="5.0,2.2"/>
<g fill="#1f77b4" fill-opacity="0.75" stroke="#1f77b4" stroke-opacity="0.75" stroke-width="1">
<polygon points="956.2,512.2 961.5,512.2 961.5,517.5 956.2,517.5"/>
<polygon points="992.2,514.7 997.6,514.7 997.6,520 992.2,520"/>
<polygon points="1028.3,534.9 1033.6,534.9 1033.6,540.2 1028.3,540.2"/>
<polygon points="1064.4,568.8 1069.7,568.8 1069.7,574.1 1064.4,574.1"/>
<polygon points="1100.4,616.2 1105.7,616.2 1105.7,621.5 1100.4,621.5"/>
<polygon points="1136.5,665 1141.8,665 1141.8,670.4 1136.5,670.4"/>
<polygon points="1172.6,695 1177.9,695 1177.9,700.3 1172.6,700.3"/>
<polygon points="1208.6,688.3 1213.9,688.3 1213.9,693.6 1208.6,693.6"/>
<polygon points="1244.7,659.8 1250,659.8 1250,665.2 1244.7,665.2"/>
<polygon points="1280.7,633.2 1286.1,633.2 1286.1,638.5 1280.7,638.5"/>
<polygon points="1316.8,611.3 1322.1,611.3 1322.1,616.6 1316.8,616.6"/>
</g>
<polyline points="958.83,514.82 994.9,517.37 1030.96,537.58 1067.02,573.5 1103.09,620.45 1139.15,665.36 1175.21,695.77 1211.28,697 1247.34,684.96 1283.4,664.24 1319.47,645.46" fill="none" stroke="#1f77b4" stroke-opacity="0.85" stroke-width="1.35" stroke-linejoin="round" stroke-dasharray="1.35,2.2"/>
<g fill="#1f77b4" fill-opacity="0.75" stroke="#1f77b4" stroke-opacity="0.75" stroke-width="1">
<polygon points="958.8,512 961.6,517.5 956,517.5"/>
<polygon points="994.9,514.6 997.7,520 992.1,520"/>
<polygon points="1031,534.8 1033.8,540.2 1028.2,540.2"/>
<polygon points="1067,570.7 1069.8,576.2 1064.2,576.2"/>
<polygon points="1103.1,617.7 1105.9,623.1 1100.3,623.1"/>
<polygon points="1139.2,662.6 1142,668 1136.4,668"/>
<polygon points="1175.2,693 1178,698.4 1172.4,698.4"/>
<polygon points="1211.3,694.2 1214.1,699.7 1208.5,699.7"/>
<polygon points="1247.3,682.2 1250.1,687.6 1244.5,687.6"/>
<polygon points="1283.4,661.4 1286.2,666.9 1280.6,666.9"/>
<polygon points="1319.5,642.7 1322.3,648.1 1316.7,648.1"/>
</g>
<polyline points="958.83,513.49 994.9,514.82 1030.96,526.56 1067.02,535.84 1103.09,552.79 1139.15,567.07 1175.21,576.87 1211.28,567.58 1247.34,559.73 1283.4,569.12 1319.47,561.26" fill="none" stroke="#ff7f0e" stroke-opacity="0.85" stroke-width="1.35" stroke-linejoin="round"/>
<g fill="#ff7f0e" fill-opacity="0.75" stroke="#ff7f0e" stroke-opacity="0.75" stroke-width="1">
<polygon points="958.8,509.6 962.8,513.5 958.8,517.4 954.9,513.5"/>
<polygon points="994.9,510.9 998.8,514.8 994.9,518.7 991,514.8"/>
<polygon points="1031,522.6 1034.9,526.6 1031,530.5 1027,526.6"/>
<polygon points="1067,531.9 1070.9,535.8 1067,539.8 1063.1,535.8"/>
<polygon points="1103.1,548.9 1107,552.8 1103.1,556.7 1099.2,552.8"/>
<polygon points="1139.2,563.2 1143.1,567.1 1139.2,571 1135.2,567.1"/>
<polygon points="1175.2,573 1179.1,576.9 1175.2,580.8 1171.3,576.9"/>
<polygon points="1211.3,563.7 1215.2,567.6 1211.3,571.5 1207.4,567.6"/>
<polygon points="1247.3,555.8 1251.3,559.7 1247.3,563.6 1243.4,559.7"/>
<polygon points="1283.4,565.2 1287.3,569.1 1283.4,573 1279.5,569.1"/>
<polygon points="1319.5,557.3 1323.4,561.3 1319.5,565.2 1315.5,561.3"/>
</g>
<polyline points="958.83,514.31 994.9,509.61 1030.96,522.68 1067.02,526.15 1103.09,544.42 1139.15,545.84 1175.21,566.67 1211.28,570.85 1247.34,553.81 1283.4,569.73 1319.47,564.93" fill="none" stroke="#ff7f0e" stroke-opacity="0.85" stroke-width="1.35" stroke-linejoin="round" stroke-dasharray="5.0,2.2"/>
<g fill="#ff7f0e" fill-opacity="0.75" stroke="#ff7f0e" stroke-opacity="0.75" stroke-width="1">
<polygon points="958.8,517.1 961.6,511.6 956,511.6"/>
<polygon points="994.9,512.4 997.7,507 992.1,507"/>
<polygon points="1031,525.5 1033.8,520 1028.2,520"/>
<polygon points="1067,528.9 1069.8,523.5 1064.2,523.5"/>
<polygon points="1103.1,547.2 1105.9,541.8 1100.3,541.8"/>
<polygon points="1139.2,548.6 1142,543.2 1136.4,543.2"/>
<polygon points="1175.2,569.5 1178,564 1172.4,564"/>
<polygon points="1211.3,573.7 1214.1,568.2 1208.5,568.2"/>
<polygon points="1247.3,556.6 1250.1,551.1 1244.5,551.1"/>
<polygon points="1283.4,572.5 1286.2,567.1 1280.6,567.1"/>
<polygon points="1319.5,567.7 1322.3,562.3 1316.7,562.3"/>
</g>
<polyline points="958.83,514.82 994.9,517.37 1030.96,537.58 1067.02,569.93 1103.09,612.29 1139.15,659.64 1175.21,-102.15 1211.28,-102.15 1247.34,-102.15 1283.4,-102.15 1319.47,-102.15" fill="none" stroke="#2ca02c" stroke-opacity="0.85" stroke-width="1.35" stroke-linejoin="round"/>
<g fill="#2ca02c" fill-opacity="0.75" stroke="#2ca02c" stroke-opacity="0.75" stroke-width="1">
<polygon points="956,514.8 961.5,517.6 961.5,512"/>
<polygon points="992.1,517.4 997.6,520.2 997.6,514.6"/>
<polygon points="1028.2,537.6 1033.6,540.4 1033.6,534.8"/>
<polygon points="1064.2,569.9 1069.7,572.7 1069.7,567.1"/>
<polygon points="1100.3,612.3 1105.7,615.1 1105.7,609.5"/>
<polygon points="1136.4,659.6 1141.8,662.4 1141.8,656.8"/>
</g>
<polyline points="958.83,514.82 994.9,517.37 1030.96,537.58 1067.02,581.67 1103.09,657.2 1139.15,702.1 1175.21,672.5 1211.28,595.35 1247.34,497.26 1283.4,486.65 1319.47,523.9" fill="none" stroke="#2ca02c" stroke-opacity="0.85" stroke-width="1.35" stroke-linejoin="round" stroke-dasharray="5.0,2.2"/>
<g fill="#2ca02c" fill-opacity="0.75" stroke="#2ca02c" stroke-opacity="0.75" stroke-width="1">
<polygon points="961.6,514.8 956.2,517.6 956.2,512"/>
<polygon points="997.7,517.4 992.2,520.2 992.2,514.6"/>
<polygon points="1033.8,537.6 1028.3,540.4 1028.3,534.8"/>
<polygon points="1069.8,581.7 1064.4,584.5 1064.4,578.9"/>
<polygon points="1105.9,657.2 1100.4,660 1100.4,654.4"/>
<polygon points="1142,702.1 1136.5,704.9 1136.5,699.3"/>
<polygon points="1178,672.5 1172.6,675.3 1172.6,669.7"/>
<polygon points="1214.1,595.3 1208.6,598.1 1208.6,592.5"/>
<polygon points="1250.1,497.3 1244.7,500.1 1244.7,494.5"/>
<polygon points="1286.2,486.6 1280.7,489.4 1280.7,483.8"/>
<polygon points="1322.3,523.9 1316.8,526.7 1316.8,521.1"/>
</g>
<polyline points="958.83,514.82 994.9,517.37 1030.96,537.58 1067.02,579.63 1103.09,648.01 1139.15,706.19 1175.21,616.88 1211.28,534.62 1247.34,503.69 1283.4,503.69 1319.47,483.38" fill="none" stroke="#2ca02c" stroke-opacity="0.85" stroke-width="1.35" stroke-linejoin="round" stroke-dasharray="8.6,2.2,1.35,2.2"/>
<g fill="#2ca02c" fill-opacity="0.75" stroke="#2ca02c" stroke-opacity="0.75" stroke-width="1">
<polygon points="958.8,512 961.5,513.9 960.5,517.1 957.2,517.1 956.1,513.9"/>
<polygon points="994.9,514.5 997.6,516.5 996.6,519.7 993.2,519.7 992.2,516.5"/>
<polygon points="1031,534.7 1033.7,536.7 1032.6,539.9 1029.3,539.9 1028.2,536.7"/>
<polygon points="1067,576.8 1069.7,578.7 1068.7,581.9 1065.3,581.9 1064.3,578.7"/>
<polygon points="1103.1,645.2 1105.8,647.1 1104.8,650.3 1101.4,650.3 1100.4,647.1"/>
<polygon points="1139.2,703.3 1141.9,705.3 1140.8,708.5 1137.5,708.5 1136.4,705.3"/>
<polygon points="1175.2,614 1177.9,616 1176.9,619.2 1173.5,619.2 1172.5,616"/>
<polygon points="1211.3,531.8 1214,533.7 1213,536.9 1209.6,536.9 1208.6,533.7"/>
<polygon points="1247.3,500.8 1250.1,502.8 1249,506 1245.7,506 1244.6,502.8"/>
<polygon points="1283.4,500.8 1286.1,502.8 1285.1,506 1281.7,506 1280.7,502.8"/>
<polygon points="1319.5,480.5 1322.2,482.5 1321.1,485.7 1317.8,485.7 1316.8,482.5"/>
</g>
<polyline points="958.83,514.82 994.9,517.37 1030.96,537.58 1067.02,581.67 1103.09,658.22 1139.15,711.29 1175.21,688.02 1211.28,448.99 1247.34,408.16 1283.4,408.16 1319.47,408.16" fill="none" stroke="#2ca02c" stroke-opacity="0.85" stroke-width="1.35" stroke-linejoin="round" stroke-dasharray="1.35,2.2"/>
<g fill="#2ca02c" fill-opacity="0.75" stroke="#2ca02c" stroke-opacity="0.75" stroke-width="1">
<polygon points="960.4,512.2 961.4,513.3 959.9,514.8 961.4,516.4 960.4,517.4 958.8,515.8 957.3,517.4 956.2,516.4 957.8,514.8 956.2,513.3 957.3,512.2 958.8,513.8"/>
<polygon points="996.5,514.8 997.5,515.8 995.9,517.4 997.5,518.9 996.5,520 994.9,518.4 993.3,520 992.3,518.9 993.9,517.4 992.3,515.8 993.3,514.8 994.9,516.3"/>
<polygon points="1032.5,535 1033.6,536 1032,537.6 1033.6,539.1 1032.5,540.2 1031,538.6 1029.4,540.2 1028.4,539.1 1029.9,537.6 1028.4,536 1029.4,535 1031,536.5"/>
<polygon points="1068.6,579.1 1069.6,580.1 1068.1,581.7 1069.6,583.2 1068.6,584.3 1067,582.7 1065.5,584.3 1064.4,583.2 1066,581.7 1064.4,580.1 1065.5,579.1 1067,580.6"/>
<polygon points="1104.7,655.6 1105.7,656.7 1104.1,658.2 1105.7,659.8 1104.7,660.8 1103.1,659.2 1101.5,660.8 1100.5,659.8 1102.1,658.2 1100.5,656.7 1101.5,655.6 1103.1,657.2"/>
<polygon points="1140.7,708.7 1141.7,709.7 1140.2,711.3 1141.7,712.9 1140.7,713.9 1139.2,712.3 1137.6,713.9 1136.6,712.9 1138.1,711.3 1136.6,709.7 1137.6,708.7 1139.2,710.3"/>
<polygon points="1176.8,685.4 1177.8,686.5 1176.2,688 1177.8,689.6 1176.8,690.6 1175.2,689 1173.6,690.6 1172.6,689.6 1174.2,688 1172.6,686.5 1173.6,685.4 1175.2,687"/>
</g>
<polyline points="958.83,514.82 994.9,517.37 1030.96,537.58 1067.02,582.28 1103.09,658.93 1139.15,711.59 1175.21,700.88 1211.28,697 1247.34,697 1283.4,695.57 1319.47,695.57" fill="none" stroke="#9467bd" stroke-opacity="0.85" stroke-width="1.35" stroke-linejoin="round"/>
<g fill="#9467bd" fill-opacity="0.75" stroke="#9467bd" stroke-opacity="0.75" stroke-width="1">
<polygon points="957.9,512 959.8,512 959.8,513.9 961.6,513.9 961.6,515.8 959.8,515.8 959.8,517.6 957.9,517.6 957.9,515.8 956,515.8 956,513.9 957.9,513.9"/>
<polygon points="993.9,514.6 995.8,514.6 995.8,516.4 997.7,516.4 997.7,518.3 995.8,518.3 995.8,520.2 993.9,520.2 993.9,518.3 992.1,518.3 992.1,516.4 993.9,516.4"/>
<polygon points="1030,534.8 1031.9,534.8 1031.9,536.6 1033.8,536.6 1033.8,538.5 1031.9,538.5 1031.9,540.4 1030,540.4 1030,538.5 1028.2,538.5 1028.2,536.6 1030,536.6"/>
<polygon points="1066.1,579.5 1068,579.5 1068,581.3 1069.8,581.3 1069.8,583.2 1068,583.2 1068,585.1 1066.1,585.1 1066.1,583.2 1064.2,583.2 1064.2,581.3 1066.1,581.3"/>
<polygon points="1102.1,656.1 1104,656.1 1104,658 1105.9,658 1105.9,659.9 1104,659.9 1104,661.7 1102.1,661.7 1102.1,659.9 1100.3,659.9 1100.3,658 1102.1,658"/>
<polygon points="1138.2,708.8 1140.1,708.8 1140.1,710.6 1142,710.6 1142,712.5 1140.1,712.5 1140.1,714.4 1138.2,714.4 1138.2,712.5 1136.4,712.5 1136.4,710.6 1138.2,710.6"/>
<polygon points="1174.3,698.1 1176.2,698.1 1176.2,699.9 1178,699.9 1178,701.8 1176.2,701.8 1176.2,703.7 1174.3,703.7 1174.3,701.8 1172.4,701.8 1172.4,699.9 1174.3,699.9"/>
<polygon points="1210.3,694.2 1212.2,694.2 1212.2,696 1214.1,696 1214.1,698 1212.2,698 1212.2,699.8 1210.3,699.8 1210.3,698 1208.5,698 1208.5,696 1210.3,696"/>
<polygon points="1246.4,694.2 1248.3,694.2 1248.3,696 1250.1,696 1250.1,698 1248.3,698 1248.3,699.8 1246.4,699.8 1246.4,698 1244.5,698 1244.5,696 1246.4,696"/>
<polygon points="1282.5,692.8 1284.4,692.8 1284.4,694.6 1286.2,694.6 1286.2,696.5 1284.4,696.5 1284.4,698.4 1282.5,698.4 1282.5,696.5 1280.6,696.5 1280.6,694.6 1282.5,694.6"/>
<polygon points="1318.5,692.8 1320.4,692.8 1320.4,694.6 1322.3,694.6 1322.3,696.5 1320.4,696.5 1320.4,698.4 1318.5,698.4 1318.5,696.5 1316.7,696.5 1316.7,694.6 1318.5,694.6"/>
</g>
<polyline points="958.83,514.82 994.9,517.37 1030.96,537.58 1067.02,577.18 1103.09,638.52 1139.15,689.55 1175.21,699.04 1211.28,661.99 1247.34,643.72 1283.4,643.72 1319.47,642.91" fill="none" stroke="#9467bd" stroke-opacity="0.85" stroke-width="1.35" stroke-linejoin="round" stroke-dasharray="5.0,2.2"/>
<g fill="#9467bd" fill-opacity="0.75" stroke="#9467bd" stroke-opacity="0.75" stroke-width="1">
<polygon points="958.8,512 961.6,517.5 956,517.5"/>
<polygon points="994.9,514.6 997.7,520 992.1,520"/>
<polygon points="1031,534.8 1033.8,540.2 1028.2,540.2"/>
<polygon points="1067,574.4 1069.8,579.8 1064.2,579.8"/>
<polygon points="1103.1,635.7 1105.9,641.2 1100.3,641.2"/>
<polygon points="1139.2,686.7 1142,692.2 1136.4,692.2"/>
<polygon points="1175.2,696.2 1178,701.7 1172.4,701.7"/>
<polygon points="1211.3,659.2 1214.1,664.7 1208.5,664.7"/>
<polygon points="1247.3,640.9 1250.1,646.4 1244.5,646.4"/>
<polygon points="1283.4,640.9 1286.2,646.4 1280.6,646.4"/>
<polygon points="1319.5,640.1 1322.3,645.6 1316.7,645.6"/>
</g>
<polyline points="958.83,514.82 994.9,517.37 1030.96,537.58 1067.02,582.28 1103.09,658.93 1139.15,712.31 1175.21,101.97 1211.28,101.97 1247.34,101.97 1283.4,101.97 1319.47,101.97" fill="none" stroke="#d62728" stroke-opacity="0.85" stroke-width="1.35" stroke-linejoin="round"/>
<g fill="#d62728" fill-opacity="0.75" stroke="#d62728" stroke-opacity="0.75" stroke-width="1">
<polygon points="958.8,511.6 959.6,513.7 961.9,513.8 960.1,515.2 960.7,517.4 958.8,516.2 956.9,517.4 957.5,515.2 955.8,513.8 958,513.7"/>
<polygon points="994.9,514.1 995.7,516.3 998,516.4 996.2,517.8 996.8,520 994.9,518.7 993,520 993.6,517.8 991.8,516.4 994.1,516.3"/>
<polygon points="1031,534.4 1031.8,536.5 1034,536.6 1032.2,538 1032.9,540.2 1031,538.9 1029.1,540.2 1029.7,538 1027.9,536.6 1030.2,536.5"/>
<polygon points="1067,579.1 1067.8,581.2 1070.1,581.3 1068.3,582.7 1068.9,584.9 1067,583.6 1065.1,584.9 1065.7,582.7 1064,581.3 1066.2,581.2"/>
<polygon points="1103.1,655.7 1103.9,657.8 1106.1,657.9 1104.4,659.3 1105,661.5 1103.1,660.3 1101.2,661.5 1101.8,659.3 1100,657.9 1102.3,657.8"/>
<polygon points="1139.2,709.1 1139.9,711.2 1142.2,711.3 1140.4,712.7 1141,714.9 1139.2,713.7 1137.3,714.9 1137.9,712.7 1136.1,711.3 1138.4,711.2"/>
</g>
<polyline points="958.83,514.82 994.9,517.37 1030.96,537.58 1067.02,582.28 1103.09,658.93 1139.15,712.31 1175.21,535.74 1211.28,523.9 1247.34,501.55 1283.4,509 1319.47,505.84" fill="none" stroke="#d62728" stroke-opacity="0.85" stroke-width="1.35" stroke-linejoin="round" stroke-dasharray="5.0,2.2"/>
<g fill="#d62728" fill-opacity="0.75" stroke="#d62728" stroke-opacity="0.75" stroke-width="1">
<polygon points="958.8,512 961.3,513.4 961.3,516.2 958.8,517.7 956.4,516.2 956.4,513.4"/>
<polygon points="994.9,514.5 997.4,515.9 997.4,518.8 994.9,520.2 992.4,518.8 992.4,515.9"/>
<polygon points="1031,534.7 1033.4,536.1 1033.4,539 1031,540.4 1028.5,539 1028.5,536.1"/>
<polygon points="1067,579.4 1069.5,580.9 1069.5,583.7 1067,585.1 1064.5,583.7 1064.5,580.9"/>
<polygon points="1103.1,656.1 1105.6,657.5 1105.6,660.4 1103.1,661.8 1100.6,660.4 1100.6,657.5"/>
<polygon points="1139.2,709.5 1141.6,710.9 1141.6,713.7 1139.2,715.2 1136.7,713.7 1136.7,710.9"/>
<polygon points="1175.2,532.9 1177.7,534.3 1177.7,537.2 1175.2,538.6 1172.7,537.2 1172.7,534.3"/>
<polygon points="1211.3,521 1213.8,522.5 1213.8,525.3 1211.3,526.8 1208.8,525.3 1208.8,522.5"/>
<polygon points="1247.3,498.7 1249.8,500.1 1249.8,503 1247.3,504.4 1244.9,503 1244.9,500.1"/>
<polygon points="1283.4,506.1 1285.9,507.6 1285.9,510.4 1283.4,511.9 1280.9,510.4 1280.9,507.6"/>
<polygon points="1319.5,503 1321.9,504.4 1321.9,507.3 1319.5,508.7 1317,507.3 1317,504.4"/>
</g>
</g>
<line x1="1139.15" y1="714.35" x2="1139.15" y2="469.4" stroke="#000" stroke-width="1.35" stroke-dasharray="5.0,2.35"/>
<line x1="940.3" y1="469.5" x2="1338" y2="469.5" stroke="#000" stroke-opacity="0.95" stroke-width="1.0"/>
<line x1="940.3" y1="714.5" x2="1338" y2="714.5" stroke="#000" stroke-opacity="0.6" stroke-width="1.0"/>
<line x1="940.8" y1="469.9" x2="940.8" y2="713.85" stroke="#000" stroke-opacity="0.5" stroke-width="1.05"/>
<line x1="1337.5" y1="469.9" x2="1337.5" y2="713.85" stroke="#000" stroke-opacity="1.0" stroke-width="1.05"/>
<polyline clip-path="url(#c5)" points="994.9,517.37 1030.96,537.58 1067.02,582.28 1103.09,658.93 1139.15,714.35 1175.21,714.35 1211.28,714.35 1247.34,714.35 1283.4,714.35 1319.47,714.35" fill="none" stroke="#000" stroke-opacity="0.4" stroke-width="4.8" stroke-linejoin="round" stroke-linecap="butt"/>
<line x1="937.2" y1="714.5" x2="940.8" y2="714.5" stroke="#111" stroke-width="1.0"/>
<text x="926.47" y="719" font-family="Liberation Sans, sans-serif" font-size="14.8" textLength="7.97" lengthAdjust="spacingAndGlyphs">0</text>
<line x1="937.2" y1="663.5" x2="940.8" y2="663.5" stroke="#111" stroke-width="1.0"/>
<text x="926.64" y="667.97" font-family="Liberation Sans, sans-serif" font-size="14.8" textLength="7.51" lengthAdjust="spacingAndGlyphs">5</text>
<line x1="937.2" y1="612.5" x2="940.8" y2="612.5" stroke="#111" stroke-width="1.0"/>
<text x="917.6" y="616.94" font-family="Liberation Sans, sans-serif" font-size="14.8" textLength="16.87" lengthAdjust="spacingAndGlyphs">10</text>
<line x1="937.2" y1="561.5" x2="940.8" y2="561.5" stroke="#111" stroke-width="1.0"/>
<text x="917.61" y="565.91" font-family="Liberation Sans, sans-serif" font-size="14.8" textLength="16.59" lengthAdjust="spacingAndGlyphs">15</text>
<line x1="937.2" y1="510.5" x2="940.8" y2="510.5" stroke="#111" stroke-width="1.0"/>
<text x="917.47" y="514.88" font-family="Liberation Sans, sans-serif" font-size="14.8" textLength="17" lengthAdjust="spacingAndGlyphs">20</text>
<line x1="958.83" y1="714.35" x2="958.83" y2="717.95" stroke="#111" stroke-width="1.05"/>
<text x="951.7" y="732.8" font-family="Liberation Sans, sans-serif" font-size="14.8" textLength="7.65" lengthAdjust="spacingAndGlyphs">2</text>
<text x="960.53" y="727.65" font-family="Liberation Sans, sans-serif" font-size="10.4" textLength="5.51" lengthAdjust="spacingAndGlyphs">0</text>
<line x1="994.9" y1="714.35" x2="994.9" y2="717.95" stroke="#111" stroke-width="1.05"/>
<text x="987.77" y="732.8" font-family="Liberation Sans, sans-serif" font-size="14.8" textLength="7.65" lengthAdjust="spacingAndGlyphs">2</text>
<text x="996.69" y="727.65" font-family="Liberation Sans, sans-serif" font-size="10.4" textLength="5.22" lengthAdjust="spacingAndGlyphs">1</text>
<line x1="1030.96" y1="714.35" x2="1030.96" y2="717.95" stroke="#111" stroke-width="1.05"/>
<text x="1023.83" y="732.8" font-family="Liberation Sans, sans-serif" font-size="14.8" textLength="7.65" lengthAdjust="spacingAndGlyphs">2</text>
<text x="1032.63" y="727.65" font-family="Liberation Sans, sans-serif" font-size="10.4" textLength="5.28" lengthAdjust="spacingAndGlyphs">2</text>
<line x1="1067.02" y1="714.35" x2="1067.02" y2="717.95" stroke="#111" stroke-width="1.05"/>
<text x="1059.9" y="732.8" font-family="Liberation Sans, sans-serif" font-size="14.8" textLength="7.65" lengthAdjust="spacingAndGlyphs">2</text>
<text x="1068.84" y="727.65" font-family="Liberation Sans, sans-serif" font-size="10.4" textLength="5.28" lengthAdjust="spacingAndGlyphs">3</text>
<line x1="1103.09" y1="714.35" x2="1103.09" y2="717.95" stroke="#111" stroke-width="1.05"/>
<text x="1095.96" y="732.8" font-family="Liberation Sans, sans-serif" font-size="14.8" textLength="7.65" lengthAdjust="spacingAndGlyphs">2</text>
<text x="1104.77" y="727.65" font-family="Liberation Sans, sans-serif" font-size="10.4" textLength="5.51" lengthAdjust="spacingAndGlyphs">4</text>
<line x1="1139.15" y1="714.35" x2="1139.15" y2="717.95" stroke="#111" stroke-width="1.05"/>
<text x="1132.02" y="732.8" font-family="Liberation Sans, sans-serif" font-size="14.8" textLength="7.65" lengthAdjust="spacingAndGlyphs">2</text>
<text x="1140.96" y="727.65" font-family="Liberation Sans, sans-serif" font-size="10.4" textLength="5.18" lengthAdjust="spacingAndGlyphs">5</text>
<line x1="1175.21" y1="714.35" x2="1175.21" y2="717.95" stroke="#111" stroke-width="1.05"/>
<text x="1168.09" y="732.8" font-family="Liberation Sans, sans-serif" font-size="14.8" textLength="7.65" lengthAdjust="spacingAndGlyphs">2</text>
<text x="1176.81" y="727.65" font-family="Liberation Sans, sans-serif" font-size="10.4" textLength="5.7" lengthAdjust="spacingAndGlyphs">6</text>
<line x1="1211.28" y1="714.35" x2="1211.28" y2="717.95" stroke="#111" stroke-width="1.05"/>
<text x="1204.15" y="732.8" font-family="Liberation Sans, sans-serif" font-size="14.8" textLength="7.65" lengthAdjust="spacingAndGlyphs">2</text>
<text x="1213.02" y="727.65" font-family="Liberation Sans, sans-serif" font-size="10.4" textLength="5.37" lengthAdjust="spacingAndGlyphs">7</text>
<line x1="1247.34" y1="714.35" x2="1247.34" y2="717.95" stroke="#111" stroke-width="1.05"/>
<text x="1240.21" y="732.8" font-family="Liberation Sans, sans-serif" font-size="14.8" textLength="7.65" lengthAdjust="spacingAndGlyphs">2</text>
<text x="1249.01" y="727.65" font-family="Liberation Sans, sans-serif" font-size="10.4" textLength="5.55" lengthAdjust="spacingAndGlyphs">8</text>
<line x1="1283.4" y1="714.35" x2="1283.4" y2="717.95" stroke="#111" stroke-width="1.05"/>
<text x="1276.28" y="732.8" font-family="Liberation Sans, sans-serif" font-size="14.8" textLength="7.65" lengthAdjust="spacingAndGlyphs">2</text>
<text x="1284.97" y="727.65" font-family="Liberation Sans, sans-serif" font-size="10.4" textLength="5.68" lengthAdjust="spacingAndGlyphs">9</text>
<line x1="1319.47" y1="714.35" x2="1319.47" y2="717.95" stroke="#111" stroke-width="1.05"/>
<text x="1309.23" y="732.8" font-family="Liberation Sans, sans-serif" font-size="14.8" textLength="7.65" lengthAdjust="spacingAndGlyphs">2</text>
<text x="1318.06" y="727.65" font-family="Liberation Sans, sans-serif" font-size="10.4" textLength="11.74" lengthAdjust="spacingAndGlyphs">10</text>
<text x="1113.7" y="463.5" font-family="Liberation Sans, sans-serif" font-size="17.2" font-style="italic" textLength="9.03" lengthAdjust="spacingAndGlyphs">d</text>
<text x="1127.2" y="463.5" font-family="Liberation Sans, sans-serif" font-size="17.2" textLength="12.5" lengthAdjust="spacingAndGlyphs">=</text>
<text x="1145.17" y="463.5" font-family="Liberation Sans, sans-serif" font-size="17.2" textLength="19.68" lengthAdjust="spacingAndGlyphs">20</text>
<text x="1095.93" y="750.75" font-family="Liberation Sans, sans-serif" font-size="14.4" textLength="85.08" lengthAdjust="spacingAndGlyphs">Query Index</text>
<clipPath id="c6"><rect x="84.2" y="878.5" width="388.3" height="244.3"/></clipPath>
<line x1="84.2" y1="1073.5" x2="472.5" y2="1073.5" stroke="#b0b0b0" stroke-opacity="0.3" stroke-width="0.9" stroke-dasharray="2.8,1.1"/>
<line x1="84.2" y1="1025.5" x2="472.5" y2="1025.5" stroke="#b0b0b0" stroke-opacity="0.3" stroke-width="0.9" stroke-dasharray="2.8,1.1"/>
<line x1="84.2" y1="976.5" x2="472.5" y2="976.5" stroke="#b0b0b0" stroke-opacity="0.3" stroke-width="0.9" stroke-dasharray="2.8,1.1"/>
<line x1="84.2" y1="927.5" x2="472.5" y2="927.5" stroke="#b0b0b0" stroke-opacity="0.3" stroke-width="0.9" stroke-dasharray="2.8,1.1"/>
<g clip-path="url(#c6)">
<polyline points="101.85,1005.54 137.15,953.26 172.45,926.63 207.75,908.3 243.05,905.13 278.35,893.89 313.65,895.6 348.95,894.38 384.25,896.82 419.55,894.38 454.85,895.6" fill="none" stroke="#1f77b4" stroke-opacity="0.85" stroke-width="1.35" stroke-linejoin="round"/>
<g fill="#1f77b4" fill-opacity="0.75" stroke="#1f77b4" stroke-opacity="0.75" stroke-width="1">
<circle cx="101.9" cy="1005.5" r="2.8"/>
<circle cx="137.2" cy="953.3" r="2.8"/>
<circle cx="172.4" cy="926.6" r="2.8"/>
<circle cx="207.8" cy="908.3" r="2.8"/>
<circle cx="243.1" cy="905.1" r="2.8"/>
<circle cx="278.4" cy="893.9" r="2.8"/>
<circle cx="313.7" cy="895.6" r="2.8"/>
<circle cx="348.9" cy="894.4" r="2.8"/>
<circle cx="384.2" cy="896.8" r="2.8"/>
<circle cx="419.5" cy="894.4" r="2.8"/>
<circle cx="454.9" cy="895.6" r="2.8"/>
</g>
<polyline points="101.85,1000.65 137.15,953.26 172.45,926.63 207.75,908.3 243.05,905.13 278.35,893.89 313.65,895.6 348.95,893.16 384.25,894.38 419.55,893.16 454.85,894.38" fill="none" stroke="#1f77b4" stroke-opacity="0.85" stroke-width="1.35" stroke-linejoin="round" stroke-dasharray="5.0,2.2"/>
<g fill="#1f77b4" fill-opacity="0.75" stroke="#1f77b4" stroke-opacity="0.75" stroke-width="1">
<polygon points="99.2,998 104.5,998 104.5,1003.3 99.2,1003.3"/>
<polygon points="134.5,950.6 139.8,950.6 139.8,955.9 134.5,955.9"/>
<polygon points="169.8,924 175.1,924 175.1,929.3 169.8,929.3"/>
<polygon points="205.1,905.6 210.4,905.6 210.4,911 205.1,911"/>
<polygon points="240.4,902.5 245.7,902.5 245.7,907.8 240.4,907.8"/>
<polygon points="275.7,891.2 281,891.2 281,896.6 275.7,896.6"/>
<polygon points="311,892.9 316.3,892.9 316.3,898.3 311,898.3"/>
<polygon points="346.3,890.5 351.6,890.5 351.6,895.8 346.3,895.8"/>
<polygon points="381.6,891.7 386.9,891.7 386.9,897 381.6,897"/>
<polygon points="416.9,890.5 422.2,890.5 422.2,895.8 416.9,895.8"/>
<polygon points="452.2,891.7 457.5,891.7 457.5,897 452.2,897"/>
</g>
<polyline points="101.85,1000.65 137.15,953.26 172.45,926.63 207.75,908.3 243.05,905.13 278.35,893.89 313.65,895.6 348.95,894.38 384.25,895.6 419.55,894.38 454.85,895.6" fill="none" stroke="#1f77b4" stroke-opacity="0.85" stroke-width="1.35" stroke-linejoin="round" stroke-dasharray="1.35,2.2"/>
<g fill="#1f77b4" fill-opacity="0.75" stroke="#1f77b4" stroke-opacity="0.75" stroke-width="1">
<polygon points="101.9,997.9 104.7,1003.3 99.1,1003.3"/>
<polygon points="137.2,950.5 140,955.9 134.3,955.9"/>
<polygon points="172.4,923.8 175.2,929.3 169.6,929.3"/>
<polygon points="207.8,905.5 210.6,911 204.9,911"/>
<polygon points="243.1,902.3 245.9,907.8 240.2,907.8"/>
<polygon points="278.4,891.1 281.2,896.6 275.6,896.6"/>
<polygon points="313.7,892.8 316.5,898.3 310.9,898.3"/>
<polygon points="348.9,891.6 351.8,897 346.1,897"/>
<polygon points="384.2,892.8 387.1,898.3 381.4,898.3"/>
<polygon points="419.5,891.6 422.3,897 416.7,897"/>
<polygon points="454.9,892.8 457.7,898.3 452.1,898.3"/>
</g>
<polyline points="101.85,993.32 137.15,951.79 172.45,927.36 207.75,909.04 243.05,905.37 278.35,895.6 313.65,896.82 348.95,899.27 384.25,900.49 419.55,899.27 454.85,900.49" fill="none" stroke="#ff7f0e" stroke-opacity="0.85" stroke-width="1.35" stroke-linejoin="round"/>
<g fill="#ff7f0e" fill-opacity="0.75" stroke="#ff7f0e" stroke-opacity="0.75" stroke-width="1">
<polygon points="101.9,989.4 105.8,993.3 101.9,997.2 97.9,993.3"/>
<polygon points="137.2,947.9 141.1,951.8 137.2,955.7 133.2,951.8"/>
<polygon points="172.4,923.4 176.4,927.4 172.4,931.3 168.5,927.4"/>
<polygon points="207.8,905.1 211.7,909 207.8,913 203.8,909"/>
<polygon points="243.1,901.5 247,905.4 243.1,909.3 239.1,905.4"/>
<polygon points="278.4,891.7 282.3,895.6 278.4,899.5 274.4,895.6"/>
<polygon points="313.7,892.9 317.6,896.8 313.7,900.7 309.7,896.8"/>
<polygon points="348.9,895.3 352.9,899.3 348.9,903.2 345,899.3"/>
<polygon points="384.2,896.6 388.2,900.5 384.2,904.4 380.3,900.5"/>
<polygon points="419.5,895.3 423.5,899.3 419.5,903.2 415.6,899.3"/>
<polygon points="454.9,896.6 458.8,900.5 454.9,904.4 450.9,900.5"/>
</g>
<polyline points="101.85,993.32 137.15,951.79 172.45,924.92 207.75,907.82 243.05,905.37 278.35,895.6 313.65,896.82 348.95,898.04 384.25,899.27 419.55,901.71 454.85,900.49" fill="none" stroke="#ff7f0e" stroke-opacity="0.85" stroke-width="1.35" stroke-linejoin="round" stroke-dasharray="5.0,2.2"/>
<g fill="#ff7f0e" fill-opacity="0.75" stroke="#ff7f0e" stroke-opacity="0.75" stroke-width="1">
<polygon points="101.9,996.1 104.7,990.7 99.1,990.7"/>
<polygon points="137.2,954.6 140,949.1 134.3,949.1"/>
<polygon points="172.4,927.7 175.2,922.3 169.6,922.3"/>
<polygon points="207.8,910.6 210.6,905.2 204.9,905.2"/>
<polygon points="243.1,908.2 245.9,902.7 240.2,902.7"/>
<polygon points="278.4,898.4 281.2,892.9 275.6,892.9"/>
<polygon points="313.7,899.6 316.5,894.2 310.9,894.2"/>
<polygon points="348.9,900.8 351.8,895.4 346.1,895.4"/>
<polygon points="384.2,902.1 387.1,896.6 381.4,896.6"/>
<polygon points="419.5,904.5 422.3,899 416.7,899"/>
<polygon points="454.9,903.3 457.7,897.8 452.1,897.8"/>
</g>
<polyline points="101.85,1000.65 137.15,953.26 172.45,926.63 207.75,908.3 243.05,905.13 278.35,893.16 313.65,900.49 348.95,900.49 384.25,902.93 419.55,907.82 454.85,916.37" fill="none" stroke="#2ca02c" stroke-opacity="0.85" stroke-width="1.35" stroke-linejoin="round"/>
<g fill="#2ca02c" fill-opacity="0.75" stroke="#2ca02c" stroke-opacity="0.75" stroke-width="1">
<polygon points="99.1,1000.6 104.5,1003.4 104.5,997.9"/>
<polygon points="134.3,953.3 139.8,956.1 139.8,950.5"/>
<polygon points="169.6,926.6 175.1,929.4 175.1,923.8"/>
<polygon points="204.9,908.3 210.4,911.1 210.4,905.5"/>
<polygon points="240.2,905.1 245.7,907.9 245.7,902.3"/>
<polygon points="275.6,893.2 281,896 281,890.4"/>
<polygon points="310.9,900.5 316.3,903.3 316.3,897.7"/>
<polygon points="346.1,900.5 351.6,903.3 351.6,897.7"/>
<polygon points="381.4,902.9 386.9,905.7 386.9,900.1"/>
<polygon points="416.7,907.8 422.2,910.6 422.2,905"/>
<polygon points="452.1,916.4 457.5,919.2 457.5,913.6"/>
</g>
<polyline points="101.85,1000.65 137.15,953.26 172.45,926.63 207.75,908.3 243.05,905.13 278.35,893.16 313.65,902.2 348.95,907.08 384.25,902.93 419.55,961.07 454.85,1076.14" fill="none" stroke="#2ca02c" stroke-opacity="0.85" stroke-width="1.35" stroke-linejoin="round" stroke-dasharray="5.0,2.2"/>
<g fill="#2ca02c" fill-opacity="0.75" stroke="#2ca02c" stroke-opacity="0.75" stroke-width="1">
<polygon points="104.7,1000.6 99.2,1003.4 99.2,997.9"/>
<polygon points="140,953.3 134.5,956.1 134.5,950.5"/>
<polygon points="175.2,926.6 169.8,929.4 169.8,923.8"/>
<polygon points="210.6,908.3 205.1,911.1 205.1,905.5"/>
<polygon points="245.9,905.1 240.4,907.9 240.4,902.3"/>
<polygon points="281.2,893.2 275.7,896 275.7,890.4"/>
<polygon points="316.5,902.2 311,905 311,899.4"/>
<polygon points="351.8,907.1 346.3,909.9 346.3,904.3"/>
<polygon points="387.1,902.9 381.6,905.7 381.6,900.1"/>
<polygon points="422.3,961.1 416.9,963.9 416.9,958.3"/>
<polygon points="457.7,1076.1 452.2,1078.9 452.2,1073.3"/>
</g>
<polyline points="101.85,1000.65 137.15,953.26 172.45,926.63 207.75,908.3 243.05,905.13 278.35,893.16 313.65,895.6 348.95,898.04 384.25,962.78 419.55,998.94 454.85,998.45" fill="none" stroke="#2ca02c" stroke-opacity="0.85" stroke-width="1.35" stroke-linejoin="round" stroke-dasharray="8.6,2.2,1.35,2.2"/>
<g fill="#2ca02c" fill-opacity="0.75" stroke="#2ca02c" stroke-opacity="0.75" stroke-width="1">
<polygon points="101.9,997.8 104.6,999.8 103.5,1003 100.2,1003 99.1,999.8"/>
<polygon points="137.2,950.4 139.9,952.4 138.8,955.6 135.5,955.6 134.4,952.4"/>
<polygon points="172.4,923.8 175.2,925.7 174.1,928.9 170.8,928.9 169.7,925.7"/>
<polygon points="207.8,905.4 210.5,907.4 209.4,910.6 206.1,910.6 205,907.4"/>
<polygon points="243.1,902.3 245.8,904.2 244.7,907.4 241.4,907.4 240.3,904.2"/>
<polygon points="278.4,890.3 281.1,892.3 280,895.5 276.7,895.5 275.6,892.3"/>
<polygon points="313.7,892.7 316.4,894.7 315.3,897.9 312,897.9 310.9,894.7"/>
<polygon points="348.9,895.2 351.7,897.2 350.6,900.4 347.3,900.4 346.2,897.2"/>
<polygon points="384.2,959.9 387,961.9 385.9,965.1 382.6,965.1 381.5,961.9"/>
<polygon points="419.5,996.1 422.3,998.1 421.2,1001.3 417.9,1001.3 416.8,998.1"/>
<polygon points="454.9,995.6 457.6,997.6 456.5,1000.8 453.2,1000.8 452.1,997.6"/>
</g>
<polyline points="101.85,1000.65 137.15,953.26 172.45,926.63 207.75,908.3 243.05,905.13 278.35,893.16 313.65,895.6 348.95,895.6 384.25,898.04 419.55,902.93 454.85,905.37" fill="none" stroke="#2ca02c" stroke-opacity="0.85" stroke-width="1.35" stroke-linejoin="round" stroke-dasharray="1.35,2.2"/>
<g fill="#2ca02c" fill-opacity="0.75" stroke="#2ca02c" stroke-opacity="0.75" stroke-width="1">
<polygon points="103.4,998.1 104.4,999.1 102.9,1000.6 104.4,1002.2 103.4,1003.2 101.9,1001.7 100.3,1003.2 99.3,1002.2 100.8,1000.6 99.3,999.1 100.3,998.1 101.9,999.6"/>
<polygon points="138.7,950.7 139.7,951.7 138.2,953.3 139.7,954.8 138.7,955.8 137.2,954.3 135.6,955.8 134.6,954.8 136.1,953.3 134.6,951.7 135.6,950.7 137.2,952.2"/>
<polygon points="174,924 175,925.1 173.5,926.6 175,928.2 174,929.2 172.4,927.7 170.9,929.2 169.9,928.2 171.4,926.6 169.9,925.1 170.9,924 172.4,925.6"/>
<polygon points="209.3,905.7 210.3,906.7 208.8,908.3 210.3,909.9 209.3,910.9 207.8,909.3 206.2,910.9 205.2,909.9 206.7,908.3 205.2,906.7 206.2,905.7 207.8,907.3"/>
<polygon points="244.6,902.5 245.6,903.6 244.1,905.1 245.6,906.7 244.6,907.7 243.1,906.2 241.5,907.7 240.5,906.7 242,905.1 240.5,903.6 241.5,902.5 243.1,904.1"/>
<polygon points="279.9,890.6 280.9,891.6 279.4,893.2 280.9,894.7 279.9,895.8 278.4,894.2 276.8,895.8 275.8,894.7 277.3,893.2 275.8,891.6 276.8,890.6 278.4,892.1"/>
<polygon points="315.2,893 316.2,894 314.7,895.6 316.2,897.2 315.2,898.2 313.7,896.6 312.1,898.2 311.1,897.2 312.6,895.6 311.1,894 312.1,893 313.7,894.6"/>
<polygon points="350.5,893 351.5,894 350,895.6 351.5,897.2 350.5,898.2 348.9,896.6 347.4,898.2 346.4,897.2 347.9,895.6 346.4,894 347.4,893 348.9,894.6"/>
<polygon points="385.8,895.5 386.8,896.5 385.3,898 386.8,899.6 385.8,900.6 384.2,899.1 382.7,900.6 381.7,899.6 383.2,898 381.7,896.5 382.7,895.5 384.2,897"/>
<polygon points="421.1,900.3 422.1,901.4 420.6,902.9 422.1,904.5 421.1,905.5 419.5,904 418,905.5 417,904.5 418.5,902.9 417,901.4 418,900.3 419.5,901.9"/>
<polygon points="456.4,902.8 457.4,903.8 455.9,905.4 457.4,906.9 456.4,908 454.9,906.4 453.3,908 452.3,906.9 453.8,905.4 452.3,903.8 453.3,902.8 454.9,904.3"/>
</g>
<polyline points="101.85,1000.65 137.15,953.26 172.45,926.63 207.75,908.3 243.05,905.13 278.35,895.6 313.65,895.6 348.95,896.82 384.25,907.82 419.55,901.71 454.85,902.93" fill="none" stroke="#9467bd" stroke-opacity="0.85" stroke-width="1.35" stroke-linejoin="round"/>
<g fill="#9467bd" fill-opacity="0.75" stroke="#9467bd" stroke-opacity="0.75" stroke-width="1">
<polygon points="100.9,997.9 102.8,997.9 102.8,999.7 104.7,999.7 104.7,1001.6 102.8,1001.6 102.8,1003.4 100.9,1003.4 100.9,1001.6 99.1,1001.6 99.1,999.7 100.9,999.7"/>
<polygon points="136.2,950.5 138.1,950.5 138.1,952.3 140,952.3 140,954.2 138.1,954.2 138.1,956.1 136.2,956.1 136.2,954.2 134.3,954.2 134.3,952.3 136.2,952.3"/>
<polygon points="171.5,923.8 173.4,923.8 173.4,925.7 175.2,925.7 175.2,927.6 173.4,927.6 173.4,929.4 171.5,929.4 171.5,927.6 169.6,927.6 169.6,925.7 171.5,925.7"/>
<polygon points="206.8,905.5 208.7,905.5 208.7,907.4 210.6,907.4 210.6,909.3 208.7,909.3 208.7,911.1 206.8,911.1 206.8,909.3 204.9,909.3 204.9,907.4 206.8,907.4"/>
<polygon points="242.1,902.3 244,902.3 244,904.2 245.9,904.2 245.9,906.1 244,906.1 244,907.9 242.1,907.9 242.1,906.1 240.2,906.1 240.2,904.2 242.1,904.2"/>
<polygon points="277.4,892.8 279.3,892.8 279.3,894.6 281.2,894.6 281.2,896.6 279.3,896.6 279.3,898.4 277.4,898.4 277.4,896.6 275.6,896.6 275.6,894.6 277.4,894.6"/>
<polygon points="312.7,892.8 314.6,892.8 314.6,894.6 316.5,894.6 316.5,896.6 314.6,896.6 314.6,898.4 312.7,898.4 312.7,896.6 310.9,896.6 310.9,894.6 312.7,894.6"/>
<polygon points="348,894 349.9,894 349.9,895.9 351.8,895.9 351.8,897.8 349.9,897.8 349.9,899.6 348,899.6 348,897.8 346.1,897.8 346.1,895.9 348,895.9"/>
<polygon points="383.3,905 385.2,905 385.2,906.9 387.1,906.9 387.1,908.8 385.2,908.8 385.2,910.6 383.3,910.6 383.3,908.8 381.4,908.8 381.4,906.9 383.3,906.9"/>
<polygon points="418.6,898.9 420.5,898.9 420.5,900.8 422.3,900.8 422.3,902.7 420.5,902.7 420.5,904.5 418.6,904.5 418.6,902.7 416.7,902.7 416.7,900.8 418.6,900.8"/>
<polygon points="453.9,900.1 455.8,900.1 455.8,902 457.7,902 457.7,903.9 455.8,903.9 455.8,905.7 453.9,905.7 453.9,903.9 452.1,903.9 452.1,902 453.9,902"/>
</g>
<polyline points="101.85,1000.65 137.15,953.26 172.45,926.63 207.75,908.3 243.05,905.13 278.35,895.6 313.65,895.6 348.95,893.16 384.25,895.6 419.55,898.04 454.85,898.04" fill="none" stroke="#9467bd" stroke-opacity="0.85" stroke-width="1.35" stroke-linejoin="round" stroke-dasharray="5.0,2.2"/>
<g fill="#9467bd" fill-opacity="0.75" stroke="#9467bd" stroke-opacity="0.75" stroke-width="1">
<polygon points="101.9,997.9 104.7,1003.3 99.1,1003.3"/>
<polygon points="137.2,950.5 140,955.9 134.3,955.9"/>
<polygon points="172.4,923.8 175.2,929.3 169.6,929.3"/>
<polygon points="207.8,905.5 210.6,911 204.9,911"/>
<polygon points="243.1,902.3 245.9,907.8 240.2,907.8"/>
<polygon points="278.4,892.8 281.2,898.3 275.6,898.3"/>
<polygon points="313.7,892.8 316.5,898.3 310.9,898.3"/>
<polygon points="348.9,890.4 351.8,895.8 346.1,895.8"/>
<polygon points="384.2,892.8 387.1,898.3 381.4,898.3"/>
<polygon points="419.5,895.2 422.3,900.7 416.7,900.7"/>
<polygon points="454.9,895.2 457.7,900.7 452.1,900.7"/>
</g>
<polyline points="101.85,1000.65 137.15,953.26 172.45,926.63 207.75,908.3 243.05,905.13 278.35,895.6 313.65,896.58 348.95,902.93 384.25,921.5 419.55,951.55 454.85,975.98" fill="none" stroke="#d62728" stroke-opacity="0.85" stroke-width="1.35" stroke-linejoin="round"/>
<g fill="#d62728" fill-opacity="0.75" stroke="#d62728" stroke-opacity="0.75" stroke-width="1">
<polygon points="101.9,997.4 102.6,999.6 104.9,999.7 103.1,1001.1 103.7,1003.3 101.9,1002 100,1003.3 100.6,1001.1 98.8,999.7 101.1,999.6"/>
<polygon points="137.2,950 137.9,952.2 140.2,952.3 138.4,953.7 139,955.9 137.2,954.6 135.3,955.9 135.9,953.7 134.1,952.3 136.4,952.2"/>
<polygon points="172.4,923.4 173.2,925.5 175.5,925.6 173.7,927 174.3,929.2 172.4,928 170.6,929.2 171.2,927 169.4,925.6 171.7,925.5"/>
<polygon points="207.8,905.1 208.5,907.2 210.8,907.3 209,908.7 209.6,910.9 207.8,909.7 205.9,910.9 206.5,908.7 204.7,907.3 207,907.2"/>
<polygon points="243.1,901.9 243.8,904 246.1,904.1 244.3,905.5 244.9,907.7 243.1,906.5 241.2,907.7 241.8,905.5 240,904.1 242.3,904"/>
<polygon points="278.4,892.4 279.1,894.5 281.4,894.6 279.6,896 280.2,898.2 278.4,897 276.5,898.2 277.1,896 275.3,894.6 277.6,894.5"/>
<polygon points="313.7,893.4 314.4,895.5 316.7,895.6 314.9,897 315.5,899.2 313.7,897.9 311.8,899.2 312.4,897 310.6,895.6 312.9,895.5"/>
<polygon points="348.9,899.7 349.7,901.8 352,901.9 350.2,903.3 350.8,905.5 348.9,904.3 347.1,905.5 347.7,903.3 345.9,901.9 348.2,901.8"/>
<polygon points="384.2,918.3 385,920.4 387.3,920.5 385.5,921.9 386.1,924.1 384.2,922.8 382.4,924.1 383,921.9 381.2,920.5 383.5,920.4"/>
<polygon points="419.5,948.3 420.3,950.5 422.6,950.6 420.8,952 421.4,954.2 419.5,952.9 417.7,954.2 418.3,952 416.5,950.6 418.8,950.5"/>
<polygon points="454.9,972.8 455.6,974.9 457.9,975 456.1,976.4 456.7,978.6 454.9,977.3 453,978.6 453.6,976.4 451.8,975 454.1,974.9"/>
</g>
<polyline points="101.85,1000.65 137.15,953.26 172.45,926.63 207.75,908.3 243.05,905.13 278.35,895.6 313.65,896.58 348.95,901.95 384.25,908.55 419.55,943 454.85,968.4" fill="none" stroke="#d62728" stroke-opacity="0.85" stroke-width="1.35" stroke-linejoin="round" stroke-dasharray="5.0,2.2"/>
<g fill="#d62728" fill-opacity="0.75" stroke="#d62728" stroke-opacity="0.75" stroke-width="1">
<polygon points="101.9,997.8 104.3,999.2 104.3,1002.1 101.9,1003.5 99.4,1002.1 99.4,999.2"/>
<polygon points="137.2,950.4 139.6,951.8 139.6,954.7 137.2,956.1 134.7,954.7 134.7,951.8"/>
<polygon points="172.4,923.8 174.9,925.2 174.9,928.1 172.4,929.5 170,928.1 170,925.2"/>
<polygon points="207.8,905.4 210.2,906.9 210.2,909.7 207.8,911.2 205.3,909.7 205.3,906.9"/>
<polygon points="243.1,902.3 245.5,903.7 245.5,906.6 243.1,908 240.6,906.6 240.6,903.7"/>
<polygon points="278.4,892.7 280.8,894.2 280.8,897 278.4,898.5 275.9,897 275.9,894.2"/>
<polygon points="313.7,893.7 316.1,895.2 316.1,898 313.7,899.4 311.2,898 311.2,895.2"/>
<polygon points="348.9,899.1 351.4,900.5 351.4,903.4 348.9,904.8 346.5,903.4 346.5,900.5"/>
<polygon points="384.2,905.7 386.7,907.1 386.7,910 384.2,911.4 381.8,910 381.8,907.1"/>
<polygon points="419.5,940.1 422,941.6 422,944.4 419.5,945.9 417.1,944.4 417.1,941.6"/>
<polygon points="454.9,965.5 457.3,967 457.3,969.8 454.9,971.3 452.4,969.8 452.4,967"/>
</g>
</g>
<line x1="278.35" y1="1122.8" x2="278.35" y2="878.5" stroke="#000" stroke-width="1.35" stroke-dasharray="5.0,2.35"/>
<line x1="83.7" y1="878.5" x2="473" y2="878.5" stroke="#000" stroke-opacity="1.0" stroke-width="1.0"/>
<line x1="83.7" y1="1122.5" x2="473" y2="1122.5" stroke="#000" stroke-opacity="0.45" stroke-width="1.0"/>
<line x1="84.2" y1="879" x2="84.2" y2="1122.3" stroke="#000" stroke-opacity="0.45" stroke-width="1.05"/>
<line x1="472.5" y1="879" x2="472.5" y2="1122.3" stroke="#000" stroke-opacity="0.95" stroke-width="1.05"/>
<polyline clip-path="url(#c6)" points="101.85,999.92 137.15,969.14 172.45,944.71 207.75,927.6 243.05,918.08 278.35,908.3 313.65,901.71 348.95,896.82 384.25,896.09 419.55,893.4 454.85,893.16" fill="none" stroke="#000" stroke-opacity="0.4" stroke-width="4.8" stroke-linejoin="round" stroke-linecap="butt"/>
<line x1="80.6" y1="1122.5" x2="84.2" y2="1122.5" stroke="#111" stroke-width="1.0"/>
<text x="55.19" y="1127.45" font-family="Liberation Sans, sans-serif" font-size="14.8" textLength="21.38" lengthAdjust="spacingAndGlyphs">0.0</text>
<line x1="80.6" y1="1073.5" x2="84.2" y2="1073.5" stroke="#111" stroke-width="1.0"/>
<text x="55.2" y="1078.59" font-family="Liberation Sans, sans-serif" font-size="14.8" textLength="21.06" lengthAdjust="spacingAndGlyphs">0.2</text>
<line x1="80.6" y1="1025.5" x2="84.2" y2="1025.5" stroke="#111" stroke-width="1.0"/>
<text x="55.19" y="1029.73" font-family="Liberation Sans, sans-serif" font-size="14.8" textLength="21.37" lengthAdjust="spacingAndGlyphs">0.4</text>
<line x1="80.6" y1="976.5" x2="84.2" y2="976.5" stroke="#111" stroke-width="1.0"/>
<text x="55.19" y="980.87" font-family="Liberation Sans, sans-serif" font-size="14.8" textLength="21.51" lengthAdjust="spacingAndGlyphs">0.6</text>
<line x1="80.6" y1="927.5" x2="84.2" y2="927.5" stroke="#111" stroke-width="1.0"/>
<text x="55.19" y="932.01" font-family="Liberation Sans, sans-serif" font-size="14.8" textLength="21.42" lengthAdjust="spacingAndGlyphs">0.8</text>
<line x1="80.6" y1="878.5" x2="84.2" y2="878.5" stroke="#111" stroke-width="1.0"/>
<text x="55.24" y="883.15" font-family="Liberation Sans, sans-serif" font-size="14.8" textLength="21.33" lengthAdjust="spacingAndGlyphs">1.0</text>
<line x1="101.85" y1="1122.8" x2="101.85" y2="1126.4" stroke="#111" stroke-width="1.05"/>
<text x="94.72" y="1141.25" font-family="Liberation Sans, sans-serif" font-size="14.8" textLength="7.65" lengthAdjust="spacingAndGlyphs">2</text>
<text x="103.54" y="1136.1" font-family="Liberation Sans, sans-serif" font-size="10.4" textLength="5.51" lengthAdjust="spacingAndGlyphs">0</text>
<line x1="137.15" y1="1122.8" x2="137.15" y2="1126.4" stroke="#111" stroke-width="1.05"/>
<text x="130.02" y="1141.25" font-family="Liberation Sans, sans-serif" font-size="14.8" textLength="7.65" lengthAdjust="spacingAndGlyphs">2</text>
<text x="138.95" y="1136.1" font-family="Liberation Sans, sans-serif" font-size="10.4" textLength="5.22" lengthAdjust="spacingAndGlyphs">1</text>
<line x1="172.45" y1="1122.8" x2="172.45" y2="1126.4" stroke="#111" stroke-width="1.05"/>
<text x="165.32" y="1141.25" font-family="Liberation Sans, sans-serif" font-size="14.8" textLength="7.65" lengthAdjust="spacingAndGlyphs">2</text>
<text x="174.12" y="1136.1" font-family="Liberation Sans, sans-serif" font-size="10.4" textLength="5.28" lengthAdjust="spacingAndGlyphs">2</text>
<line x1="207.75" y1="1122.8" x2="207.75" y2="1126.4" stroke="#111" stroke-width="1.05"/>
<text x="200.62" y="1141.25" font-family="Liberation Sans, sans-serif" font-size="14.8" textLength="7.65" lengthAdjust="spacingAndGlyphs">2</text>
<text x="209.57" y="1136.1" font-family="Liberation Sans, sans-serif" font-size="10.4" textLength="5.28" lengthAdjust="spacingAndGlyphs">3</text>
<line x1="243.05" y1="1122.8" x2="243.05" y2="1126.4" stroke="#111" stroke-width="1.05"/>
<text x="235.92" y="1141.25" font-family="Liberation Sans, sans-serif" font-size="14.8" textLength="7.65" lengthAdjust="spacingAndGlyphs">2</text>
<text x="244.74" y="1136.1" font-family="Liberation Sans, sans-serif" font-size="10.4" textLength="5.51" lengthAdjust="spacingAndGlyphs">4</text>
<line x1="278.35" y1="1122.8" x2="278.35" y2="1126.4" stroke="#111" stroke-width="1.05"/>
<text x="271.22" y="1141.25" font-family="Liberation Sans, sans-serif" font-size="14.8" textLength="7.65" lengthAdjust="spacingAndGlyphs">2</text>
<text x="280.16" y="1136.1" font-family="Liberation Sans, sans-serif" font-size="10.4" textLength="5.18" lengthAdjust="spacingAndGlyphs">5</text>
<line x1="313.65" y1="1122.8" x2="313.65" y2="1126.4" stroke="#111" stroke-width="1.05"/>
<text x="306.52" y="1141.25" font-family="Liberation Sans, sans-serif" font-size="14.8" textLength="7.65" lengthAdjust="spacingAndGlyphs">2</text>
<text x="315.25" y="1136.1" font-family="Liberation Sans, sans-serif" font-size="10.4" textLength="5.7" lengthAdjust="spacingAndGlyphs">6</text>
<line x1="348.95" y1="1122.8" x2="348.95" y2="1126.4" stroke="#111" stroke-width="1.05"/>
<text x="341.82" y="1141.25" font-family="Liberation Sans, sans-serif" font-size="14.8" textLength="7.65" lengthAdjust="spacingAndGlyphs">2</text>
<text x="350.69" y="1136.1" font-family="Liberation Sans, sans-serif" font-size="10.4" textLength="5.37" lengthAdjust="spacingAndGlyphs">7</text>
<line x1="384.25" y1="1122.8" x2="384.25" y2="1126.4" stroke="#111" stroke-width="1.05"/>
<text x="377.12" y="1141.25" font-family="Liberation Sans, sans-serif" font-size="14.8" textLength="7.65" lengthAdjust="spacingAndGlyphs">2</text>
<text x="385.92" y="1136.1" font-family="Liberation Sans, sans-serif" font-size="10.4" textLength="5.55" lengthAdjust="spacingAndGlyphs">8</text>
<line x1="419.55" y1="1122.8" x2="419.55" y2="1126.4" stroke="#111" stroke-width="1.05"/>
<text x="412.42" y="1141.25" font-family="Liberation Sans, sans-serif" font-size="14.8" textLength="7.65" lengthAdjust="spacingAndGlyphs">2</text>
<text x="421.12" y="1136.1" font-family="Liberation Sans, sans-serif" font-size="10.4" textLength="5.68" lengthAdjust="spacingAndGlyphs">9</text>
<line x1="454.85" y1="1122.8" x2="454.85" y2="1126.4" stroke="#111" stroke-width="1.05"/>
<text x="444.61" y="1141.25" font-family="Liberation Sans, sans-serif" font-size="14.8" textLength="7.65" lengthAdjust="spacingAndGlyphs">2</text>
<text x="453.45" y="1136.1" font-family="Liberation Sans, sans-serif" font-size="10.4" textLength="11.74" lengthAdjust="spacingAndGlyphs">10</text>
<text x="259.78" y="872.6" font-family="Liberation Sans, sans-serif" font-size="17.2" font-style="italic" textLength="8.06" lengthAdjust="spacingAndGlyphs">k</text>
<text x="272.3" y="872.6" font-family="Liberation Sans, sans-serif" font-size="17.2" textLength="12.5" lengthAdjust="spacingAndGlyphs">=</text>
<text x="289.29" y="872.6" font-family="Liberation Sans, sans-serif" font-size="17.2" textLength="9.51" lengthAdjust="spacingAndGlyphs">2</text>
<text x="235.13" y="1159.2" font-family="Liberation Sans, sans-serif" font-size="14.4" textLength="85.08" lengthAdjust="spacingAndGlyphs">Query Index</text>
<clipPath id="c7"><rect x="516.3" y="878.5" width="388.8" height="244.3"/></clipPath>
<line x1="516.3" y1="1073.5" x2="905.1" y2="1073.5" stroke="#b0b0b0" stroke-opacity="0.3" stroke-width="0.9" stroke-dasharray="2.8,1.1"/>
<line x1="516.3" y1="1025.5" x2="905.1" y2="1025.5" stroke="#b0b0b0" stroke-opacity="0.3" stroke-width="0.9" stroke-dasharray="2.8,1.1"/>
<line x1="516.3" y1="976.5" x2="905.1" y2="976.5" stroke="#b0b0b0" stroke-opacity="0.3" stroke-width="0.9" stroke-dasharray="2.8,1.1"/>
<line x1="516.3" y1="927.5" x2="905.1" y2="927.5" stroke="#b0b0b0" stroke-opacity="0.3" stroke-width="0.9" stroke-dasharray="2.8,1.1"/>
<g clip-path="url(#c7)">
<polyline points="533.97,1059.28 569.32,1034.85 604.66,1005.54 640.01,985.75 675.35,974.27 710.7,962.78 746.05,956.68 781.39,954.72 816.74,961.81 852.08,951.06 887.43,963.52" fill="none" stroke="#1f77b4" stroke-opacity="0.85" stroke-width="1.35" stroke-linejoin="round"/>
<g fill="#1f77b4" fill-opacity="0.75" stroke="#1f77b4" stroke-opacity="0.75" stroke-width="1">
<circle cx="534" cy="1059.3" r="2.8"/>
<circle cx="569.3" cy="1034.9" r="2.8"/>
<circle cx="604.7" cy="1005.5" r="2.8"/>
<circle cx="640" cy="985.7" r="2.8"/>
<circle cx="675.4" cy="974.3" r="2.8"/>
<circle cx="710.7" cy="962.8" r="2.8"/>
<circle cx="746" cy="956.7" r="2.8"/>
<circle cx="781.4" cy="954.7" r="2.8"/>
<circle cx="816.7" cy="961.8" r="2.8"/>
<circle cx="852.1" cy="951.1" r="2.8"/>
<circle cx="887.4" cy="963.5" r="2.8"/>
</g>
<polyline points="533.97,1059.28 569.32,1032.41 604.66,1005.54 640.01,971.33 675.35,951.79 710.7,932.25 746.05,920.03 781.39,918.81 816.74,925.89 852.08,922.72 887.43,924.92" fill="none" stroke="#1f77b4" stroke-opacity="0.85" stroke-width="1.35" stroke-linejoin="round" stroke-dasharray="5.0,2.2"/>
<g fill="#1f77b4" fill-opacity="0.75" stroke="#1f77b4" stroke-opacity="0.75" stroke-width="1">
<polygon points="531.3,1056.6 536.6,1056.6 536.6,1061.9 531.3,1061.9"/>
<polygon points="566.7,1029.7 572,1029.7 572,1035.1 566.7,1035.1"/>
<polygon points="602,1002.9 607.3,1002.9 607.3,1008.2 602,1008.2"/>
<polygon points="637.3,968.7 642.7,968.7 642.7,974 637.3,974"/>
<polygon points="672.7,949.1 678,949.1 678,954.4 672.7,954.4"/>
<polygon points="708,929.6 713.4,929.6 713.4,934.9 708,934.9"/>
<polygon points="743.4,917.4 748.7,917.4 748.7,922.7 743.4,922.7"/>
<polygon points="778.7,916.1 784.1,916.1 784.1,921.5 778.7,921.5"/>
<polygon points="814.1,923.2 819.4,923.2 819.4,928.6 814.1,928.6"/>
<polygon points="849.4,920.1 854.7,920.1 854.7,925.4 849.4,925.4"/>
<polygon points="884.8,922.3 890.1,922.3 890.1,927.6 884.8,927.6"/>
</g>
<polyline points="533.97,1059.28 569.32,1032.41 604.66,1005.54 640.01,971.33 675.35,951.79 710.7,932.25 746.05,920.03 781.39,918.81 816.74,920.03 852.08,916.61 887.43,915.39" fill="none" stroke="#1f77b4" stroke-opacity="0.85" stroke-width="1.35" stroke-linejoin="round" stroke-dasharray="1.35,2.2"/>
<g fill="#1f77b4" fill-opacity="0.75" stroke="#1f77b4" stroke-opacity="0.75" stroke-width="1">
<polygon points="534,1056.5 536.8,1061.9 531.2,1061.9"/>
<polygon points="569.3,1029.6 572.1,1035.1 566.5,1035.1"/>
<polygon points="604.7,1002.7 607.5,1008.2 601.9,1008.2"/>
<polygon points="640,968.5 642.8,974 637.2,974"/>
<polygon points="675.4,949 678.2,954.4 672.6,954.4"/>
<polygon points="710.7,929.4 713.5,934.9 707.9,934.9"/>
<polygon points="746,917.2 748.8,922.7 743.2,922.7"/>
<polygon points="781.4,916 784.2,921.5 778.6,921.5"/>
<polygon points="816.7,917.2 819.5,922.7 813.9,922.7"/>
<polygon points="852.1,913.8 854.9,919.3 849.3,919.3"/>
<polygon points="887.4,912.6 890.2,918 884.6,918"/>
</g>
<polyline points="533.97,1064.17 569.32,1034.85 604.66,1020.93 640.01,1002.36 675.35,994.05 710.7,977.44 746.05,975.98 781.39,973.04 816.74,970.85 852.08,970.11 887.43,971.33" fill="none" stroke="#ff7f0e" stroke-opacity="0.85" stroke-width="1.35" stroke-linejoin="round"/>
<g fill="#ff7f0e" fill-opacity="0.75" stroke="#ff7f0e" stroke-opacity="0.75" stroke-width="1">
<polygon points="534,1060.2 537.9,1064.2 534,1068.1 530.1,1064.2"/>
<polygon points="569.3,1030.9 573.2,1034.9 569.3,1038.8 565.4,1034.9"/>
<polygon points="604.7,1017 608.6,1020.9 604.7,1024.8 600.7,1020.9"/>
<polygon points="640,998.4 643.9,1002.4 640,1006.3 636.1,1002.4"/>
<polygon points="675.4,990.1 679.3,994.1 675.4,998 671.4,994.1"/>
<polygon points="710.7,973.5 714.6,977.4 710.7,981.4 706.8,977.4"/>
<polygon points="746,972.1 750,976 746,979.9 742.1,976"/>
<polygon points="781.4,969.1 785.3,973 781.4,977 777.5,973"/>
<polygon points="816.7,966.9 820.7,970.8 816.7,974.8 812.8,970.8"/>
<polygon points="852.1,966.2 856,970.1 852.1,974 848.2,970.1"/>
<polygon points="887.4,967.4 891.3,971.3 887.4,975.3 883.5,971.3"/>
</g>
<polyline points="533.97,1064.17 569.32,1034.85 604.66,1012.87 640.01,1000.65 675.35,989.41 710.7,976.22 746.05,973.04 781.39,976.22 816.74,975.24 852.08,972.07 887.43,976.22" fill="none" stroke="#ff7f0e" stroke-opacity="0.85" stroke-width="1.35" stroke-linejoin="round" stroke-dasharray="5.0,2.2"/>
<g fill="#ff7f0e" fill-opacity="0.75" stroke="#ff7f0e" stroke-opacity="0.75" stroke-width="1">
<polygon points="534,1067 536.8,1061.5 531.2,1061.5"/>
<polygon points="569.3,1037.7 572.1,1032.2 566.5,1032.2"/>
<polygon points="604.7,1015.7 607.5,1010.2 601.9,1010.2"/>
<polygon points="640,1003.4 642.8,998 637.2,998"/>
<polygon points="675.4,992.2 678.2,986.8 672.6,986.8"/>
<polygon points="710.7,979 713.5,973.6 707.9,973.6"/>
<polygon points="746,975.8 748.8,970.4 743.2,970.4"/>
<polygon points="781.4,979 784.2,973.6 778.6,973.6"/>
<polygon points="816.7,978 819.5,972.6 813.9,972.6"/>
<polygon points="852.1,974.9 854.9,969.4 849.3,969.4"/>
<polygon points="887.4,979 890.2,973.6 884.6,973.6"/>
</g>
<polyline points="533.97,1064.17 569.32,1044.87 604.66,1019.95 640.01,1008.96 675.35,1006.51 710.7,986.72 746.05,994.3 781.39,1050.73 816.74,1063.19 852.08,1059.28 887.43,1067.1" fill="none" stroke="#2ca02c" stroke-opacity="0.85" stroke-width="1.35" stroke-linejoin="round"/>
<g fill="#2ca02c" fill-opacity="0.75" stroke="#2ca02c" stroke-opacity="0.75" stroke-width="1">
<polygon points="531.2,1064.2 536.6,1067 536.6,1061.4"/>
<polygon points="566.5,1044.9 572,1047.7 572,1042.1"/>
<polygon points="601.9,1019.9 607.3,1022.7 607.3,1017.1"/>
<polygon points="637.2,1009 642.7,1011.8 642.7,1006.2"/>
<polygon points="672.6,1006.5 678,1009.3 678,1003.7"/>
<polygon points="707.9,986.7 713.4,989.5 713.4,983.9"/>
<polygon points="743.2,994.3 748.7,997.1 748.7,991.5"/>
<polygon points="778.6,1050.7 784.1,1053.5 784.1,1047.9"/>
<polygon points="813.9,1063.2 819.4,1066 819.4,1060.4"/>
<polygon points="849.3,1059.3 854.7,1062.1 854.7,1056.5"/>
<polygon points="884.6,1067.1 890.1,1069.9 890.1,1064.3"/>
</g>
<polyline points="533.97,1061.72 569.32,1032.41 604.66,999.67 640.01,971.33 675.35,951.79 710.7,932.25 746.05,938.84 781.39,938.11 816.74,953.99 852.08,951.06 887.43,969.62" fill="none" stroke="#2ca02c" stroke-opacity="0.85" stroke-width="1.35" stroke-linejoin="round" stroke-dasharray="5.0,2.2"/>
<g fill="#2ca02c" fill-opacity="0.75" stroke="#2ca02c" stroke-opacity="0.75" stroke-width="1">
<polygon points="536.8,1061.7 531.3,1064.5 531.3,1058.9"/>
<polygon points="572.1,1032.4 566.7,1035.2 566.7,1029.6"/>
<polygon points="607.5,999.7 602,1002.5 602,996.9"/>
<polygon points="642.8,971.3 637.3,974.1 637.3,968.5"/>
<polygon points="678.2,951.8 672.7,954.6 672.7,949"/>
<polygon points="713.5,932.2 708,935 708,929.4"/>
<polygon points="748.8,938.8 743.4,941.6 743.4,936"/>
<polygon points="784.2,938.1 778.7,940.9 778.7,935.3"/>
<polygon points="819.5,954 814.1,956.8 814.1,951.2"/>
<polygon points="854.9,951.1 849.4,953.9 849.4,948.3"/>
<polygon points="890.2,969.6 884.8,972.4 884.8,966.8"/>
</g>
<polyline points="533.97,1061.72 569.32,1032.41 604.66,1005.54 640.01,971.33 675.35,951.79 710.7,932.25 746.05,920.03 781.39,920.03 816.74,972.31 852.08,1051.71 887.43,1065.39" fill="none" stroke="#2ca02c" stroke-opacity="0.85" stroke-width="1.35" stroke-linejoin="round" stroke-dasharray="8.6,2.2,1.35,2.2"/>
<g fill="#2ca02c" fill-opacity="0.75" stroke="#2ca02c" stroke-opacity="0.75" stroke-width="1">
<polygon points="534,1058.9 536.7,1060.8 535.7,1064 532.3,1064 531.3,1060.8"/>
<polygon points="569.3,1029.6 572,1031.5 571,1034.7 567.6,1034.7 566.6,1031.5"/>
<polygon points="604.7,1002.7 607.4,1004.7 606.3,1007.8 603,1007.8 601.9,1004.7"/>
<polygon points="640,968.5 642.7,970.5 641.7,973.6 638.3,973.6 637.3,970.5"/>
<polygon points="675.4,948.9 678.1,950.9 677,954.1 673.7,954.1 672.6,950.9"/>
<polygon points="710.7,929.4 713.4,931.4 712.4,934.6 709,934.6 708,931.4"/>
<polygon points="746,917.2 748.8,919.1 747.7,922.3 744.4,922.3 743.3,919.1"/>
<polygon points="781.4,917.2 784.1,919.1 783.1,922.3 779.7,922.3 778.7,919.1"/>
<polygon points="816.7,969.5 819.5,971.4 818.4,974.6 815.1,974.6 814,971.4"/>
<polygon points="852.1,1048.9 854.8,1050.8 853.8,1054 850.4,1054 849.4,1050.8"/>
<polygon points="887.4,1062.5 890.1,1064.5 889.1,1067.7 885.7,1067.7 884.7,1064.5"/>
</g>
<polyline points="533.97,1061.72 569.32,1032.41 604.66,1005.54 640.01,971.33 675.35,951.79 710.7,932.25 746.05,920.03 781.39,920.03 816.74,948.86 852.08,986.72 887.43,1010.67" fill="none" stroke="#2ca02c" stroke-opacity="0.85" stroke-width="1.35" stroke-linejoin="round" stroke-dasharray="1.35,2.2"/>
<g fill="#2ca02c" fill-opacity="0.75" stroke="#2ca02c" stroke-opacity="0.75" stroke-width="1">
<polygon points="535.5,1059.1 536.6,1060.2 535,1061.7 536.6,1063.3 535.5,1064.3 534,1062.8 532.4,1064.3 531.4,1063.3 532.9,1061.7 531.4,1060.2 532.4,1059.1 534,1060.7"/>
<polygon points="570.9,1029.8 571.9,1030.8 570.3,1032.4 571.9,1034 570.9,1035 569.3,1033.4 567.8,1035 566.7,1034 568.3,1032.4 566.7,1030.8 567.8,1029.8 569.3,1031.4"/>
<polygon points="606.2,1002.9 607.3,1004 605.7,1005.5 607.3,1007.1 606.2,1008.1 604.7,1006.6 603.1,1008.1 602.1,1007.1 603.6,1005.5 602.1,1004 603.1,1002.9 604.7,1004.5"/>
<polygon points="641.6,968.7 642.6,969.8 641,971.3 642.6,972.9 641.6,973.9 640,972.4 638.4,973.9 637.4,972.9 639,971.3 637.4,969.8 638.4,968.7 640,970.3"/>
<polygon points="676.9,949.2 677.9,950.2 676.4,951.8 677.9,953.4 676.9,954.4 675.4,952.8 673.8,954.4 672.8,953.4 674.3,951.8 672.8,950.2 673.8,949.2 675.4,950.8"/>
<polygon points="712.3,929.7 713.3,930.7 711.7,932.2 713.3,933.8 712.3,934.8 710.7,933.3 709.1,934.8 708.1,933.8 709.7,932.2 708.1,930.7 709.1,929.7 710.7,931.2"/>
<polygon points="747.6,917.4 748.6,918.5 747.1,920 748.6,921.6 747.6,922.6 746,921.1 744.5,922.6 743.5,921.6 745,920 743.5,918.5 744.5,917.4 746,919"/>
<polygon points="783,917.4 784,918.5 782.4,920 784,921.6 783,922.6 781.4,921.1 779.8,922.6 778.8,921.6 780.4,920 778.8,918.5 779.8,917.4 781.4,919"/>
<polygon points="818.3,946.3 819.3,947.3 817.8,948.9 819.3,950.4 818.3,951.5 816.7,949.9 815.2,951.5 814.1,950.4 815.7,948.9 814.1,947.3 815.2,946.3 816.7,947.8"/>
<polygon points="853.6,984.1 854.7,985.2 853.1,986.7 854.7,988.3 853.6,989.3 852.1,987.8 850.5,989.3 849.5,988.3 851.1,986.7 849.5,985.2 850.5,984.1 852.1,985.7"/>
<polygon points="889,1008.1 890,1009.1 888.5,1010.7 890,1012.2 889,1013.3 887.4,1011.7 885.9,1013.3 884.8,1012.2 886.4,1010.7 884.8,1009.1 885.9,1008.1 887.4,1009.6"/>
</g>
<polyline points="533.97,1056.84 569.32,1032.41 604.66,1005.54 640.01,971.33 675.35,951.79 710.7,932.25 746.05,924.92 781.39,930.29 816.74,933.47 852.08,933.47 887.43,933.22" fill="none" stroke="#9467bd" stroke-opacity="0.85" stroke-width="1.35" stroke-linejoin="round"/>
<g fill="#9467bd" fill-opacity="0.75" stroke="#9467bd" stroke-opacity="0.75" stroke-width="1">
<polygon points="533,1054 534.9,1054 534.9,1055.9 536.8,1055.9 536.8,1057.8 534.9,1057.8 534.9,1059.6 533,1059.6 533,1057.8 531.2,1057.8 531.2,1055.9 533,1055.9"/>
<polygon points="568.4,1029.6 570.3,1029.6 570.3,1031.5 572.1,1031.5 572.1,1033.4 570.3,1033.4 570.3,1035.2 568.4,1035.2 568.4,1033.4 566.5,1033.4 566.5,1031.5 568.4,1031.5"/>
<polygon points="603.7,1002.7 605.6,1002.7 605.6,1004.6 607.5,1004.6 607.5,1006.5 605.6,1006.5 605.6,1008.3 603.7,1008.3 603.7,1006.5 601.9,1006.5 601.9,1004.6 603.7,1004.6"/>
<polygon points="639.1,968.5 641,968.5 641,970.4 642.8,970.4 642.8,972.3 641,972.3 641,974.1 639.1,974.1 639.1,972.3 637.2,972.3 637.2,970.4 639.1,970.4"/>
<polygon points="674.4,949 676.3,949 676.3,950.8 678.2,950.8 678.2,952.7 676.3,952.7 676.3,954.6 674.4,954.6 674.4,952.7 672.6,952.7 672.6,950.8 674.4,950.8"/>
<polygon points="709.7,929.4 711.7,929.4 711.7,931.3 713.5,931.3 713.5,933.2 711.7,933.2 711.7,935 709.7,935 709.7,933.2 707.9,933.2 707.9,931.3 709.7,931.3"/>
<polygon points="745.1,922.1 747,922.1 747,924 748.8,924 748.8,925.9 747,925.9 747,927.7 745.1,927.7 745.1,925.9 743.2,925.9 743.2,924 745.1,924"/>
<polygon points="780.4,927.5 782.3,927.5 782.3,929.3 784.2,929.3 784.2,931.2 782.3,931.2 782.3,933.1 780.4,933.1 780.4,931.2 778.6,931.2 778.6,929.3 780.4,929.3"/>
<polygon points="815.8,930.7 817.7,930.7 817.7,932.5 819.5,932.5 819.5,934.4 817.7,934.4 817.7,936.3 815.8,936.3 815.8,934.4 813.9,934.4 813.9,932.5 815.8,932.5"/>
<polygon points="851.1,930.7 853,930.7 853,932.5 854.9,932.5 854.9,934.4 853,934.4 853,936.3 851.1,936.3 851.1,934.4 849.3,934.4 849.3,932.5 851.1,932.5"/>
<polygon points="886.5,930.4 888.4,930.4 888.4,932.3 890.2,932.3 890.2,934.2 888.4,934.2 888.4,936 886.5,936 886.5,934.2 884.6,934.2 884.6,932.3 886.5,932.3"/>
</g>
<polyline points="533.97,1054.4 569.32,1032.41 604.66,1005.54 640.01,971.33 675.35,951.79 710.7,932.25 746.05,921.99 781.39,918.81 816.74,923.45 852.08,920.03 887.43,920.76" fill="none" stroke="#9467bd" stroke-opacity="0.85" stroke-width="1.35" stroke-linejoin="round" stroke-dasharray="5.0,2.2"/>
<g fill="#9467bd" fill-opacity="0.75" stroke="#9467bd" stroke-opacity="0.75" stroke-width="1">
<polygon points="534,1051.6 536.8,1057.1 531.2,1057.1"/>
<polygon points="569.3,1029.6 572.1,1035.1 566.5,1035.1"/>
<polygon points="604.7,1002.7 607.5,1008.2 601.9,1008.2"/>
<polygon points="640,968.5 642.8,974 637.2,974"/>
<polygon points="675.4,949 678.2,954.4 672.6,954.4"/>
<polygon points="710.7,929.4 713.5,934.9 707.9,934.9"/>
<polygon points="746,919.2 748.8,924.6 743.2,924.6"/>
<polygon points="781.4,916 784.2,921.5 778.6,921.5"/>
<polygon points="816.7,920.7 819.5,926.1 813.9,926.1"/>
<polygon points="852.1,917.2 854.9,922.7 849.3,922.7"/>
<polygon points="887.4,918 890.2,923.4 884.6,923.4"/>
</g>
<polyline points="533.97,1061.72 569.32,1030.21 604.66,1005.29 640.01,971.09 675.35,950.32 710.7,932.25 746.05,935.67 781.39,942.51 816.74,951.06 852.08,981.84 887.43,1018.24" fill="none" stroke="#d62728" stroke-opacity="0.85" stroke-width="1.35" stroke-linejoin="round"/>
<g fill="#d62728" fill-opacity="0.75" stroke="#d62728" stroke-opacity="0.75" stroke-width="1">
<polygon points="534,1058.5 534.8,1060.6 537,1060.7 535.3,1062.1 535.9,1064.3 534,1063.1 532.1,1064.3 532.7,1062.1 530.9,1060.7 533.2,1060.6"/>
<polygon points="569.3,1027 570.1,1029.1 572.4,1029.2 570.6,1030.6 571.2,1032.8 569.3,1031.6 567.4,1032.8 568,1030.6 566.3,1029.2 568.5,1029.1"/>
<polygon points="604.7,1002.1 605.5,1004.2 607.7,1004.3 605.9,1005.7 606.6,1007.9 604.7,1006.6 602.8,1007.9 603.4,1005.7 601.6,1004.3 603.9,1004.2"/>
<polygon points="640,967.9 640.8,970 643.1,970.1 641.3,971.5 641.9,973.7 640,972.4 638.1,973.7 638.7,971.5 636.9,970.1 639.2,970"/>
<polygon points="675.4,947.1 676.1,949.2 678.4,949.3 676.6,950.7 677.2,952.9 675.4,951.7 673.5,952.9 674.1,950.7 672.3,949.3 674.6,949.2"/>
<polygon points="710.7,929 711.5,931.2 713.8,931.3 712,932.7 712.6,934.9 710.7,933.6 708.8,934.9 709.4,932.7 707.6,931.3 709.9,931.2"/>
<polygon points="746,932.4 746.8,934.6 749.1,934.7 747.3,936.1 747.9,938.3 746,937 744.2,938.3 744.8,936.1 743,934.7 745.3,934.6"/>
<polygon points="781.4,939.3 782.2,941.4 784.5,941.5 782.7,942.9 783.3,945.1 781.4,943.9 779.5,945.1 780.1,942.9 778.3,941.5 780.6,941.4"/>
<polygon points="816.7,947.8 817.5,950 819.8,950.1 818,951.5 818.6,953.7 816.7,952.4 814.8,953.7 815.5,951.5 813.7,950.1 815.9,950"/>
<polygon points="852.1,978.6 852.9,980.7 855.1,980.8 853.4,982.3 854,984.4 852.1,983.2 850.2,984.4 850.8,982.3 849,980.8 851.3,980.7"/>
<polygon points="887.4,1015 888.2,1017.1 890.5,1017.2 888.7,1018.7 889.3,1020.8 887.4,1019.6 885.5,1020.8 886.1,1018.7 884.4,1017.2 886.6,1017.1"/>
</g>
<polyline points="533.97,1061.72 569.32,1030.21 604.66,1005.29 640.01,971.09 675.35,950.32 710.7,932.25 746.05,926.63 781.39,957.9 816.74,990.63 852.08,1041.2 887.43,1043.65" fill="none" stroke="#d62728" stroke-opacity="0.85" stroke-width="1.35" stroke-linejoin="round" stroke-dasharray="5.0,2.2"/>
<g fill="#d62728" fill-opacity="0.75" stroke="#d62728" stroke-opacity="0.75" stroke-width="1">
<polygon points="534,1058.9 536.4,1060.3 536.4,1063.2 534,1064.6 531.5,1063.2 531.5,1060.3"/>
<polygon points="569.3,1027.4 571.8,1028.8 571.8,1031.6 569.3,1033.1 566.8,1031.6 566.8,1028.8"/>
<polygon points="604.7,1002.4 607.1,1003.9 607.1,1006.7 604.7,1008.1 602.2,1006.7 602.2,1003.9"/>
<polygon points="640,968.2 642.5,969.7 642.5,972.5 640,973.9 637.5,972.5 637.5,969.7"/>
<polygon points="675.4,947.5 677.8,948.9 677.8,951.8 675.4,953.2 672.9,951.8 672.9,948.9"/>
<polygon points="710.7,929.4 713.2,930.8 713.2,933.7 710.7,935.1 708.2,933.7 708.2,930.8"/>
<polygon points="746,923.8 748.5,925.2 748.5,928.1 746,929.5 743.6,928.1 743.6,925.2"/>
<polygon points="781.4,955 783.9,956.5 783.9,959.3 781.4,960.8 778.9,959.3 778.9,956.5"/>
<polygon points="816.7,987.8 819.2,989.2 819.2,992.1 816.7,993.5 814.3,992.1 814.3,989.2"/>
<polygon points="852.1,1038.3 854.6,1039.8 854.6,1042.6 852.1,1044.1 849.6,1042.6 849.6,1039.8"/>
<polygon points="887.4,1040.8 889.9,1042.2 889.9,1045.1 887.4,1046.5 885,1045.1 885,1042.2"/>
</g>
</g>
<line x1="710.7" y1="1122.8" x2="710.7" y2="878.5" stroke="#000" stroke-width="1.35" stroke-dasharray="5.0,2.35"/>
<line x1="515.8" y1="878.5" x2="905.6" y2="878.5" stroke="#000" stroke-opacity="1.0" stroke-width="1.0"/>
<line x1="515.8" y1="1122.5" x2="905.6" y2="1122.5" stroke="#000" stroke-opacity="0.45" stroke-width="1.0"/>
<line x1="516.3" y1="879" x2="516.3" y2="1122.3" stroke="#000" stroke-opacity="0.85" stroke-width="1.05"/>
<line x1="905.1" y1="879" x2="905.1" y2="1122.3" stroke="#000" stroke-opacity="0.45" stroke-width="1.05"/>
<polyline clip-path="url(#c7)" points="533.97,1061.72 569.32,1040.23 604.66,1015.31 640.01,996.99 675.35,975.49 710.7,959.36 746.05,937.13 781.39,928.58 816.74,921.25 852.08,914.41 887.43,910.5" fill="none" stroke="#000" stroke-opacity="0.4" stroke-width="4.8" stroke-linejoin="round" stroke-linecap="butt"/>
<line x1="512.7" y1="1122.5" x2="516.3" y2="1122.5" stroke="#111" stroke-width="1.0"/>
<text x="487.29" y="1127.45" font-family="Liberation Sans, sans-serif" font-size="14.8" textLength="21.38" lengthAdjust="spacingAndGlyphs">0.0</text>
<line x1="512.7" y1="1073.5" x2="516.3" y2="1073.5" stroke="#111" stroke-width="1.0"/>
<text x="487.3" y="1078.59" font-family="Liberation Sans, sans-serif" font-size="14.8" textLength="21.06" lengthAdjust="spacingAndGlyphs">0.2</text>
<line x1="512.7" y1="1025.5" x2="516.3" y2="1025.5" stroke="#111" stroke-width="1.0"/>
<text x="487.29" y="1029.73" font-family="Liberation Sans, sans-serif" font-size="14.8" textLength="21.37" lengthAdjust="spacingAndGlyphs">0.4</text>
<line x1="512.7" y1="976.5" x2="516.3" y2="976.5" stroke="#111" stroke-width="1.0"/>
<text x="487.29" y="980.87" font-family="Liberation Sans, sans-serif" font-size="14.8" textLength="21.51" lengthAdjust="spacingAndGlyphs">0.6</text>
<line x1="512.7" y1="927.5" x2="516.3" y2="927.5" stroke="#111" stroke-width="1.0"/>
<text x="487.29" y="932.01" font-family="Liberation Sans, sans-serif" font-size="14.8" textLength="21.42" lengthAdjust="spacingAndGlyphs">0.8</text>
<line x1="512.7" y1="878.5" x2="516.3" y2="878.5" stroke="#111" stroke-width="1.0"/>
<text x="487.34" y="883.15" font-family="Liberation Sans, sans-serif" font-size="14.8" textLength="21.33" lengthAdjust="spacingAndGlyphs">1.0</text>
<line x1="533.97" y1="1122.8" x2="533.97" y2="1126.4" stroke="#111" stroke-width="1.05"/>
<text x="526.85" y="1141.25" font-family="Liberation Sans, sans-serif" font-size="14.8" textLength="7.65" lengthAdjust="spacingAndGlyphs">2</text>
<text x="535.67" y="1136.1" font-family="Liberation Sans, sans-serif" font-size="10.4" textLength="5.51" lengthAdjust="spacingAndGlyphs">0</text>
<line x1="569.32" y1="1122.8" x2="569.32" y2="1126.4" stroke="#111" stroke-width="1.05"/>
<text x="562.19" y="1141.25" font-family="Liberation Sans, sans-serif" font-size="14.8" textLength="7.65" lengthAdjust="spacingAndGlyphs">2</text>
<text x="571.12" y="1136.1" font-family="Liberation Sans, sans-serif" font-size="10.4" textLength="5.22" lengthAdjust="spacingAndGlyphs">1</text>
<line x1="604.66" y1="1122.8" x2="604.66" y2="1126.4" stroke="#111" stroke-width="1.05"/>
<text x="597.54" y="1141.25" font-family="Liberation Sans, sans-serif" font-size="14.8" textLength="7.65" lengthAdjust="spacingAndGlyphs">2</text>
<text x="606.34" y="1136.1" font-family="Liberation Sans, sans-serif" font-size="10.4" textLength="5.28" lengthAdjust="spacingAndGlyphs">2</text>
<line x1="640.01" y1="1122.8" x2="640.01" y2="1126.4" stroke="#111" stroke-width="1.05"/>
<text x="632.88" y="1141.25" font-family="Liberation Sans, sans-serif" font-size="14.8" textLength="7.65" lengthAdjust="spacingAndGlyphs">2</text>
<text x="641.83" y="1136.1" font-family="Liberation Sans, sans-serif" font-size="10.4" textLength="5.28" lengthAdjust="spacingAndGlyphs">3</text>
<line x1="675.35" y1="1122.8" x2="675.35" y2="1126.4" stroke="#111" stroke-width="1.05"/>
<text x="668.23" y="1141.25" font-family="Liberation Sans, sans-serif" font-size="14.8" textLength="7.65" lengthAdjust="spacingAndGlyphs">2</text>
<text x="677.04" y="1136.1" font-family="Liberation Sans, sans-serif" font-size="10.4" textLength="5.51" lengthAdjust="spacingAndGlyphs">4</text>
<line x1="710.7" y1="1122.8" x2="710.7" y2="1126.4" stroke="#111" stroke-width="1.05"/>
<text x="703.57" y="1141.25" font-family="Liberation Sans, sans-serif" font-size="14.8" textLength="7.65" lengthAdjust="spacingAndGlyphs">2</text>
<text x="712.51" y="1136.1" font-family="Liberation Sans, sans-serif" font-size="10.4" textLength="5.18" lengthAdjust="spacingAndGlyphs">5</text>
<line x1="746.05" y1="1122.8" x2="746.05" y2="1126.4" stroke="#111" stroke-width="1.05"/>
<text x="738.92" y="1141.25" font-family="Liberation Sans, sans-serif" font-size="14.8" textLength="7.65" lengthAdjust="spacingAndGlyphs">2</text>
<text x="747.64" y="1136.1" font-family="Liberation Sans, sans-serif" font-size="10.4" textLength="5.7" lengthAdjust="spacingAndGlyphs">6</text>
<line x1="781.39" y1="1122.8" x2="781.39" y2="1126.4" stroke="#111" stroke-width="1.05"/>
<text x="774.26" y="1141.25" font-family="Liberation Sans, sans-serif" font-size="14.8" textLength="7.65" lengthAdjust="spacingAndGlyphs">2</text>
<text x="783.14" y="1136.1" font-family="Liberation Sans, sans-serif" font-size="10.4" textLength="5.37" lengthAdjust="spacingAndGlyphs">7</text>
<line x1="816.74" y1="1122.8" x2="816.74" y2="1126.4" stroke="#111" stroke-width="1.05"/>
<text x="809.61" y="1141.25" font-family="Liberation Sans, sans-serif" font-size="14.8" textLength="7.65" lengthAdjust="spacingAndGlyphs">2</text>
<text x="818.41" y="1136.1" font-family="Liberation Sans, sans-serif" font-size="10.4" textLength="5.55" lengthAdjust="spacingAndGlyphs">8</text>
<line x1="852.08" y1="1122.8" x2="852.08" y2="1126.4" stroke="#111" stroke-width="1.05"/>
<text x="844.95" y="1141.25" font-family="Liberation Sans, sans-serif" font-size="14.8" textLength="7.65" lengthAdjust="spacingAndGlyphs">2</text>
<text x="853.65" y="1136.1" font-family="Liberation Sans, sans-serif" font-size="10.4" textLength="5.68" lengthAdjust="spacingAndGlyphs">9</text>
<line x1="887.43" y1="1122.8" x2="887.43" y2="1126.4" stroke="#111" stroke-width="1.05"/>
<text x="877.19" y="1141.25" font-family="Liberation Sans, sans-serif" font-size="14.8" textLength="7.65" lengthAdjust="spacingAndGlyphs">2</text>
<text x="886.02" y="1136.1" font-family="Liberation Sans, sans-serif" font-size="10.4" textLength="11.74" lengthAdjust="spacingAndGlyphs">10</text>
<text x="692.13" y="872.6" font-family="Liberation Sans, sans-serif" font-size="17.2" font-style="italic" textLength="8.06" lengthAdjust="spacingAndGlyphs">k</text>
<text x="704.65" y="872.6" font-family="Liberation Sans, sans-serif" font-size="17.2" textLength="12.5" lengthAdjust="spacingAndGlyphs">=</text>
<text x="722.14" y="872.6" font-family="Liberation Sans, sans-serif" font-size="17.2" textLength="8.61" lengthAdjust="spacingAndGlyphs">4</text>
<text x="667.48" y="1159.2" font-family="Liberation Sans, sans-serif" font-size="14.4" textLength="85.08" lengthAdjust="spacingAndGlyphs">Query Index</text>
<clipPath id="c8"><rect x="948.5" y="878.5" width="388.9" height="244.3"/></clipPath>
<line x1="948.5" y1="1073.5" x2="1337.4" y2="1073.5" stroke="#b0b0b0" stroke-opacity="0.3" stroke-width="0.9" stroke-dasharray="2.8,1.1"/>
<line x1="948.5" y1="1025.5" x2="1337.4" y2="1025.5" stroke="#b0b0b0" stroke-opacity="0.3" stroke-width="0.9" stroke-dasharray="2.8,1.1"/>
<line x1="948.5" y1="976.5" x2="1337.4" y2="976.5" stroke="#b0b0b0" stroke-opacity="0.3" stroke-width="0.9" stroke-dasharray="2.8,1.1"/>
<line x1="948.5" y1="927.5" x2="1337.4" y2="927.5" stroke="#b0b0b0" stroke-opacity="0.3" stroke-width="0.9" stroke-dasharray="2.8,1.1"/>
<g clip-path="url(#c8)">
<polyline points="966.18,1091.04 1001.53,1081.27 1036.89,1073.94 1072.24,1071.01 1107.6,1065.88 1142.95,1065.63 1178.3,1068.32 1213.66,1069.79 1249.01,1062.7 1284.37,1063.92 1319.72,1067.83" fill="none" stroke="#1f77b4" stroke-opacity="0.85" stroke-width="1.35" stroke-linejoin="round"/>
<g fill="#1f77b4" fill-opacity="0.75" stroke="#1f77b4" stroke-opacity="0.75" stroke-width="1">
<circle cx="966.2" cy="1091" r="2.8"/>
<circle cx="1001.5" cy="1081.3" r="2.8"/>
<circle cx="1036.9" cy="1073.9" r="2.8"/>
<circle cx="1072.2" cy="1071" r="2.8"/>
<circle cx="1107.6" cy="1065.9" r="2.8"/>
<circle cx="1143" cy="1065.6" r="2.8"/>
<circle cx="1178.3" cy="1068.3" r="2.8"/>
<circle cx="1213.7" cy="1069.8" r="2.8"/>
<circle cx="1249" cy="1062.7" r="2.8"/>
<circle cx="1284.4" cy="1063.9" r="2.8"/>
<circle cx="1319.7" cy="1067.8" r="2.8"/>
</g>
<polyline points="966.18,1091.04 1001.53,1081.27 1036.89,1069.05 1072.24,1052.44 1107.6,1040.96 1142.95,1019.22 1178.3,1000.65 1213.66,995.03 1249.01,1000.16 1284.37,997.47 1319.72,1004.31" fill="none" stroke="#1f77b4" stroke-opacity="0.85" stroke-width="1.35" stroke-linejoin="round" stroke-dasharray="5.0,2.2"/>
<g fill="#1f77b4" fill-opacity="0.75" stroke="#1f77b4" stroke-opacity="0.75" stroke-width="1">
<polygon points="963.5,1088.4 968.8,1088.4 968.8,1093.7 963.5,1093.7"/>
<polygon points="998.9,1078.6 1004.2,1078.6 1004.2,1083.9 998.9,1083.9"/>
<polygon points="1034.2,1066.4 1039.5,1066.4 1039.5,1071.7 1034.2,1071.7"/>
<polygon points="1069.6,1049.8 1074.9,1049.8 1074.9,1055.1 1069.6,1055.1"/>
<polygon points="1104.9,1038.3 1110.3,1038.3 1110.3,1043.6 1104.9,1043.6"/>
<polygon points="1140.3,1016.6 1145.6,1016.6 1145.6,1021.9 1140.3,1021.9"/>
<polygon points="1175.6,998 1181,998 1181,1003.3 1175.6,1003.3"/>
<polygon points="1211,992.4 1216.3,992.4 1216.3,997.7 1211,997.7"/>
<polygon points="1246.4,997.5 1251.7,997.5 1251.7,1002.8 1246.4,1002.8"/>
<polygon points="1281.7,994.8 1287,994.8 1287,1000.1 1281.7,1000.1"/>
<polygon points="1317.1,1001.7 1322.4,1001.7 1322.4,1007 1317.1,1007"/>
</g>
<polyline points="966.18,1093.73 1001.53,1087.13 1036.89,1073.94 1072.24,1071.5 1107.6,1063.68 1142.95,1062.95 1178.3,1053.66 1213.66,1053.66 1249.01,1053.42 1284.37,1058.06 1319.72,1053.66" fill="none" stroke="#1f77b4" stroke-opacity="0.85" stroke-width="1.35" stroke-linejoin="round" stroke-dasharray="1.35,2.2"/>
<g fill="#1f77b4" fill-opacity="0.75" stroke="#1f77b4" stroke-opacity="0.75" stroke-width="1">
<polygon points="966.2,1090.9 969,1096.4 963.4,1096.4"/>
<polygon points="1001.5,1084.3 1004.3,1089.8 998.7,1089.8"/>
<polygon points="1036.9,1071.1 1039.7,1076.6 1034.1,1076.6"/>
<polygon points="1072.2,1068.7 1075,1074.2 1069.4,1074.2"/>
<polygon points="1107.6,1060.9 1110.4,1066.3 1104.8,1066.3"/>
<polygon points="1143,1060.1 1145.8,1065.6 1140.2,1065.6"/>
<polygon points="1178.3,1050.9 1181.1,1056.3 1175.5,1056.3"/>
<polygon points="1213.7,1050.9 1216.5,1056.3 1210.9,1056.3"/>
<polygon points="1249,1050.6 1251.8,1056.1 1246.2,1056.1"/>
<polygon points="1284.4,1055.3 1287.2,1060.7 1281.6,1060.7"/>
<polygon points="1319.7,1050.9 1322.5,1056.3 1316.9,1056.3"/>
</g>
<polyline points="966.18,1088.6 1001.53,1081.27 1036.89,1075.41 1072.24,1071.01 1107.6,1081.27 1142.95,1072.96 1178.3,1075.41 1213.66,1069.79 1249.01,1064.17 1284.37,1074.43 1319.72,1074.43" fill="none" stroke="#ff7f0e" stroke-opacity="0.85" stroke-width="1.35" stroke-linejoin="round"/>
<g fill="#ff7f0e" fill-opacity="0.75" stroke="#ff7f0e" stroke-opacity="0.75" stroke-width="1">
<polygon points="966.2,1084.7 970.1,1088.6 966.2,1092.5 962.3,1088.6"/>
<polygon points="1001.5,1077.3 1005.5,1081.3 1001.5,1085.2 997.6,1081.3"/>
<polygon points="1036.9,1071.5 1040.8,1075.4 1036.9,1079.3 1033,1075.4"/>
<polygon points="1072.2,1067.1 1076.2,1071 1072.2,1074.9 1068.3,1071"/>
<polygon points="1107.6,1077.3 1111.5,1081.3 1107.6,1085.2 1103.7,1081.3"/>
<polygon points="1143,1069 1146.9,1073 1143,1076.9 1139,1073"/>
<polygon points="1178.3,1071.5 1182.2,1075.4 1178.3,1079.3 1174.4,1075.4"/>
<polygon points="1213.7,1065.9 1217.6,1069.8 1213.7,1073.7 1209.7,1069.8"/>
<polygon points="1249,1060.2 1252.9,1064.2 1249,1068.1 1245.1,1064.2"/>
<polygon points="1284.4,1070.5 1288.3,1074.4 1284.4,1078.3 1280.4,1074.4"/>
<polygon points="1319.7,1070.5 1323.6,1074.4 1319.7,1078.3 1315.8,1074.4"/>
</g>
<polyline points="966.18,1085.67 1001.53,1078.83 1036.89,1071.5 1072.24,1058.55 1107.6,1064.17 1142.95,1062.21 1178.3,1061.72 1213.66,1061.72 1249.01,1061.24 1284.37,1065.63 1319.72,1058.79" fill="none" stroke="#ff7f0e" stroke-opacity="0.85" stroke-width="1.35" stroke-linejoin="round" stroke-dasharray="5.0,2.2"/>
<g fill="#ff7f0e" fill-opacity="0.75" stroke="#ff7f0e" stroke-opacity="0.75" stroke-width="1">
<polygon points="966.2,1088.5 969,1083 963.4,1083"/>
<polygon points="1001.5,1081.6 1004.3,1076.2 998.7,1076.2"/>
<polygon points="1036.9,1074.3 1039.7,1068.8 1034.1,1068.8"/>
<polygon points="1072.2,1061.3 1075,1055.9 1069.4,1055.9"/>
<polygon points="1107.6,1067 1110.4,1061.5 1104.8,1061.5"/>
<polygon points="1143,1065 1145.8,1059.6 1140.2,1059.6"/>
<polygon points="1178.3,1064.5 1181.1,1059.1 1175.5,1059.1"/>
<polygon points="1213.7,1064.5 1216.5,1059.1 1210.9,1059.1"/>
<polygon points="1249,1064 1251.8,1058.6 1246.2,1058.6"/>
<polygon points="1284.4,1068.4 1287.2,1063 1281.6,1063"/>
<polygon points="1319.7,1061.6 1322.5,1056.1 1316.9,1056.1"/>
</g>
<polyline points="966.18,1091.04 1001.53,1076.38 1036.89,1078.34 1072.24,1068.81 1107.6,1073.21 1142.95,1073.21 1178.3,1067.83 1213.66,1076.38 1249.01,1074.43 1284.37,1079.31 1319.72,1076.38" fill="none" stroke="#2ca02c" stroke-opacity="0.85" stroke-width="1.35" stroke-linejoin="round"/>
<g fill="#2ca02c" fill-opacity="0.75" stroke="#2ca02c" stroke-opacity="0.75" stroke-width="1">
<polygon points="963.4,1091 968.8,1093.8 968.8,1088.2"/>
<polygon points="998.7,1076.4 1004.2,1079.2 1004.2,1073.6"/>
<polygon points="1034.1,1078.3 1039.5,1081.1 1039.5,1075.5"/>
<polygon points="1069.4,1068.8 1074.9,1071.6 1074.9,1066"/>
<polygon points="1104.8,1073.2 1110.3,1076 1110.3,1070.4"/>
<polygon points="1140.2,1073.2 1145.6,1076 1145.6,1070.4"/>
<polygon points="1175.5,1067.8 1181,1070.6 1181,1065"/>
<polygon points="1210.9,1076.4 1216.3,1079.2 1216.3,1073.6"/>
<polygon points="1246.2,1074.4 1251.7,1077.2 1251.7,1071.6"/>
<polygon points="1281.6,1079.3 1287,1082.1 1287,1076.5"/>
<polygon points="1316.9,1076.4 1322.4,1079.2 1322.4,1073.6"/>
</g>
<polyline points="966.18,1091.04 1001.53,1073.94 1036.89,1064.41 1072.24,1038.76 1107.6,1016.77 1142.95,993.81 1178.3,976.71 1213.66,976.22 1249.01,987.95 1284.37,995.52 1319.72,1005.54" fill="none" stroke="#2ca02c" stroke-opacity="0.85" stroke-width="1.35" stroke-linejoin="round" stroke-dasharray="5.0,2.2"/>
<g fill="#2ca02c" fill-opacity="0.75" stroke="#2ca02c" stroke-opacity="0.75" stroke-width="1">
<polygon points="969,1091 963.5,1093.8 963.5,1088.2"/>
<polygon points="1004.3,1073.9 998.9,1076.7 998.9,1071.1"/>
<polygon points="1039.7,1064.4 1034.2,1067.2 1034.2,1061.6"/>
<polygon points="1075,1038.8 1069.6,1041.6 1069.6,1036"/>
<polygon points="1110.4,1016.8 1104.9,1019.6 1104.9,1014"/>
<polygon points="1145.8,993.8 1140.3,996.6 1140.3,991"/>
<polygon points="1181.1,976.7 1175.6,979.5 1175.6,973.9"/>
<polygon points="1216.5,976.2 1211,979 1211,973.4"/>
<polygon points="1251.8,987.9 1246.4,990.7 1246.4,985.1"/>
<polygon points="1287.2,995.5 1281.7,998.3 1281.7,992.7"/>
<polygon points="1322.5,1005.5 1317.1,1008.3 1317.1,1002.7"/>
</g>
<polyline points="966.18,1091.04 1001.53,1073.94 1036.89,1064.41 1072.24,1038.76 1107.6,1016.77 1142.95,993.81 1178.3,966.45 1213.66,976.22 1249.01,1067.83 1284.37,1087.87 1319.72,1090.8" fill="none" stroke="#2ca02c" stroke-opacity="0.85" stroke-width="1.35" stroke-linejoin="round" stroke-dasharray="8.6,2.2,1.35,2.2"/>
<g fill="#2ca02c" fill-opacity="0.75" stroke="#2ca02c" stroke-opacity="0.75" stroke-width="1">
<polygon points="966.2,1088.2 968.9,1090.2 967.9,1093.4 964.5,1093.4 963.5,1090.2"/>
<polygon points="1001.5,1071.1 1004.2,1073.1 1003.2,1076.3 999.9,1076.3 998.8,1073.1"/>
<polygon points="1036.9,1061.6 1039.6,1063.5 1038.6,1066.7 1035.2,1066.7 1034.2,1063.5"/>
<polygon points="1072.2,1035.9 1075,1037.9 1073.9,1041.1 1070.6,1041.1 1069.5,1037.9"/>
<polygon points="1107.6,1013.9 1110.3,1015.9 1109.3,1019.1 1105.9,1019.1 1104.9,1015.9"/>
<polygon points="1143,991 1145.7,992.9 1144.6,996.1 1141.3,996.1 1140.2,992.9"/>
<polygon points="1178.3,963.6 1181,965.6 1180,968.8 1176.6,968.8 1175.6,965.6"/>
<polygon points="1213.7,973.4 1216.4,975.3 1215.3,978.5 1212,978.5 1210.9,975.3"/>
<polygon points="1249,1065 1251.7,1066.9 1250.7,1070.1 1247.3,1070.1 1246.3,1066.9"/>
<polygon points="1284.4,1085 1287.1,1087 1286,1090.2 1282.7,1090.2 1281.7,1087"/>
<polygon points="1319.7,1087.9 1322.4,1089.9 1321.4,1093.1 1318,1093.1 1317,1089.9"/>
</g>
<polyline points="966.18,1091.04 1001.53,1076.38 1036.89,1064.41 1072.24,1038.76 1107.6,1016.77 1142.95,990.15 1178.3,964.98 1213.66,953.26 1249.01,952.03 1284.37,965.72 1319.72,979.88" fill="none" stroke="#2ca02c" stroke-opacity="0.85" stroke-width="1.35" stroke-linejoin="round" stroke-dasharray="1.35,2.2"/>
<g fill="#2ca02c" fill-opacity="0.75" stroke="#2ca02c" stroke-opacity="0.75" stroke-width="1">
<polygon points="967.7,1088.4 968.8,1089.5 967.2,1091 968.8,1092.6 967.7,1093.6 966.2,1092.1 964.6,1093.6 963.6,1092.6 965.1,1091 963.6,1089.5 964.6,1088.4 966.2,1090"/>
<polygon points="1003.1,1073.8 1004.1,1074.8 1002.6,1076.4 1004.1,1077.9 1003.1,1079 1001.5,1077.4 1000,1079 998.9,1077.9 1000.5,1076.4 998.9,1074.8 1000,1073.8 1001.5,1075.4"/>
<polygon points="1038.5,1061.8 1039.5,1062.8 1037.9,1064.4 1039.5,1066 1038.5,1067 1036.9,1065.4 1035.3,1067 1034.3,1066 1035.9,1064.4 1034.3,1062.8 1035.3,1061.8 1036.9,1063.4"/>
<polygon points="1073.8,1036.2 1074.8,1037.2 1073.3,1038.8 1074.8,1040.3 1073.8,1041.4 1072.2,1039.8 1070.7,1041.4 1069.6,1040.3 1071.2,1038.8 1069.6,1037.2 1070.7,1036.2 1072.2,1037.7"/>
<polygon points="1109.2,1014.2 1110.2,1015.2 1108.6,1016.8 1110.2,1018.3 1109.2,1019.4 1107.6,1017.8 1106,1019.4 1105,1018.3 1106.6,1016.8 1105,1015.2 1106,1014.2 1107.6,1015.7"/>
<polygon points="1144.5,987.6 1145.5,988.6 1144,990.1 1145.5,991.7 1144.5,992.7 1143,991.2 1141.4,992.7 1140.4,991.7 1141.9,990.1 1140.4,988.6 1141.4,987.6 1143,989.1"/>
<polygon points="1179.9,962.4 1180.9,963.4 1179.3,965 1180.9,966.5 1179.9,967.6 1178.3,966 1176.7,967.6 1175.7,966.5 1177.3,965 1175.7,963.4 1176.7,962.4 1178.3,964"/>
<polygon points="1215.2,950.7 1216.3,951.7 1214.7,953.3 1216.3,954.8 1215.2,955.8 1213.7,954.3 1212.1,955.8 1211.1,954.8 1212.6,953.3 1211.1,951.7 1212.1,950.7 1213.7,952.2"/>
<polygon points="1250.6,949.4 1251.6,950.5 1250,952 1251.6,953.6 1250.6,954.6 1249,953.1 1247.4,954.6 1246.4,953.6 1248,952 1246.4,950.5 1247.4,949.4 1249,951"/>
<polygon points="1285.9,963.1 1287,964.2 1285.4,965.7 1287,967.3 1285.9,968.3 1284.4,966.7 1282.8,968.3 1281.8,967.3 1283.3,965.7 1281.8,964.2 1282.8,963.1 1284.4,964.7"/>
<polygon points="1321.3,977.3 1322.3,978.3 1320.8,979.9 1322.3,981.4 1321.3,982.5 1319.7,980.9 1318.2,982.5 1317.1,981.4 1318.7,979.9 1317.1,978.3 1318.2,977.3 1319.7,978.9"/>
</g>
<polyline points="966.18,1091.04 1001.53,1079.8 1036.89,1064.41 1072.24,1038.76 1107.6,1016.77 1142.95,993.08 1178.3,991.61 1213.66,1011.4 1249.01,1009.2 1284.37,1018 1319.72,1014.09" fill="none" stroke="#9467bd" stroke-opacity="0.85" stroke-width="1.35" stroke-linejoin="round"/>
<g fill="#9467bd" fill-opacity="0.75" stroke="#9467bd" stroke-opacity="0.75" stroke-width="1">
<polygon points="965.2,1088.2 967.1,1088.2 967.1,1090.1 969,1090.1 969,1092 967.1,1092 967.1,1093.8 965.2,1093.8 965.2,1092 963.4,1092 963.4,1090.1 965.2,1090.1"/>
<polygon points="1000.6,1077 1002.5,1077 1002.5,1078.9 1004.3,1078.9 1004.3,1080.8 1002.5,1080.8 1002.5,1082.6 1000.6,1082.6 1000.6,1080.8 998.7,1080.8 998.7,1078.9 1000.6,1078.9"/>
<polygon points="1035.9,1061.6 1037.8,1061.6 1037.8,1063.5 1039.7,1063.5 1039.7,1065.4 1037.8,1065.4 1037.8,1067.2 1035.9,1067.2 1035.9,1065.4 1034.1,1065.4 1034.1,1063.5 1035.9,1063.5"/>
<polygon points="1071.3,1036 1073.2,1036 1073.2,1037.8 1075,1037.8 1075,1039.7 1073.2,1039.7 1073.2,1041.6 1071.3,1041.6 1071.3,1039.7 1069.4,1039.7 1069.4,1037.8 1071.3,1037.8"/>
<polygon points="1106.6,1014 1108.5,1014 1108.5,1015.8 1110.4,1015.8 1110.4,1017.7 1108.5,1017.7 1108.5,1019.6 1106.6,1019.6 1106.6,1017.7 1104.8,1017.7 1104.8,1015.8 1106.6,1015.8"/>
<polygon points="1142,990.3 1143.9,990.3 1143.9,992.1 1145.8,992.1 1145.8,994 1143.9,994 1143.9,995.9 1142,995.9 1142,994 1140.2,994 1140.2,992.1 1142,992.1"/>
<polygon points="1177.4,988.8 1179.3,988.8 1179.3,990.7 1181.1,990.7 1181.1,992.6 1179.3,992.6 1179.3,994.4 1177.4,994.4 1177.4,992.6 1175.5,992.6 1175.5,990.7 1177.4,990.7"/>
<polygon points="1212.7,1008.6 1214.6,1008.6 1214.6,1010.4 1216.5,1010.4 1216.5,1012.4 1214.6,1012.4 1214.6,1014.2 1212.7,1014.2 1212.7,1012.4 1210.9,1012.4 1210.9,1010.4 1212.7,1010.4"/>
<polygon points="1248.1,1006.4 1250,1006.4 1250,1008.2 1251.8,1008.2 1251.8,1010.2 1250,1010.2 1250,1012 1248.1,1012 1248.1,1010.2 1246.2,1010.2 1246.2,1008.2 1248.1,1008.2"/>
<polygon points="1283.4,1015.2 1285.3,1015.2 1285.3,1017 1287.2,1017 1287.2,1018.9 1285.3,1018.9 1285.3,1020.8 1283.4,1020.8 1283.4,1018.9 1281.6,1018.9 1281.6,1017 1283.4,1017"/>
<polygon points="1318.8,1011.3 1320.7,1011.3 1320.7,1013.1 1322.5,1013.1 1322.5,1015 1320.7,1015 1320.7,1016.9 1318.8,1016.9 1318.8,1015 1316.9,1015 1316.9,1013.1 1318.8,1013.1"/>
</g>
<polyline points="966.18,1091.04 1001.53,1079.8 1036.89,1062.95 1072.24,1038.76 1107.6,1016.77 1142.95,993.81 1178.3,966.45 1213.66,967.43 1249.01,964.25 1284.37,972.56 1319.72,966.94" fill="none" stroke="#9467bd" stroke-opacity="0.85" stroke-width="1.35" stroke-linejoin="round" stroke-dasharray="5.0,2.2"/>
<g fill="#9467bd" fill-opacity="0.75" stroke="#9467bd" stroke-opacity="0.75" stroke-width="1">
<polygon points="966.2,1088.2 969,1093.7 963.4,1093.7"/>
<polygon points="1001.5,1077 1004.3,1082.5 998.7,1082.5"/>
<polygon points="1036.9,1060.1 1039.7,1065.6 1034.1,1065.6"/>
<polygon points="1072.2,1036 1075,1041.4 1069.4,1041.4"/>
<polygon points="1107.6,1014 1110.4,1019.4 1104.8,1019.4"/>
<polygon points="1143,991 1145.8,996.5 1140.2,996.5"/>
<polygon points="1178.3,963.6 1181.1,969.1 1175.5,969.1"/>
<polygon points="1213.7,964.6 1216.5,970.1 1210.9,970.1"/>
<polygon points="1249,961.4 1251.8,966.9 1246.2,966.9"/>
<polygon points="1284.4,969.8 1287.2,975.2 1281.6,975.2"/>
<polygon points="1319.7,964.1 1322.5,969.6 1316.9,969.6"/>
</g>
<polyline points="966.18,1089.33 1001.53,1079.8 1036.89,1064.41 1072.24,1038.76 1107.6,1016.77 1142.95,993.81 1178.3,1005.78 1213.66,1012.62 1249.01,1041.2 1284.37,1052.2 1319.72,1071.74" fill="none" stroke="#d62728" stroke-opacity="0.85" stroke-width="1.35" stroke-linejoin="round"/>
<g fill="#d62728" fill-opacity="0.75" stroke="#d62728" stroke-opacity="0.75" stroke-width="1">
<polygon points="966.2,1086.1 967,1088.2 969.2,1088.3 967.5,1089.7 968.1,1091.9 966.2,1090.7 964.3,1091.9 964.9,1089.7 963.1,1088.3 965.4,1088.2"/>
<polygon points="1001.5,1076.6 1002.3,1078.7 1004.6,1078.8 1002.8,1080.2 1003.4,1082.4 1001.5,1081.2 999.6,1082.4 1000.2,1080.2 998.5,1078.8 1000.7,1078.7"/>
<polygon points="1036.9,1061.2 1037.7,1063.3 1039.9,1063.4 1038.2,1064.8 1038.8,1067 1036.9,1065.8 1035,1067 1035.6,1064.8 1033.8,1063.4 1036.1,1063.3"/>
<polygon points="1072.2,1035.5 1073,1037.7 1075.3,1037.8 1073.5,1039.2 1074.1,1041.4 1072.2,1040.1 1070.3,1041.4 1071,1039.2 1069.2,1037.8 1071.4,1037.7"/>
<polygon points="1107.6,1013.6 1108.4,1015.7 1110.7,1015.8 1108.9,1017.2 1109.5,1019.4 1107.6,1018.1 1105.7,1019.4 1106.3,1017.2 1104.5,1015.8 1106.8,1015.7"/>
<polygon points="1143,990.6 1143.7,992.7 1146,992.8 1144.2,994.2 1144.8,996.4 1143,995.2 1141.1,996.4 1141.7,994.2 1139.9,992.8 1142.2,992.7"/>
<polygon points="1178.3,1002.6 1179.1,1004.7 1181.4,1004.8 1179.6,1006.2 1180.2,1008.4 1178.3,1007.1 1176.4,1008.4 1177,1006.2 1175.2,1004.8 1177.5,1004.7"/>
<polygon points="1213.7,1009.4 1214.5,1011.5 1216.7,1011.6 1214.9,1013 1215.6,1015.2 1213.7,1014 1211.8,1015.2 1212.4,1013 1210.6,1011.6 1212.9,1011.5"/>
<polygon points="1249,1038 1249.8,1040.1 1252.1,1040.2 1250.3,1041.6 1250.9,1043.8 1249,1042.6 1247.1,1043.8 1247.7,1041.6 1246,1040.2 1248.2,1040.1"/>
<polygon points="1284.4,1049 1285.2,1051.1 1287.4,1051.2 1285.7,1052.6 1286.3,1054.8 1284.4,1053.5 1282.5,1054.8 1283.1,1052.6 1281.3,1051.2 1283.6,1051.1"/>
<polygon points="1319.7,1068.5 1320.5,1070.6 1322.8,1070.7 1321,1072.2 1321.6,1074.3 1319.7,1073.1 1317.8,1074.3 1318.4,1072.2 1316.7,1070.7 1318.9,1070.6"/>
</g>
<polyline points="966.18,1089.33 1001.53,1079.8 1036.89,1064.41 1072.24,1038.76 1107.6,1016.77 1142.95,994.05 1178.3,965.47 1213.66,970.36 1249.01,1056.59 1284.37,1089.82 1319.72,1090.8" fill="none" stroke="#d62728" stroke-opacity="0.85" stroke-width="1.35" stroke-linejoin="round" stroke-dasharray="5.0,2.2"/>
<g fill="#d62728" fill-opacity="0.75" stroke="#d62728" stroke-opacity="0.75" stroke-width="1">
<polygon points="966.2,1086.5 968.7,1087.9 968.7,1090.8 966.2,1092.2 963.7,1090.8 963.7,1087.9"/>
<polygon points="1001.5,1076.9 1004,1078.4 1004,1081.2 1001.5,1082.7 999.1,1081.2 999.1,1078.4"/>
<polygon points="1036.9,1061.6 1039.4,1063 1039.4,1065.8 1036.9,1067.3 1034.4,1065.8 1034.4,1063"/>
<polygon points="1072.2,1035.9 1074.7,1037.3 1074.7,1040.2 1072.2,1041.6 1069.8,1040.2 1069.8,1037.3"/>
<polygon points="1107.6,1013.9 1110.1,1015.3 1110.1,1018.2 1107.6,1019.6 1105.1,1018.2 1105.1,1015.3"/>
<polygon points="1143,991.2 1145.4,992.6 1145.4,995.5 1143,996.9 1140.5,995.5 1140.5,992.6"/>
<polygon points="1178.3,962.6 1180.8,964 1180.8,966.9 1178.3,968.3 1175.8,966.9 1175.8,964"/>
<polygon points="1213.7,967.5 1216.1,968.9 1216.1,971.8 1213.7,973.2 1211.2,971.8 1211.2,968.9"/>
<polygon points="1249,1053.7 1251.5,1055.2 1251.5,1058 1249,1059.5 1246.5,1058 1246.5,1055.2"/>
<polygon points="1284.4,1087 1286.8,1088.4 1286.8,1091.2 1284.4,1092.7 1281.9,1091.2 1281.9,1088.4"/>
<polygon points="1319.7,1087.9 1322.2,1089.4 1322.2,1092.2 1319.7,1093.7 1317.2,1092.2 1317.2,1089.4"/>
</g>
</g>
<line x1="1142.95" y1="1122.8" x2="1142.95" y2="878.5" stroke="#000" stroke-width="1.35" stroke-dasharray="5.0,2.35"/>
<line x1="948" y1="878.5" x2="1337.9" y2="878.5" stroke="#000" stroke-opacity="1.0" stroke-width="1.0"/>
<line x1="948" y1="1122.5" x2="1337.9" y2="1122.5" stroke="#000" stroke-opacity="0.45" stroke-width="1.0"/>
<line x1="948.5" y1="879" x2="948.5" y2="1122.3" stroke="#000" stroke-opacity="0.6" stroke-width="1.05"/>
<line x1="1337.4" y1="879" x2="1337.4" y2="1122.3" stroke="#000" stroke-opacity="1.0" stroke-width="1.05"/>
<polyline clip-path="url(#c8)" points="966.18,1091.53 1001.53,1079.8 1036.89,1068.08 1072.24,1051.95 1107.6,1035.1 1142.95,1009.93 1178.3,988.68 1213.66,971.82 1249.01,958.14 1284.37,949.1 1319.72,944.46" fill="none" stroke="#000" stroke-opacity="0.4" stroke-width="4.8" stroke-linejoin="round" stroke-linecap="butt"/>
<line x1="944.9" y1="1122.5" x2="948.5" y2="1122.5" stroke="#111" stroke-width="1.0"/>
<text x="919.49" y="1127.45" font-family="Liberation Sans, sans-serif" font-size="14.8" textLength="21.38" lengthAdjust="spacingAndGlyphs">0.0</text>
<line x1="944.9" y1="1073.5" x2="948.5" y2="1073.5" stroke="#111" stroke-width="1.0"/>
<text x="919.5" y="1078.59" font-family="Liberation Sans, sans-serif" font-size="14.8" textLength="21.06" lengthAdjust="spacingAndGlyphs">0.2</text>
<line x1="944.9" y1="1025.5" x2="948.5" y2="1025.5" stroke="#111" stroke-width="1.0"/>
<text x="919.49" y="1029.73" font-family="Liberation Sans, sans-serif" font-size="14.8" textLength="21.37" lengthAdjust="spacingAndGlyphs">0.4</text>
<line x1="944.9" y1="976.5" x2="948.5" y2="976.5" stroke="#111" stroke-width="1.0"/>
<text x="919.49" y="980.87" font-family="Liberation Sans, sans-serif" font-size="14.8" textLength="21.51" lengthAdjust="spacingAndGlyphs">0.6</text>
<line x1="944.9" y1="927.5" x2="948.5" y2="927.5" stroke="#111" stroke-width="1.0"/>
<text x="919.49" y="932.01" font-family="Liberation Sans, sans-serif" font-size="14.8" textLength="21.42" lengthAdjust="spacingAndGlyphs">0.8</text>
<line x1="944.9" y1="878.5" x2="948.5" y2="878.5" stroke="#111" stroke-width="1.0"/>
<text x="919.54" y="883.15" font-family="Liberation Sans, sans-serif" font-size="14.8" textLength="21.33" lengthAdjust="spacingAndGlyphs">1.0</text>
<line x1="966.18" y1="1122.8" x2="966.18" y2="1126.4" stroke="#111" stroke-width="1.05"/>
<text x="959.05" y="1141.25" font-family="Liberation Sans, sans-serif" font-size="14.8" textLength="7.65" lengthAdjust="spacingAndGlyphs">2</text>
<text x="967.87" y="1136.1" font-family="Liberation Sans, sans-serif" font-size="10.4" textLength="5.51" lengthAdjust="spacingAndGlyphs">0</text>
<line x1="1001.53" y1="1122.8" x2="1001.53" y2="1126.4" stroke="#111" stroke-width="1.05"/>
<text x="994.4" y="1141.25" font-family="Liberation Sans, sans-serif" font-size="14.8" textLength="7.65" lengthAdjust="spacingAndGlyphs">2</text>
<text x="1003.33" y="1136.1" font-family="Liberation Sans, sans-serif" font-size="10.4" textLength="5.22" lengthAdjust="spacingAndGlyphs">1</text>
<line x1="1036.89" y1="1122.8" x2="1036.89" y2="1126.4" stroke="#111" stroke-width="1.05"/>
<text x="1029.76" y="1141.25" font-family="Liberation Sans, sans-serif" font-size="14.8" textLength="7.65" lengthAdjust="spacingAndGlyphs">2</text>
<text x="1038.56" y="1136.1" font-family="Liberation Sans, sans-serif" font-size="10.4" textLength="5.28" lengthAdjust="spacingAndGlyphs">2</text>
<line x1="1072.24" y1="1122.8" x2="1072.24" y2="1126.4" stroke="#111" stroke-width="1.05"/>
<text x="1065.11" y="1141.25" font-family="Liberation Sans, sans-serif" font-size="14.8" textLength="7.65" lengthAdjust="spacingAndGlyphs">2</text>
<text x="1074.06" y="1136.1" font-family="Liberation Sans, sans-serif" font-size="10.4" textLength="5.28" lengthAdjust="spacingAndGlyphs">3</text>
<line x1="1107.6" y1="1122.8" x2="1107.6" y2="1126.4" stroke="#111" stroke-width="1.05"/>
<text x="1100.47" y="1141.25" font-family="Liberation Sans, sans-serif" font-size="14.8" textLength="7.65" lengthAdjust="spacingAndGlyphs">2</text>
<text x="1109.28" y="1136.1" font-family="Liberation Sans, sans-serif" font-size="10.4" textLength="5.51" lengthAdjust="spacingAndGlyphs">4</text>
<line x1="1142.95" y1="1122.8" x2="1142.95" y2="1126.4" stroke="#111" stroke-width="1.05"/>
<text x="1135.82" y="1141.25" font-family="Liberation Sans, sans-serif" font-size="14.8" textLength="7.65" lengthAdjust="spacingAndGlyphs">2</text>
<text x="1144.76" y="1136.1" font-family="Liberation Sans, sans-serif" font-size="10.4" textLength="5.18" lengthAdjust="spacingAndGlyphs">5</text>
<line x1="1178.3" y1="1122.8" x2="1178.3" y2="1126.4" stroke="#111" stroke-width="1.05"/>
<text x="1171.18" y="1141.25" font-family="Liberation Sans, sans-serif" font-size="14.8" textLength="7.65" lengthAdjust="spacingAndGlyphs">2</text>
<text x="1179.9" y="1136.1" font-family="Liberation Sans, sans-serif" font-size="10.4" textLength="5.7" lengthAdjust="spacingAndGlyphs">6</text>
<line x1="1213.66" y1="1122.8" x2="1213.66" y2="1126.4" stroke="#111" stroke-width="1.05"/>
<text x="1206.53" y="1141.25" font-family="Liberation Sans, sans-serif" font-size="14.8" textLength="7.65" lengthAdjust="spacingAndGlyphs">2</text>
<text x="1215.4" y="1136.1" font-family="Liberation Sans, sans-serif" font-size="10.4" textLength="5.37" lengthAdjust="spacingAndGlyphs">7</text>
<line x1="1249.01" y1="1122.8" x2="1249.01" y2="1126.4" stroke="#111" stroke-width="1.05"/>
<text x="1241.89" y="1141.25" font-family="Liberation Sans, sans-serif" font-size="14.8" textLength="7.65" lengthAdjust="spacingAndGlyphs">2</text>
<text x="1250.68" y="1136.1" font-family="Liberation Sans, sans-serif" font-size="10.4" textLength="5.55" lengthAdjust="spacingAndGlyphs">8</text>
<line x1="1284.37" y1="1122.8" x2="1284.37" y2="1126.4" stroke="#111" stroke-width="1.05"/>
<text x="1277.24" y="1141.25" font-family="Liberation Sans, sans-serif" font-size="14.8" textLength="7.65" lengthAdjust="spacingAndGlyphs">2</text>
<text x="1285.94" y="1136.1" font-family="Liberation Sans, sans-serif" font-size="10.4" textLength="5.68" lengthAdjust="spacingAndGlyphs">9</text>
<line x1="1319.72" y1="1122.8" x2="1319.72" y2="1126.4" stroke="#111" stroke-width="1.05"/>
<text x="1309.48" y="1141.25" font-family="Liberation Sans, sans-serif" font-size="14.8" textLength="7.65" lengthAdjust="spacingAndGlyphs">2</text>
<text x="1318.32" y="1136.1" font-family="Liberation Sans, sans-serif" font-size="10.4" textLength="11.74" lengthAdjust="spacingAndGlyphs">10</text>
<text x="1124.38" y="872.6" font-family="Liberation Sans, sans-serif" font-size="17.2" font-style="italic" textLength="8.06" lengthAdjust="spacingAndGlyphs">k</text>
<text x="1136.9" y="872.6" font-family="Liberation Sans, sans-serif" font-size="17.2" textLength="12.5" lengthAdjust="spacingAndGlyphs">=</text>
<text x="1154.04" y="872.6" font-family="Liberation Sans, sans-serif" font-size="17.2" textLength="9.23" lengthAdjust="spacingAndGlyphs">8</text>
<text x="1099.73" y="1159.2" font-family="Liberation Sans, sans-serif" font-size="14.4" textLength="85.08" lengthAdjust="spacingAndGlyphs">Query Index</text>
<g transform="translate(48.3,214.7) rotate(-90)"><text x="-0.03" y="0" font-size="14.4" textLength="61.06" lengthAdjust="spacingAndGlyphs">Accuracy</text></g>
<g transform="translate(48.3,660) rotate(-90)"><text x="-1.26" y="0" font-size="14.4" textLength="138.72" lengthAdjust="spacingAndGlyphs">Mean Squared Error</text></g>
<g transform="translate(48.3,1030.8) rotate(-90)"><text x="-0.03" y="0" font-size="14.4" textLength="61.06" lengthAdjust="spacingAndGlyphs">Accuracy</text></g>
<text x="556.13" y="396.2" font-family="Liberation Serif, serif" font-size="31.1" textLength="262.47" lengthAdjust="spacingAndGlyphs">(a) Associative recall</text>
<text x="556.83" y="805" font-family="Liberation Serif, serif" font-size="31.1" textLength="260.34" lengthAdjust="spacingAndGlyphs">(b) Linear regression</text>
<text x="516.04" y="1213.8" font-family="Liberation Serif, serif" font-size="31.1" textLength="341.73" lengthAdjust="spacingAndGlyphs">(c) Multiclass classification</text>
</svg></div></body></html>
